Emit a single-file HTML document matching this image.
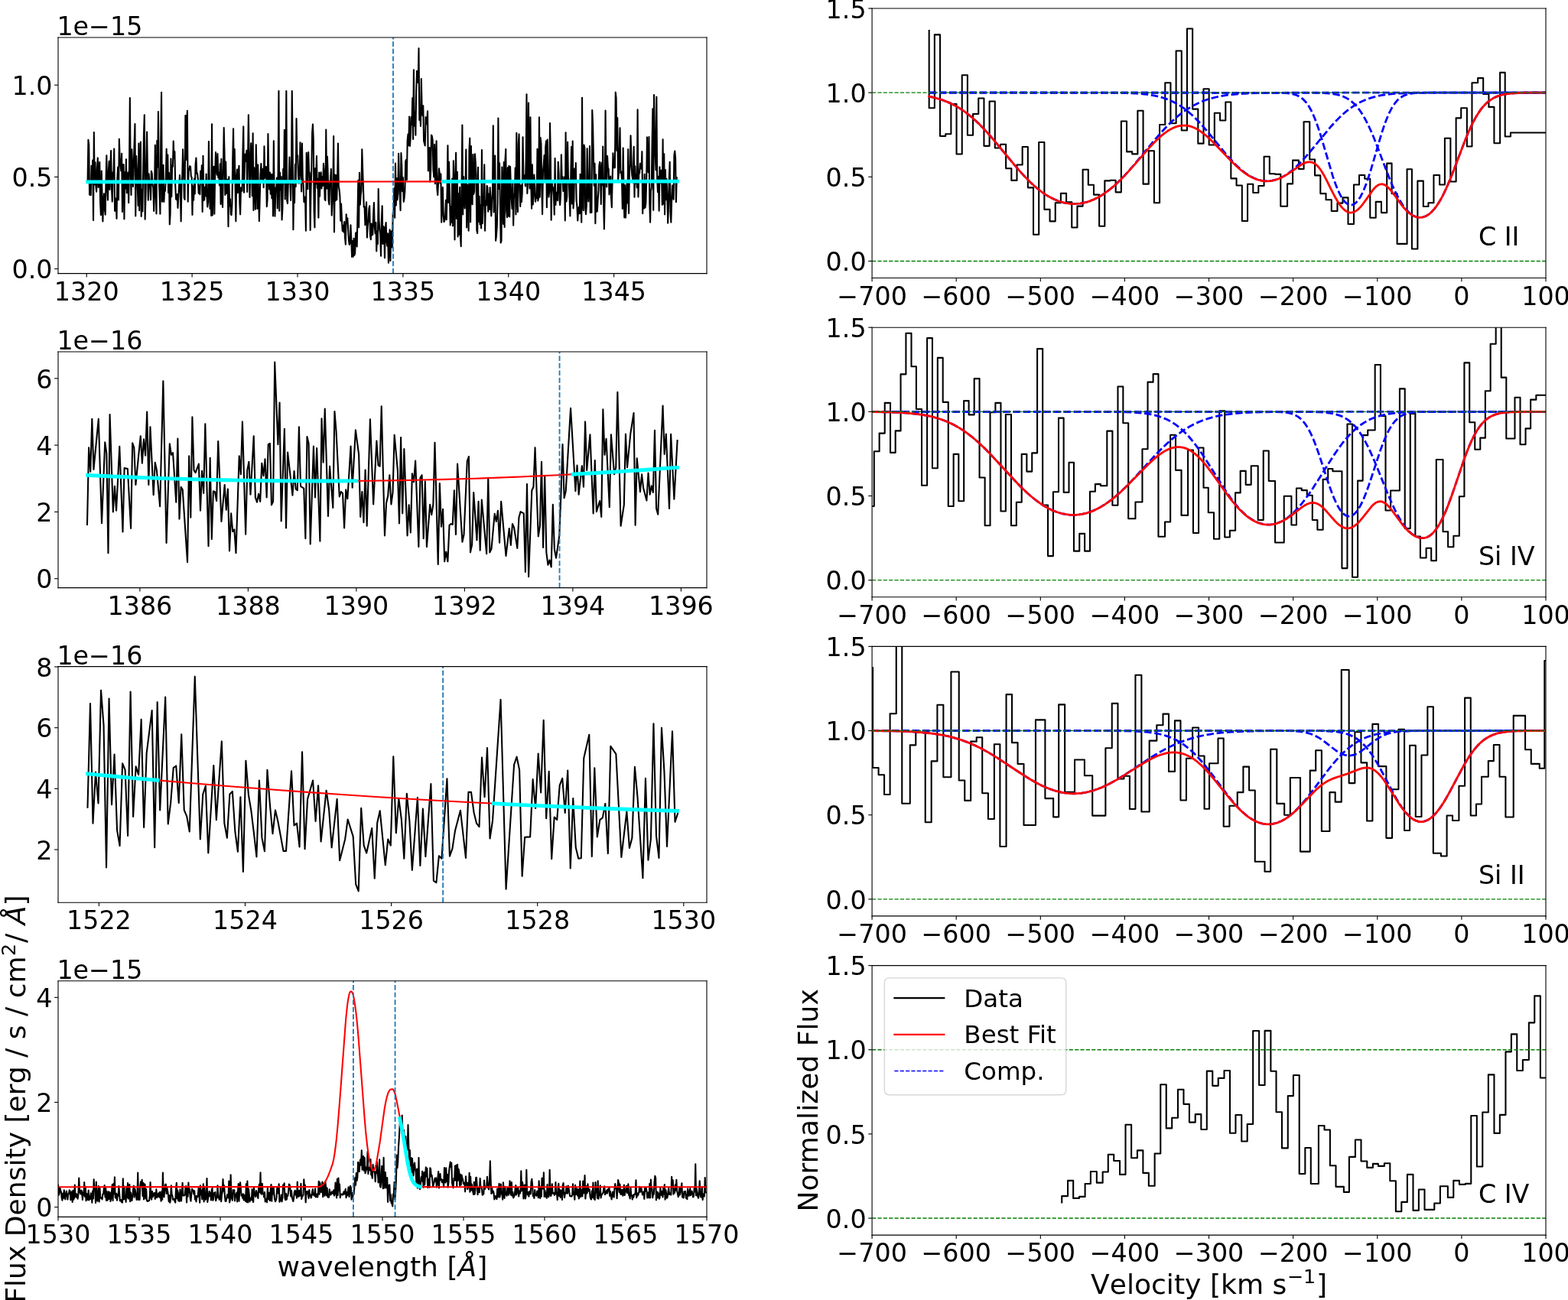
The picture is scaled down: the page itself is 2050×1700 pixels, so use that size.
<!DOCTYPE html>
<html><head><meta charset="utf-8"><title>spectra</title><style>html,body{margin:0;padding:0;background:#fff;width:2050px;height:1700px;overflow:hidden}svg{display:block}</style></head><body>
<svg xmlns:xlink="http://www.w3.org/1999/xlink" width="2050" height="1700" viewBox="0 0 1476 1224" xmlns="http://www.w3.org/2000/svg" version="1.1">
 <defs>
  <style type="text/css">*{stroke-linejoin: round; stroke-linecap: butt}</style>
 </defs>
 <g id="figure_1">
  <g id="patch_1">
   <path d="M 0 1224
L 1476 1224
L 1476 0
L 0 0
z
" style="fill: #ffffff"/>
  </g>
  <g id="axes_1">
   <g id="patch_2">
    <path d="M 54.72 257.47
L 665.28 257.47
L 665.28 35.28
L 54.72 35.28
z
" style="fill: #ffffff"/>
   </g>
   <g id="matplotlib.axis_1">
    <g id="xtick_1">
     <g id="line2d_1">
      <defs>
       <path id="m7c25c535dc" d="M 0 0
L 0 3.5
" style="stroke: #000000; stroke-width: 0.8"/>
      </defs>
      <g>
       <use xlink:href="#m7c25c535dc" x="81.52" y="257.47" style="stroke: #000000; stroke-width: 0.8"/>
      </g>
     </g>
     <g id="text_1">
      <text style="font-size: 24px; font-family: 'DejaVu Sans', 'Bitstream Vera Sans', 'Computer Modern Sans Serif', 'Lucida Grande', 'Verdana', 'Geneva', 'Lucid', 'Arial', 'Helvetica', 'Avant Garde', sans-serif; text-anchor: middle" x="81.52" y="282.70" transform="rotate(-0 81.52 282.70)">1320</text>
     </g>
    </g>
    <g id="xtick_2">
     <g id="line2d_2">
      <g>
       <use xlink:href="#m7c25c535dc" x="180.80" y="257.47" style="stroke: #000000; stroke-width: 0.8"/>
      </g>
     </g>
     <g id="text_2">
      <text style="font-size: 24px; font-family: 'DejaVu Sans', 'Bitstream Vera Sans', 'Computer Modern Sans Serif', 'Lucida Grande', 'Verdana', 'Geneva', 'Lucid', 'Arial', 'Helvetica', 'Avant Garde', sans-serif; text-anchor: middle" x="180.80" y="282.70" transform="rotate(-0 180.80 282.70)">1325</text>
     </g>
    </g>
    <g id="xtick_3">
     <g id="line2d_3">
      <g>
       <use xlink:href="#m7c25c535dc" x="280.08" y="257.47" style="stroke: #000000; stroke-width: 0.8"/>
      </g>
     </g>
     <g id="text_3">
      <text style="font-size: 24px; font-family: 'DejaVu Sans', 'Bitstream Vera Sans', 'Computer Modern Sans Serif', 'Lucida Grande', 'Verdana', 'Geneva', 'Lucid', 'Arial', 'Helvetica', 'Avant Garde', sans-serif; text-anchor: middle" x="280.08" y="282.70" transform="rotate(-0 280.08 282.70)">1330</text>
     </g>
    </g>
    <g id="xtick_4">
     <g id="line2d_4">
      <g>
       <use xlink:href="#m7c25c535dc" x="379.35" y="257.47" style="stroke: #000000; stroke-width: 0.8"/>
      </g>
     </g>
     <g id="text_4">
      <text style="font-size: 24px; font-family: 'DejaVu Sans', 'Bitstream Vera Sans', 'Computer Modern Sans Serif', 'Lucida Grande', 'Verdana', 'Geneva', 'Lucid', 'Arial', 'Helvetica', 'Avant Garde', sans-serif; text-anchor: middle" x="379.35" y="282.70" transform="rotate(-0 379.35 282.70)">1335</text>
     </g>
    </g>
    <g id="xtick_5">
     <g id="line2d_5">
      <g>
       <use xlink:href="#m7c25c535dc" x="478.63" y="257.47" style="stroke: #000000; stroke-width: 0.8"/>
      </g>
     </g>
     <g id="text_5">
      <text style="font-size: 24px; font-family: 'DejaVu Sans', 'Bitstream Vera Sans', 'Computer Modern Sans Serif', 'Lucida Grande', 'Verdana', 'Geneva', 'Lucid', 'Arial', 'Helvetica', 'Avant Garde', sans-serif; text-anchor: middle" x="478.63" y="282.70" transform="rotate(-0 478.63 282.70)">1340</text>
     </g>
    </g>
    <g id="xtick_6">
     <g id="line2d_6">
      <g>
       <use xlink:href="#m7c25c535dc" x="577.91" y="257.47" style="stroke: #000000; stroke-width: 0.8"/>
      </g>
     </g>
     <g id="text_6">
      <text style="font-size: 24px; font-family: 'DejaVu Sans', 'Bitstream Vera Sans', 'Computer Modern Sans Serif', 'Lucida Grande', 'Verdana', 'Geneva', 'Lucid', 'Arial', 'Helvetica', 'Avant Garde', sans-serif; text-anchor: middle" x="577.91" y="282.70" transform="rotate(-0 577.91 282.70)">1345</text>
     </g>
    </g>
   </g>
   <g id="matplotlib.axis_2">
    <g id="ytick_1">
     <g id="line2d_7">
      <defs>
       <path id="mb258c49b38" d="M 0 0
L -3.5 0
" style="stroke: #000000; stroke-width: 0.8"/>
      </defs>
      <g>
       <use xlink:href="#mb258c49b38" x="54.72" y="253.14" style="stroke: #000000; stroke-width: 0.8"/>
      </g>
     </g>
     <g id="text_7">
      <text style="font-size: 24px; font-family: 'DejaVu Sans', 'Bitstream Vera Sans', 'Computer Modern Sans Serif', 'Lucida Grande', 'Verdana', 'Geneva', 'Lucid', 'Arial', 'Helvetica', 'Avant Garde', sans-serif; text-anchor: end" x="49.32" y="262.26" transform="rotate(-0 49.32 262.26)">0.0</text>
     </g>
    </g>
    <g id="ytick_2">
     <g id="line2d_8">
      <g>
       <use xlink:href="#mb258c49b38" x="54.72" y="166.62" style="stroke: #000000; stroke-width: 0.8"/>
      </g>
     </g>
     <g id="text_8">
      <text style="font-size: 24px; font-family: 'DejaVu Sans', 'Bitstream Vera Sans', 'Computer Modern Sans Serif', 'Lucida Grande', 'Verdana', 'Geneva', 'Lucid', 'Arial', 'Helvetica', 'Avant Garde', sans-serif; text-anchor: end" x="49.32" y="175.74" transform="rotate(-0 49.32 175.74)">0.5</text>
     </g>
    </g>
    <g id="ytick_3">
     <g id="line2d_9">
      <g>
       <use xlink:href="#mb258c49b38" x="54.72" y="80.09" style="stroke: #000000; stroke-width: 0.8"/>
      </g>
     </g>
     <g id="text_9">
      <text style="font-size: 24px; font-family: 'DejaVu Sans', 'Bitstream Vera Sans', 'Computer Modern Sans Serif', 'Lucida Grande', 'Verdana', 'Geneva', 'Lucid', 'Arial', 'Helvetica', 'Avant Garde', sans-serif; text-anchor: end" x="49.32" y="89.21" transform="rotate(-0 49.32 89.21)">1.0</text>
     </g>
    </g>
    <g id="text_10">
     <text style="font-size: 24px; font-family: 'DejaVu Sans', 'Bitstream Vera Sans', 'Computer Modern Sans Serif', 'Lucida Grande', 'Verdana', 'Geneva', 'Lucid', 'Arial', 'Helvetica', 'Avant Garde', sans-serif; text-anchor: start" x="53.56" y="33.36" transform="rotate(-0 53.56 33.36)">1e−15</text>
    </g>
   </g>
   <g id="line2d_10">
    <path d="M 82.51 170.50
L 83.11 131.67
L 83.70 136.11
L 84.29 183.38
L 84.89 178.57
L 85.48 183.75
L 86.07 156.09
L 86.67 172.76
L 87.26 150.94
L 87.86 207.44
L 88.45 124.66
L 89.04 173.75
L 89.64 152.89
L 90.23 174.73
L 90.82 180.44
L 91.42 159.09
L 92.01 148.62
L 92.61 176.32
L 93.20 175.12
L 93.79 152.74
L 94.39 190.92
L 94.98 202.45
L 95.57 160.98
L 96.76 208.44
L 97.35 189.79
L 97.95 182.43
L 98.54 197.01
L 99.14 202.10
L 99.73 170.44
L 100.32 146.42
L 100.92 177.04
L 101.51 188.35
L 102.10 161.25
L 102.70 151.81
L 103.29 178.62
L 103.89 156.80
L 104.48 141.92
L 105.07 176.42
L 105.67 189.78
L 106.26 162.27
L 106.85 164.96
L 107.45 140.15
L 108.04 198.62
L 108.63 186.64
L 109.23 190.27
L 109.82 205.81
L 110.42 168.14
L 111.01 157.28
L 111.60 188.25
L 112.20 130.81
L 112.79 148.70
L 113.98 160.79
L 114.57 144.63
L 115.17 199.44
L 115.76 154.82
L 116.35 155.14
L 116.95 206.31
L 117.54 162.29
L 118.13 177.45
L 118.73 149.91
L 119.32 181.80
L 120.51 162.40
L 121.10 191.03
L 121.70 155.26
L 122.29 92.21
L 122.88 158.27
L 123.48 183.63
L 124.07 140.55
L 124.66 155.07
L 125.26 175.73
L 126.45 134.97
L 127.04 116.75
L 127.63 203.39
L 128.23 146.85
L 128.82 159.04
L 129.41 173.69
L 130.01 193.57
L 130.60 135.05
L 131.19 198.22
L 131.79 156.17
L 132.38 133.59
L 132.98 203.79
L 133.57 178.67
L 134.16 199.05
L 135.35 126.46
L 135.94 108.25
L 136.54 206.46
L 137.13 184.79
L 138.32 124.22
L 138.91 160.26
L 139.51 188.40
L 140.10 163.64
L 140.69 171.78
L 141.29 176.35
L 141.88 188.16
L 142.47 161.19
L 143.07 163.35
L 143.66 173.67
L 144.26 176.77
L 144.85 198.63
L 145.44 182.85
L 146.04 136.70
L 146.63 176.03
L 147.22 201.24
L 147.82 132.51
L 148.41 157.21
L 149.01 105.08
L 149.60 169.78
L 150.19 182.29
L 150.79 201.37
L 151.38 132.86
L 151.97 87.01
L 152.57 189.93
L 153.16 186.33
L 153.75 155.33
L 154.35 190.12
L 154.94 177.93
L 155.54 179.77
L 156.13 166.43
L 156.72 140.28
L 157.32 170.80
L 157.91 145.76
L 158.50 181.36
L 159.10 162.81
L 159.69 211.24
L 160.29 201.41
L 160.88 149.48
L 161.47 185.12
L 162.07 155.80
L 162.66 156.86
L 163.25 132.92
L 163.85 149.00
L 164.44 142.73
L 165.03 174.12
L 165.63 187.41
L 166.22 188.10
L 166.82 182.89
L 167.41 195.86
L 168.60 173.66
L 169.19 164.85
L 169.78 179.52
L 170.38 208.49
L 170.97 173.16
L 171.57 165.55
L 172.16 140.61
L 172.75 155.85
L 173.35 186.26
L 173.94 187.94
L 174.53 108.74
L 175.13 150.65
L 175.72 115.31
L 176.31 104.27
L 176.91 189.87
L 177.50 161.24
L 178.10 159.23
L 178.69 156.37
L 179.28 156.88
L 179.88 166.17
L 180.47 166.90
L 181.06 202.26
L 181.66 175.43
L 182.25 188.44
L 182.85 168.15
L 183.44 182.43
L 184.03 154.69
L 184.63 148.79
L 185.22 163.33
L 185.81 163.12
L 186.41 169.00
L 187.00 181.99
L 187.59 175.41
L 188.19 183.06
L 188.78 161.17
L 189.38 171.00
L 189.97 155.76
L 190.56 199.38
L 191.16 146.71
L 191.75 188.74
L 192.34 188.16
L 192.94 176.20
L 193.53 184.54
L 194.13 163.80
L 194.72 184.77
L 195.31 194.75
L 195.91 190.43
L 196.50 133.26
L 197.09 170.24
L 197.69 196.55
L 198.28 171.15
L 198.87 203.11
L 199.47 116.81
L 200.06 202.61
L 200.66 158.66
L 201.25 156.83
L 201.84 201.41
L 202.44 163.55
L 203.03 143.34
L 203.62 158.97
L 204.22 164.60
L 204.81 144.83
L 205.41 167.24
L 206.00 162.58
L 206.59 174.49
L 207.19 154.30
L 207.78 192.31
L 208.37 149.60
L 208.97 183.27
L 209.56 195.14
L 210.15 161.79
L 210.75 120.25
L 211.34 144.44
L 211.94 183.50
L 212.53 152.38
L 213.12 182.13
L 213.72 174.42
L 214.31 169.09
L 214.90 213.33
L 215.50 166.44
L 216.09 194.00
L 216.69 187.39
L 217.28 201.81
L 217.87 202.49
L 218.47 192.35
L 219.06 148.59
L 219.65 121.20
L 220.25 171.99
L 220.84 140.37
L 222.03 208.33
L 222.62 167.53
L 223.22 159.58
L 223.81 181.56
L 224.40 163.50
L 225.00 156.01
L 225.59 190.78
L 226.18 201.85
L 226.78 176.76
L 227.37 176.52
L 227.97 179.83
L 228.56 143.65
L 229.15 119.10
L 229.75 181.29
L 230.34 152.35
L 230.93 145.08
L 231.53 151.93
L 232.12 141.77
L 232.71 180.67
L 233.31 151.15
L 233.90 108.22
L 235.09 185.76
L 235.68 155.00
L 236.28 134.89
L 237.46 184.54
L 238.06 125.47
L 238.65 198.01
L 239.25 157.96
L 239.84 171.76
L 240.43 197.02
L 241.03 136.28
L 241.62 162.27
L 242.21 196.54
L 242.81 155.17
L 243.99 208.20
L 245.18 164.54
L 245.78 154.19
L 246.37 167.12
L 246.96 170.22
L 247.56 158.90
L 248.15 176.52
L 248.74 137.66
L 249.34 167.56
L 249.93 163.72
L 250.53 156.91
L 251.12 194.52
L 251.71 187.64
L 252.31 125.97
L 252.90 162.61
L 253.49 178.21
L 254.09 162.44
L 254.68 182.75
L 255.27 164.14
L 255.87 186.73
L 256.46 164.20
L 257.06 203.45
L 257.65 132.63
L 258.24 183.44
L 258.84 203.51
L 259.43 176.82
L 260.02 180.25
L 260.62 167.47
L 261.21 196.15
L 261.81 160.91
L 262.40 85.77
L 262.99 198.52
L 263.59 162.54
L 264.18 178.86
L 264.77 166.41
L 265.37 206.94
L 265.96 196.25
L 266.55 159.19
L 267.15 172.32
L 267.74 122.28
L 268.34 187.55
L 268.93 166.89
L 269.52 85.77
L 270.12 188.80
L 270.71 191.58
L 271.30 172.24
L 271.90 172.47
L 272.49 148.03
L 273.68 188.62
L 274.27 165.92
L 274.87 85.77
L 275.46 134.58
L 276.05 216.24
L 276.65 174.86
L 277.24 191.01
L 277.83 154.58
L 278.43 175.62
L 279.02 111.62
L 279.62 145.38
L 280.21 146.65
L 280.80 166.67
L 281.40 172.55
L 281.99 162.74
L 282.58 134.15
L 283.77 180.31
L 284.36 135.06
L 284.96 167.10
L 285.55 174.04
L 286.15 190.17
L 286.74 185.51
L 287.33 187.10
L 287.93 217.32
L 288.52 143.89
L 289.11 157.42
L 289.71 177.92
L 290.30 143.23
L 290.90 161.28
L 291.49 163.19
L 292.08 216.67
L 292.68 178.78
L 293.27 158.97
L 293.86 125.06
L 294.46 116.96
L 295.05 131.52
L 295.64 198.59
L 296.24 214.18
L 296.83 158.37
L 297.43 173.05
L 298.02 146.89
L 298.61 177.02
L 299.21 168.33
L 299.80 204.94
L 300.39 162.31
L 300.99 184.80
L 301.58 165.17
L 302.18 162.24
L 302.77 177.38
L 303.36 166.31
L 303.96 174.99
L 304.55 153.94
L 305.14 161.46
L 305.74 187.72
L 306.33 188.68
L 306.92 122.14
L 307.52 177.65
L 308.11 147.37
L 308.71 164.96
L 309.30 188.58
L 309.89 192.57
L 310.49 172.49
L 311.08 168.99
L 311.67 159.16
L 312.27 202.75
L 313.46 178.31
L 314.05 128.15
L 314.64 218.56
L 315.24 164.60
L 315.83 188.95
L 316.42 164.98
L 317.02 188.06
L 317.61 166.98
L 318.20 135.10
L 318.80 175.57
L 319.39 178.75
L 319.99 185.07
L 320.58 207.86
L 321.17 191.82
L 321.77 206.69
L 322.36 217.43
L 322.95 212.30
L 323.55 218.55
L 324.14 208.90
L 324.74 224.00
L 325.33 230.21
L 325.92 201.81
L 326.52 209.88
L 327.11 205.47
L 328.30 226.33
L 328.89 230.32
L 329.48 228.89
L 330.08 211.91
L 330.67 224.37
L 331.27 241.89
L 331.86 226.81
L 332.45 241.79
L 333.05 224.57
L 333.64 240.36
L 334.23 238.06
L 334.83 219.48
L 335.42 218.94
L 336.02 232.10
L 337.20 169.82
L 337.80 214.09
L 338.39 162.61
L 338.98 192.68
L 339.58 183.62
L 340.17 179.56
L 340.76 140.66
L 342.55 194.89
L 343.14 194.33
L 343.73 211.78
L 344.33 204.83
L 344.92 190.36
L 345.51 223.63
L 346.11 213.38
L 346.70 208.15
L 347.30 196.84
L 347.89 193.88
L 348.48 221.90
L 349.08 225.46
L 349.67 210.64
L 350.26 221.40
L 350.86 220.86
L 351.45 201.25
L 352.04 190.80
L 352.64 213.71
L 353.23 219.80
L 353.83 209.54
L 354.42 236.50
L 355.01 217.88
L 355.61 229.75
L 356.20 177.93
L 356.79 207.77
L 357.39 216.16
L 357.98 220.58
L 358.58 241.00
L 359.17 208.26
L 359.76 193.88
L 360.36 229.61
L 360.95 213.19
L 361.54 214.41
L 362.14 242.77
L 362.73 214.71
L 363.32 209.59
L 363.92 227.58
L 364.51 231.65
L 365.11 219.85
L 365.70 247.55
L 366.29 230.23
L 366.89 216.25
L 367.48 245.59
L 368.07 217.66
L 368.67 231.84
L 369.26 232.98
L 369.86 200.57
L 370.45 201.31
L 371.04 177.37
L 371.64 205.04
L 372.23 153.70
L 372.82 193.39
L 373.42 167.87
L 374.01 188.29
L 374.60 182.52
L 375.20 144.55
L 375.79 169.88
L 376.98 198.08
L 377.57 144.09
L 378.17 155.53
L 378.76 180.18
L 379.35 167.14
L 379.95 189.97
L 380.54 186.62
L 381.14 180.21
L 381.73 152.07
L 382.32 150.36
L 382.92 169.42
L 383.51 132.44
L 384.10 126.37
L 384.70 136.88
L 385.29 109.75
L 385.88 137.44
L 386.48 128.87
L 387.07 110.29
L 387.67 117.47
L 388.26 92.32
L 388.85 130.99
L 389.45 65.81
L 390.04 118.61
L 390.63 105.62
L 391.23 127.16
L 391.82 86.13
L 392.42 66.88
L 393.60 77.92
L 394.20 45.48
L 394.79 113.10
L 395.38 107.14
L 395.98 118.74
L 396.57 74.17
L 397.16 101.35
L 397.76 108.90
L 398.35 99.50
L 398.95 132.83
L 400.13 137.12
L 400.73 110.28
L 401.32 117.05
L 401.91 114.59
L 402.51 104.55
L 403.10 160.96
L 404.29 138.92
L 404.88 171.18
L 405.48 160.40
L 406.07 127.06
L 406.66 128.01
L 407.26 131.84
L 407.85 159.64
L 408.44 166.68
L 409.04 136.02
L 409.63 172.93
L 410.23 158.34
L 410.82 132.75
L 411.41 177.24
L 412.01 183.64
L 412.60 172.28
L 413.19 158.62
L 413.79 163.04
L 414.38 172.65
L 414.98 163.85
L 415.57 209.25
L 416.16 197.79
L 416.76 176.34
L 417.35 200.83
L 417.94 208.93
L 418.54 207.59
L 419.13 203.25
L 419.72 188.46
L 420.32 206.75
L 420.91 179.93
L 421.51 137.08
L 422.10 190.85
L 422.69 152.49
L 423.88 212.06
L 424.47 194.59
L 425.07 209.57
L 425.66 168.22
L 426.26 212.66
L 426.85 151.39
L 427.44 173.56
L 428.04 225.72
L 428.63 167.74
L 429.22 143.85
L 429.82 205.93
L 430.41 161.82
L 431.00 222.80
L 431.60 182.26
L 432.19 220.86
L 432.79 176.18
L 433.38 222.67
L 433.97 232.01
L 435.16 117.74
L 435.75 202.00
L 436.35 166.39
L 436.94 185.84
L 437.54 196.12
L 438.13 172.51
L 438.72 140.78
L 439.32 214.14
L 439.91 173.93
L 440.50 179.83
L 441.10 217.28
L 441.69 141.70
L 442.28 130.08
L 442.88 209.09
L 443.47 137.48
L 444.07 187.20
L 444.66 192.47
L 445.25 145.39
L 445.85 182.89
L 446.44 180.40
L 447.03 144.91
L 447.63 152.37
L 448.22 164.50
L 448.82 216.94
L 449.41 219.63
L 450.00 157.45
L 450.60 208.63
L 451.19 184.89
L 451.78 211.36
L 452.38 192.95
L 452.97 214.95
L 453.56 141.09
L 454.16 210.37
L 454.75 191.51
L 455.35 193.06
L 455.94 154.93
L 456.53 217.29
L 457.13 189.39
L 457.72 193.55
L 458.31 174.84
L 458.91 176.42
L 459.50 199.26
L 460.10 182.57
L 460.69 197.31
L 461.28 176.52
L 462.47 203.32
L 463.06 189.25
L 463.66 179.32
L 464.25 118.24
L 464.84 199.86
L 465.44 180.82
L 466.03 146.60
L 466.63 226.67
L 467.22 222.24
L 467.81 213.47
L 468.41 191.33
L 469.00 111.28
L 469.59 177.80
L 470.19 153.50
L 471.38 228.66
L 471.97 226.58
L 472.56 157.29
L 473.16 180.09
L 473.75 210.98
L 474.34 152.70
L 474.94 213.83
L 475.53 151.13
L 476.12 140.45
L 476.72 198.59
L 477.31 204.58
L 477.91 157.82
L 478.50 203.32
L 479.09 156.27
L 479.69 204.07
L 480.28 156.82
L 480.87 175.66
L 481.47 187.51
L 482.06 196.52
L 482.66 170.48
L 483.25 212.15
L 483.84 182.74
L 484.44 185.32
L 485.03 157.99
L 485.62 201.91
L 486.22 125.10
L 486.81 182.91
L 487.40 199.51
L 488.00 135.70
L 488.59 126.30
L 489.19 179.54
L 489.78 194.42
L 490.37 174.39
L 490.97 190.18
L 491.56 181.89
L 492.15 129.05
L 492.75 164.21
L 493.34 170.51
L 493.93 165.18
L 494.53 175.30
L 495.12 151.03
L 495.72 88.75
L 496.31 182.16
L 496.90 170.76
L 497.50 96.86
L 498.09 162.24
L 498.68 177.48
L 499.28 110.32
L 499.87 172.76
L 500.47 196.37
L 501.06 155.06
L 501.65 192.65
L 502.25 184.41
L 502.84 164.59
L 503.43 175.97
L 504.03 189.92
L 504.62 185.51
L 505.21 186.40
L 505.81 140.18
L 506.40 189.01
L 507.00 185.91
L 507.59 110.45
L 508.18 185.49
L 508.78 129.62
L 509.37 135.30
L 509.96 176.43
L 510.56 201.69
L 511.15 160.97
L 511.75 154.82
L 512.34 146.12
L 512.93 170.89
L 513.53 138.74
L 514.12 132.73
L 514.71 195.29
L 515.31 131.40
L 515.90 168.21
L 516.49 185.56
L 517.09 180.11
L 517.68 115.92
L 518.28 145.45
L 518.87 207.12
L 519.46 170.44
L 520.06 175.88
L 520.65 176.72
L 521.24 184.33
L 521.84 202.06
L 522.43 149.02
L 523.03 192.97
L 523.62 181.12
L 524.21 186.17
L 524.81 188.75
L 525.40 152.41
L 525.99 162.46
L 526.59 187.61
L 527.18 192.98
L 527.77 183.23
L 528.37 145.68
L 528.96 169.13
L 529.56 166.35
L 530.15 180.03
L 530.74 178.40
L 531.34 166.74
L 531.93 207.63
L 532.52 124.72
L 533.12 189.78
L 533.71 185.23
L 534.31 133.80
L 534.90 166.50
L 535.49 171.08
L 536.09 185.50
L 536.68 203.42
L 537.27 167.41
L 537.87 138.31
L 538.46 191.87
L 539.05 132.87
L 539.65 196.10
L 540.24 188.54
L 540.84 158.73
L 541.43 171.97
L 542.02 153.47
L 542.62 188.65
L 543.21 194.28
L 543.80 207.73
L 544.40 197.36
L 544.99 195.06
L 545.59 201.12
L 546.18 163.95
L 547.37 209.28
L 547.96 92.07
L 548.55 190.39
L 549.15 198.17
L 549.74 136.53
L 550.33 138.88
L 550.93 196.30
L 551.52 201.76
L 552.12 193.50
L 552.71 139.95
L 553.30 179.10
L 553.90 189.75
L 554.49 172.36
L 555.08 137.51
L 555.68 200.30
L 556.27 180.68
L 556.87 200.18
L 557.46 103.74
L 558.05 116.69
L 559.24 174.79
L 559.83 153.90
L 560.43 210.47
L 561.02 164.42
L 561.61 199.30
L 562.21 199.09
L 562.80 187.45
L 563.40 179.76
L 563.99 156.20
L 564.58 152.57
L 565.18 164.67
L 565.77 192.15
L 566.36 153.23
L 566.96 174.31
L 567.55 137.90
L 568.15 191.58
L 568.74 215.70
L 569.33 182.45
L 569.93 104.09
L 570.52 158.97
L 571.11 175.96
L 571.71 146.97
L 572.30 157.97
L 572.89 159.11
L 573.49 183.16
L 574.08 169.27
L 574.68 166.04
L 575.27 185.88
L 575.86 195.20
L 577.05 144.24
L 577.64 153.75
L 578.24 158.07
L 578.83 157.77
L 579.43 86.88
L 580.02 92.21
L 580.61 141.87
L 581.21 110.90
L 581.80 169.66
L 582.39 164.19
L 583.58 120.46
L 584.17 162.85
L 584.77 161.49
L 585.36 168.62
L 585.96 196.55
L 586.55 139.32
L 587.14 176.95
L 587.74 204.81
L 588.33 174.36
L 588.92 204.90
L 589.52 192.80
L 590.11 170.26
L 590.71 191.10
L 591.30 140.52
L 591.89 200.81
L 592.49 163.81
L 593.08 155.70
L 593.67 127.69
L 594.86 164.48
L 596.05 171.88
L 596.64 138.08
L 597.24 185.51
L 597.83 156.53
L 598.42 172.66
L 599.02 164.14
L 599.61 176.66
L 600.20 103.25
L 600.80 185.41
L 601.39 163.72
L 601.99 163.09
L 602.58 153.88
L 603.17 158.30
L 603.77 159.00
L 604.36 142.68
L 604.95 201.02
L 605.55 169.86
L 606.14 196.42
L 606.73 164.09
L 607.33 195.49
L 607.92 191.33
L 608.52 171.53
L 609.11 129.18
L 609.70 154.52
L 610.30 162.28
L 610.89 128.88
L 611.48 190.95
L 612.08 209.24
L 612.67 179.99
L 613.27 176.63
L 613.86 134.33
L 614.45 102.48
L 615.05 197.89
L 615.64 89.26
L 616.23 123.21
L 616.83 146.64
L 617.42 160.13
L 618.01 91.20
L 618.61 167.70
L 619.20 180.95
L 619.80 166.16
L 620.39 198.45
L 620.98 157.16
L 621.58 172.39
L 622.17 161.02
L 622.76 160.20
L 623.36 192.85
L 623.95 131.33
L 624.55 191.99
L 625.14 144.89
L 625.73 201.97
L 626.33 159.79
L 626.92 188.11
L 627.51 168.43
L 628.11 184.59
L 628.70 210.04
L 629.29 193.75
L 629.89 167.69
L 630.48 152.55
L 631.08 199.87
L 631.67 209.27
L 632.26 189.03
L 632.86 174.54
L 633.45 184.07
L 634.04 187.73
L 634.64 145.72
L 635.23 142.17
L 635.83 148.95
L 636.42 190.24
L 637.01 167.31
L 637.01 167.31
" clip-path="url(#pc1ba8b8812)" style="fill: none; stroke: #000000; stroke-width: 1.5; stroke-linecap: square"/>
   </g>
   <g id="line2d_11">
    <path d="M 282.06 171.12
L 417.08 170.94
" clip-path="url(#pc1ba8b8812)" style="fill: none; stroke: #ff0000; stroke-width: 1.5; stroke-linecap: square"/>
   </g>
   <g id="line2d_12">
    <path d="M 82.51 171.29
L 282.06 171.12
" clip-path="url(#pc1ba8b8812)" style="fill: none; stroke: #00ffff; stroke-width: 3.5; stroke-linecap: square"/>
   </g>
   <g id="line2d_13">
    <path d="M 417.08 170.94
L 637.48 170.77
" clip-path="url(#pc1ba8b8812)" style="fill: none; stroke: #00ffff; stroke-width: 3.5; stroke-linecap: square"/>
   </g>
   <g id="line2d_14">
    <path d="M 370.07 257.47
L 370.07 35.28
" clip-path="url(#pc1ba8b8812)" style="fill: none; stroke-dasharray: 4.81,2.08; stroke-dashoffset: 0; stroke: #1f77b4; stroke-width: 1.3"/>
   </g>
   <g id="patch_3">
    <path d="M 54.72 257.47
L 54.72 35.28
" style="fill: none; stroke: #000000; stroke-width: 0.8; stroke-linejoin: miter; stroke-linecap: square"/>
   </g>
   <g id="patch_4">
    <path d="M 665.28 257.47
L 665.28 35.28
" style="fill: none; stroke: #000000; stroke-width: 0.8; stroke-linejoin: miter; stroke-linecap: square"/>
   </g>
   <g id="patch_5">
    <path d="M 54.72 257.47
L 665.28 257.47
" style="fill: none; stroke: #000000; stroke-width: 0.8; stroke-linejoin: miter; stroke-linecap: square"/>
   </g>
   <g id="patch_6">
    <path d="M 54.72 35.28
L 665.28 35.28
" style="fill: none; stroke: #000000; stroke-width: 0.8; stroke-linejoin: miter; stroke-linecap: square"/>
   </g>
  </g>
  <g id="axes_2">
   <g id="patch_7">
    <path d="M 54.72 553.39
L 665.28 553.39
L 665.28 331.2
L 54.72 331.2
z
" style="fill: #ffffff"/>
   </g>
   <g id="matplotlib.axis_3">
    <g id="xtick_7">
     <g id="line2d_15">
      <g>
       <use xlink:href="#m7c25c535dc" x="131.68" y="553.39" style="stroke: #000000; stroke-width: 0.8"/>
      </g>
     </g>
     <g id="text_11">
      <text style="font-size: 24px; font-family: 'DejaVu Sans', 'Bitstream Vera Sans', 'Computer Modern Sans Serif', 'Lucida Grande', 'Verdana', 'Geneva', 'Lucid', 'Arial', 'Helvetica', 'Avant Garde', sans-serif; text-anchor: middle" x="131.68" y="578.62" transform="rotate(-0 131.68 578.62)">1386</text>
     </g>
    </g>
    <g id="xtick_8">
     <g id="line2d_16">
      <g>
       <use xlink:href="#m7c25c535dc" x="233.56" y="553.39" style="stroke: #000000; stroke-width: 0.8"/>
      </g>
     </g>
     <g id="text_12">
      <text style="font-size: 24px; font-family: 'DejaVu Sans', 'Bitstream Vera Sans', 'Computer Modern Sans Serif', 'Lucida Grande', 'Verdana', 'Geneva', 'Lucid', 'Arial', 'Helvetica', 'Avant Garde', sans-serif; text-anchor: middle" x="233.56" y="578.62" transform="rotate(-0 233.56 578.62)">1388</text>
     </g>
    </g>
    <g id="xtick_9">
     <g id="line2d_17">
      <g>
       <use xlink:href="#m7c25c535dc" x="335.44" y="553.39" style="stroke: #000000; stroke-width: 0.8"/>
      </g>
     </g>
     <g id="text_13">
      <text style="font-size: 24px; font-family: 'DejaVu Sans', 'Bitstream Vera Sans', 'Computer Modern Sans Serif', 'Lucida Grande', 'Verdana', 'Geneva', 'Lucid', 'Arial', 'Helvetica', 'Avant Garde', sans-serif; text-anchor: middle" x="335.44" y="578.62" transform="rotate(-0 335.44 578.62)">1390</text>
     </g>
    </g>
    <g id="xtick_10">
     <g id="line2d_18">
      <g>
       <use xlink:href="#m7c25c535dc" x="437.32" y="553.39" style="stroke: #000000; stroke-width: 0.8"/>
      </g>
     </g>
     <g id="text_14">
      <text style="font-size: 24px; font-family: 'DejaVu Sans', 'Bitstream Vera Sans', 'Computer Modern Sans Serif', 'Lucida Grande', 'Verdana', 'Geneva', 'Lucid', 'Arial', 'Helvetica', 'Avant Garde', sans-serif; text-anchor: middle" x="437.32" y="578.62" transform="rotate(-0 437.32 578.62)">1392</text>
     </g>
    </g>
    <g id="xtick_11">
     <g id="line2d_19">
      <g>
       <use xlink:href="#m7c25c535dc" x="539.20" y="553.39" style="stroke: #000000; stroke-width: 0.8"/>
      </g>
     </g>
     <g id="text_15">
      <text style="font-size: 24px; font-family: 'DejaVu Sans', 'Bitstream Vera Sans', 'Computer Modern Sans Serif', 'Lucida Grande', 'Verdana', 'Geneva', 'Lucid', 'Arial', 'Helvetica', 'Avant Garde', sans-serif; text-anchor: middle" x="539.20" y="578.62" transform="rotate(-0 539.20 578.62)">1394</text>
     </g>
    </g>
    <g id="xtick_12">
     <g id="line2d_20">
      <g>
       <use xlink:href="#m7c25c535dc" x="641.08" y="553.39" style="stroke: #000000; stroke-width: 0.8"/>
      </g>
     </g>
     <g id="text_16">
      <text style="font-size: 24px; font-family: 'DejaVu Sans', 'Bitstream Vera Sans', 'Computer Modern Sans Serif', 'Lucida Grande', 'Verdana', 'Geneva', 'Lucid', 'Arial', 'Helvetica', 'Avant Garde', sans-serif; text-anchor: middle" x="641.08" y="578.62" transform="rotate(-0 641.08 578.62)">1396</text>
     </g>
    </g>
   </g>
   <g id="matplotlib.axis_4">
    <g id="ytick_4">
     <g id="line2d_21">
      <g>
       <use xlink:href="#mb258c49b38" x="54.72" y="544.81" style="stroke: #000000; stroke-width: 0.8"/>
      </g>
     </g>
     <g id="text_17">
      <text style="font-size: 24px; font-family: 'DejaVu Sans', 'Bitstream Vera Sans', 'Computer Modern Sans Serif', 'Lucida Grande', 'Verdana', 'Geneva', 'Lucid', 'Arial', 'Helvetica', 'Avant Garde', sans-serif; text-anchor: end" x="49.32" y="553.93" transform="rotate(-0 49.32 553.93)">0</text>
     </g>
    </g>
    <g id="ytick_5">
     <g id="line2d_22">
      <g>
       <use xlink:href="#mb258c49b38" x="54.72" y="481.98" style="stroke: #000000; stroke-width: 0.8"/>
      </g>
     </g>
     <g id="text_18">
      <text style="font-size: 24px; font-family: 'DejaVu Sans', 'Bitstream Vera Sans', 'Computer Modern Sans Serif', 'Lucida Grande', 'Verdana', 'Geneva', 'Lucid', 'Arial', 'Helvetica', 'Avant Garde', sans-serif; text-anchor: end" x="49.32" y="491.10" transform="rotate(-0 49.32 491.10)">2</text>
     </g>
    </g>
    <g id="ytick_6">
     <g id="line2d_23">
      <g>
       <use xlink:href="#mb258c49b38" x="54.72" y="419.15" style="stroke: #000000; stroke-width: 0.8"/>
      </g>
     </g>
     <g id="text_19">
      <text style="font-size: 24px; font-family: 'DejaVu Sans', 'Bitstream Vera Sans', 'Computer Modern Sans Serif', 'Lucida Grande', 'Verdana', 'Geneva', 'Lucid', 'Arial', 'Helvetica', 'Avant Garde', sans-serif; text-anchor: end" x="49.32" y="428.27" transform="rotate(-0 49.32 428.27)">4</text>
     </g>
    </g>
    <g id="ytick_7">
     <g id="line2d_24">
      <g>
       <use xlink:href="#mb258c49b38" x="54.72" y="356.33" style="stroke: #000000; stroke-width: 0.8"/>
      </g>
     </g>
     <g id="text_20">
      <text style="font-size: 24px; font-family: 'DejaVu Sans', 'Bitstream Vera Sans', 'Computer Modern Sans Serif', 'Lucida Grande', 'Verdana', 'Geneva', 'Lucid', 'Arial', 'Helvetica', 'Avant Garde', sans-serif; text-anchor: end" x="49.32" y="365.44" transform="rotate(-0 49.32 365.44)">6</text>
     </g>
    </g>
    <g id="text_21">
     <text style="font-size: 24px; font-family: 'DejaVu Sans', 'Bitstream Vera Sans', 'Computer Modern Sans Serif', 'Lucida Grande', 'Verdana', 'Geneva', 'Lucid', 'Arial', 'Helvetica', 'Avant Garde', sans-serif; text-anchor: start" x="53.56" y="329.28" transform="rotate(-0 53.56 329.28)">1e−16</text>
    </g>
   </g>
   <g id="line2d_25">
    <path d="M 82.07 493.87
L 83.60 421.43
L 85.12 444.00
L 86.64 394.39
L 88.16 442.03
L 92.73 394.39
L 95.77 492.55
L 98.82 416.44
L 100.34 426.94
L 101.86 520.77
L 103.38 390.19
L 106.43 482.06
L 107.95 457.78
L 109.47 480.74
L 112.52 420.38
L 115.56 500.82
L 117.08 440.72
L 120.13 441.37
L 123.17 497.54
L 124.69 417.10
L 126.21 421.43
L 127.74 456.46
L 132.30 410.53
L 133.82 436.12
L 135.35 413.55
L 136.87 428.91
L 138.39 387.83
L 139.91 456.46
L 141.43 402.00
L 144.48 466.04
L 146.00 435.47
L 147.52 442.69
L 150.57 476.81
L 153.61 358.70
L 156.65 511.19
L 159.70 417.75
L 161.22 428.25
L 162.74 426.28
L 165.79 472.87
L 167.31 412.90
L 168.83 488.62
L 170.35 458.43
L 171.88 461.06
L 176.44 529.30
L 177.96 429.30
L 179.49 487.30
L 181.01 392.55
L 182.53 442.69
L 184.05 445.05
L 187.10 436.78
L 188.62 480.74
L 190.14 443.34
L 191.66 464.34
L 193.18 399.12
L 196.23 514.21
L 197.75 431.14
L 199.27 507.65
L 200.79 462.37
L 202.32 463.03
L 203.84 471.56
L 205.36 415.39
L 208.40 490.98
L 211.45 456.46
L 212.97 480.09
L 214.49 460.40
L 216.01 518.80
L 217.54 483.37
L 219.06 500.43
L 220.58 498.46
L 222.10 520.77
L 225.15 429.30
L 226.67 446.62
L 228.19 397.02
L 231.23 503.05
L 232.76 442.69
L 234.28 434.81
L 235.80 465.65
L 238.85 410.53
L 240.37 468.28
L 241.89 472.87
L 243.41 465.00
L 244.93 472.21
L 246.46 436.12
L 247.98 447.93
L 249.50 432.19
L 251.02 468.28
L 252.54 418.41
L 254.07 417.49
L 255.59 475.49
L 257.11 472.21
L 258.63 340.98
L 261.68 418.41
L 263.20 379.04
L 264.72 490.59
L 267.76 403.71
L 269.29 497.15
L 270.81 425.89
L 275.37 466.31
L 276.90 443.60
L 278.42 460.40
L 279.94 461.71
L 281.46 402.00
L 282.98 457.78
L 286.03 459.75
L 287.55 506.99
L 289.07 411.19
L 290.59 417.75
L 292.12 512.24
L 295.16 420.11
L 296.68 468.28
L 298.20 421.95
L 301.25 509.61
L 302.77 394.13
L 304.29 435.47
L 305.82 384.94
L 308.86 485.99
L 310.38 439.01
L 313.43 478.12
L 314.95 387.31
L 316.47 405.94
L 319.51 467.62
L 321.04 463.03
L 322.56 464.34
L 324.08 497.15
L 325.60 461.06
L 327.12 469.59
L 330.17 420.11
L 331.69 459.09
L 334.73 404.89
L 337.78 427.99
L 339.30 486.65
L 340.82 463.03
L 342.34 491.90
L 343.87 442.42
L 345.39 495.18
L 348.43 394.79
L 351.48 474.84
L 354.52 415.13
L 356.04 438.09
L 357.56 439.01
L 359.09 382.58
L 362.13 504.36
L 363.65 473.53
L 365.17 466.96
L 366.70 447.28
L 368.22 474.84
L 369.74 463.68
L 371.26 409.48
L 374.31 442.69
L 375.83 492.82
L 377.35 411.85
L 378.87 483.37
L 380.40 422.74
L 383.44 504.36
L 384.96 475.49
L 386.48 501.48
L 388.01 445.97
L 389.53 453.84
L 391.05 433.89
L 394.09 514.86
L 395.62 449.90
L 397.14 447.28
L 398.66 506.99
L 400.18 453.18
L 401.70 514.86
L 404.75 475.10
L 406.27 484.68
L 407.79 474.84
L 409.31 416.70
L 412.36 531.27
L 413.88 455.15
L 415.40 495.83
L 416.92 479.43
L 418.45 528.64
L 419.97 519.46
L 421.49 528.64
L 423.01 494.52
L 424.53 493.21
L 426.06 493.87
L 427.58 461.71
L 429.10 503.32
L 430.62 436.78
L 435.19 510.27
L 436.71 503.05
L 439.75 434.16
L 441.28 429.82
L 442.80 520.11
L 444.32 512.90
L 445.84 463.68
L 448.89 508.56
L 450.41 472.21
L 451.93 518.14
L 453.45 470.51
L 458.02 521.43
L 459.54 449.90
L 461.06 520.11
L 462.59 516.83
L 465.63 483.63
L 467.15 490.98
L 468.67 480.74
L 470.20 510.93
L 471.72 472.21
L 476.28 523.39
L 479.33 497.54
L 480.85 513.29
L 482.37 493.21
L 483.89 496.75
L 486.94 516.18
L 488.46 487.30
L 489.98 481.79
L 493.03 483.37
L 494.55 538.49
L 496.07 455.81
L 497.59 543.08
L 500.64 461.71
L 502.16 458.43
L 503.68 421.43
L 506.72 505.02
L 508.25 495.18
L 509.77 434.81
L 511.29 515.52
L 512.81 447.93
L 514.33 520.11
L 515.86 531.92
L 517.38 527.33
L 518.90 533.89
L 520.42 475.10
L 521.95 517.49
L 523.47 525.36
L 526.51 504.36
L 528.03 466.31
L 529.56 418.41
L 531.08 468.93
L 532.60 462.37
L 537.17 384.29
L 541.73 462.37
L 543.25 438.09
L 544.78 465.65
L 547.82 438.75
L 549.34 458.43
L 550.86 397.02
L 552.39 442.69
L 555.43 409.22
L 558.47 483.37
L 560.00 433.50
L 561.52 481.79
L 564.56 471.56
L 566.08 486.65
L 567.61 385.34
L 569.13 428.25
L 570.65 413.16
L 573.69 477.46
L 575.22 409.22
L 578.26 446.62
L 579.78 440.06
L 581.30 369.19
L 584.35 495.18
L 587.39 475.49
L 588.92 408.56
L 590.44 440.06
L 593.48 408.56
L 596.53 388.88
L 598.05 494.52
L 599.57 431.53
L 602.61 463.03
L 604.14 446.62
L 605.66 459.75
L 608.70 471.29
L 610.22 445.31
L 611.75 465.65
L 613.27 457.38
L 614.79 463.68
L 616.31 405.28
L 617.83 478.77
L 619.36 484.42
L 623.92 382.06
L 625.44 427.59
L 626.97 408.56
L 630.01 478.77
L 631.53 408.83
L 634.58 469.98
L 637.62 414.73
L 637.62 414.73
" clip-path="url(#p6748fe3856)" style="fill: none; stroke: #000000; stroke-width: 1.5; stroke-linecap: square"/>
   </g>
   <g id="line2d_26">
    <path d="M 335.44 452.77
L 342.47 452.71
L 349.49 452.64
L 356.52 452.56
L 363.55 452.47
L 370.57 452.36
L 377.60 452.25
L 384.63 452.12
L 391.65 451.99
L 398.68 451.84
L 405.70 451.68
L 412.73 451.51
L 419.76 451.33
L 426.78 451.14
L 433.81 450.93
L 440.83 450.72
L 447.86 450.49
L 454.89 450.25
L 461.91 450.01
L 468.94 449.75
L 475.96 449.48
L 482.99 449.19
L 490.02 448.90
L 497.04 448.60
L 504.07 448.28
L 511.10 447.95
L 518.12 447.62
L 525.15 447.27
L 532.17 446.91
L 539.20 446.54
" clip-path="url(#p6748fe3856)" style="fill: none; stroke: #ff0000; stroke-width: 1.5; stroke-linecap: square"/>
   </g>
   <g id="line2d_27">
    <path d="M 82.48 447.43
L 88.96 447.75
L 95.45 448.05
L 101.94 448.35
L 108.42 448.64
L 114.91 448.92
L 121.39 449.19
L 127.88 449.45
L 134.37 449.70
L 140.85 449.95
L 147.34 450.18
L 153.83 450.40
L 160.31 450.61
L 166.80 450.82
L 173.29 451.01
L 179.77 451.20
L 186.26 451.37
L 192.74 451.54
L 199.23 451.69
L 205.72 451.84
L 212.20 451.98
L 218.69 452.10
L 225.18 452.22
L 231.66 452.33
L 238.15 452.43
L 244.63 452.52
L 251.12 452.60
L 257.61 452.67
L 264.09 452.73
L 270.58 452.78
L 277.07 452.82
L 283.55 452.85
L 290.04 452.88
L 296.52 452.89
L 303.01 452.89
L 309.50 452.89
L 315.98 452.87
L 322.47 452.85
L 328.96 452.81
L 335.44 452.77
" clip-path="url(#p6748fe3856)" style="fill: none; stroke: #00ffff; stroke-width: 3.5; stroke-linecap: square"/>
   </g>
   <g id="line2d_28">
    <path d="M 539.20 446.54
L 544.37 446.25
L 549.55 445.97
L 554.72 445.67
L 559.90 445.38
L 565.07 445.07
L 570.25 444.76
L 575.42 444.44
L 580.59 444.12
L 585.77 443.79
L 590.94 443.46
L 596.12 443.11
L 601.29 442.77
L 606.47 442.41
L 611.64 442.05
L 616.82 441.69
L 621.99 441.32
L 627.16 440.94
L 632.34 440.56
L 637.51 440.17
" clip-path="url(#p6748fe3856)" style="fill: none; stroke: #00ffff; stroke-width: 3.5; stroke-linecap: square"/>
   </g>
   <g id="line2d_29">
    <path d="M 526.72 553.39
L 526.72 331.2
" clip-path="url(#p6748fe3856)" style="fill: none; stroke-dasharray: 4.81,2.08; stroke-dashoffset: 0; stroke: #1f77b4; stroke-width: 1.3"/>
   </g>
   <g id="patch_8">
    <path d="M 54.72 553.39
L 54.72 331.2
" style="fill: none; stroke: #000000; stroke-width: 0.8; stroke-linejoin: miter; stroke-linecap: square"/>
   </g>
   <g id="patch_9">
    <path d="M 665.28 553.39
L 665.28 331.2
" style="fill: none; stroke: #000000; stroke-width: 0.8; stroke-linejoin: miter; stroke-linecap: square"/>
   </g>
   <g id="patch_10">
    <path d="M 54.72 553.39
L 665.28 553.39
" style="fill: none; stroke: #000000; stroke-width: 0.8; stroke-linejoin: miter; stroke-linecap: square"/>
   </g>
   <g id="patch_11">
    <path d="M 54.72 331.2
L 665.28 331.2
" style="fill: none; stroke: #000000; stroke-width: 0.8; stroke-linejoin: miter; stroke-linecap: square"/>
   </g>
  </g>
  <g id="axes_3">
   <g id="patch_12">
    <path d="M 54.72 849.74
L 665.28 849.74
L 665.28 627.55
L 54.72 627.55
z
" style="fill: #ffffff"/>
   </g>
   <g id="matplotlib.axis_5">
    <g id="xtick_13">
     <g id="line2d_30">
      <g>
       <use xlink:href="#m7c25c535dc" x="93.17" y="849.74" style="stroke: #000000; stroke-width: 0.8"/>
      </g>
     </g>
     <g id="text_22">
      <text style="font-size: 24px; font-family: 'DejaVu Sans', 'Bitstream Vera Sans', 'Computer Modern Sans Serif', 'Lucida Grande', 'Verdana', 'Geneva', 'Lucid', 'Arial', 'Helvetica', 'Avant Garde', sans-serif; text-anchor: middle" x="93.17" y="874.98" transform="rotate(-0 93.17 874.98)">1522</text>
     </g>
    </g>
    <g id="xtick_14">
     <g id="line2d_31">
      <g>
       <use xlink:href="#m7c25c535dc" x="230.76" y="849.74" style="stroke: #000000; stroke-width: 0.8"/>
      </g>
     </g>
     <g id="text_23">
      <text style="font-size: 24px; font-family: 'DejaVu Sans', 'Bitstream Vera Sans', 'Computer Modern Sans Serif', 'Lucida Grande', 'Verdana', 'Geneva', 'Lucid', 'Arial', 'Helvetica', 'Avant Garde', sans-serif; text-anchor: middle" x="230.76" y="874.98" transform="rotate(-0 230.76 874.98)">1524</text>
     </g>
    </g>
    <g id="xtick_15">
     <g id="line2d_32">
      <g>
       <use xlink:href="#m7c25c535dc" x="368.35" y="849.74" style="stroke: #000000; stroke-width: 0.8"/>
      </g>
     </g>
     <g id="text_24">
      <text style="font-size: 24px; font-family: 'DejaVu Sans', 'Bitstream Vera Sans', 'Computer Modern Sans Serif', 'Lucida Grande', 'Verdana', 'Geneva', 'Lucid', 'Arial', 'Helvetica', 'Avant Garde', sans-serif; text-anchor: middle" x="368.35" y="874.98" transform="rotate(-0 368.35 874.98)">1526</text>
     </g>
    </g>
    <g id="xtick_16">
     <g id="line2d_33">
      <g>
       <use xlink:href="#m7c25c535dc" x="505.94" y="849.74" style="stroke: #000000; stroke-width: 0.8"/>
      </g>
     </g>
     <g id="text_25">
      <text style="font-size: 24px; font-family: 'DejaVu Sans', 'Bitstream Vera Sans', 'Computer Modern Sans Serif', 'Lucida Grande', 'Verdana', 'Geneva', 'Lucid', 'Arial', 'Helvetica', 'Avant Garde', sans-serif; text-anchor: middle" x="505.94" y="874.98" transform="rotate(-0 505.94 874.98)">1528</text>
     </g>
    </g>
    <g id="xtick_17">
     <g id="line2d_34">
      <g>
       <use xlink:href="#m7c25c535dc" x="643.54" y="849.74" style="stroke: #000000; stroke-width: 0.8"/>
      </g>
     </g>
     <g id="text_26">
      <text style="font-size: 24px; font-family: 'DejaVu Sans', 'Bitstream Vera Sans', 'Computer Modern Sans Serif', 'Lucida Grande', 'Verdana', 'Geneva', 'Lucid', 'Arial', 'Helvetica', 'Avant Garde', sans-serif; text-anchor: middle" x="643.54" y="874.98" transform="rotate(-0 643.54 874.98)">1530</text>
     </g>
    </g>
   </g>
   <g id="matplotlib.axis_6">
    <g id="ytick_8">
     <g id="line2d_35">
      <g>
       <use xlink:href="#mb258c49b38" x="54.72" y="799.92" style="stroke: #000000; stroke-width: 0.8"/>
      </g>
     </g>
     <g id="text_27">
      <text style="font-size: 24px; font-family: 'DejaVu Sans', 'Bitstream Vera Sans', 'Computer Modern Sans Serif', 'Lucida Grande', 'Verdana', 'Geneva', 'Lucid', 'Arial', 'Helvetica', 'Avant Garde', sans-serif; text-anchor: end" x="49.32" y="809.04" transform="rotate(-0 49.32 809.04)">2</text>
     </g>
    </g>
    <g id="ytick_9">
     <g id="line2d_36">
      <g>
       <use xlink:href="#mb258c49b38" x="54.72" y="742.56" style="stroke: #000000; stroke-width: 0.8"/>
      </g>
     </g>
     <g id="text_28">
      <text style="font-size: 24px; font-family: 'DejaVu Sans', 'Bitstream Vera Sans', 'Computer Modern Sans Serif', 'Lucida Grande', 'Verdana', 'Geneva', 'Lucid', 'Arial', 'Helvetica', 'Avant Garde', sans-serif; text-anchor: end" x="49.32" y="751.68" transform="rotate(-0 49.32 751.68)">4</text>
     </g>
    </g>
    <g id="ytick_10">
     <g id="line2d_37">
      <g>
       <use xlink:href="#mb258c49b38" x="54.72" y="685.20" style="stroke: #000000; stroke-width: 0.8"/>
      </g>
     </g>
     <g id="text_29">
      <text style="font-size: 24px; font-family: 'DejaVu Sans', 'Bitstream Vera Sans', 'Computer Modern Sans Serif', 'Lucida Grande', 'Verdana', 'Geneva', 'Lucid', 'Arial', 'Helvetica', 'Avant Garde', sans-serif; text-anchor: end" x="49.32" y="694.31" transform="rotate(-0 49.32 694.31)">6</text>
     </g>
    </g>
    <g id="ytick_11">
     <g id="line2d_38">
      <g>
       <use xlink:href="#mb258c49b38" x="54.72" y="627.83" style="stroke: #000000; stroke-width: 0.8"/>
      </g>
     </g>
     <g id="text_30">
      <text style="font-size: 24px; font-family: 'DejaVu Sans', 'Bitstream Vera Sans', 'Computer Modern Sans Serif', 'Lucida Grande', 'Verdana', 'Geneva', 'Lucid', 'Arial', 'Helvetica', 'Avant Garde', sans-serif; text-anchor: end" x="49.32" y="636.95" transform="rotate(-0 49.32 636.95)">8</text>
     </g>
    </g>
    <g id="text_31">
     <text style="font-size: 24px; font-family: 'DejaVu Sans', 'Bitstream Vera Sans', 'Computer Modern Sans Serif', 'Lucida Grande', 'Verdana', 'Geneva', 'Lucid', 'Arial', 'Helvetica', 'Avant Garde', sans-serif; text-anchor: start" x="53.56" y="625.63" transform="rotate(-0 53.56 625.63)">1e−16</text>
    </g>
   </g>
   <g id="line2d_39">
    <path d="M 82.43 760.17
L 84.96 662.39
L 87.48 775.17
L 90.01 726.93
L 92.53 756.26
L 95.06 650.00
L 97.58 682.60
L 100.11 816.89
L 102.63 657.82
L 105.16 757.57
L 107.69 710.24
L 110.21 781.69
L 112.74 796.29
L 115.26 718.71
L 117.79 724.97
L 120.31 786.90
L 122.84 651.30
L 125.36 768.91
L 127.89 721.71
L 130.41 729.53
L 132.94 677.38
L 135.46 779.08
L 137.99 709.32
L 143.04 668.91
L 145.56 797.99
L 148.09 661.08
L 150.61 762.78
L 155.66 656.26
L 158.19 775.82
L 160.71 755.61
L 163.24 723.01
L 165.76 721.06
L 168.29 756.00
L 170.81 691.33
L 173.34 762.78
L 175.86 768.65
L 178.39 782.99
L 183.44 636.96
L 188.49 790.16
L 191.01 747.79
L 193.54 739.96
L 196.06 803.20
L 201.11 720.67
L 203.64 771.91
L 208.69 697.98
L 211.21 775.17
L 213.74 788.86
L 216.26 747.79
L 218.79 745.18
L 221.31 782.99
L 223.84 801.90
L 226.36 750.40
L 228.89 820.80
L 231.41 716.23
L 233.94 748.44
L 236.46 763.43
L 238.99 784.30
L 241.51 806.72
L 244.04 734.75
L 246.56 788.86
L 249.09 801.51
L 251.61 724.97
L 254.14 758.22
L 256.66 784.95
L 259.19 762.78
L 261.71 773.86
L 266.76 801.25
L 269.29 801.25
L 274.34 726.01
L 276.86 777.12
L 279.39 775.17
L 281.91 797.33
L 284.44 708.02
L 286.96 799.29
L 289.49 752.35
L 294.54 734.75
L 297.06 773.21
L 299.59 739.70
L 302.11 792.38
L 307.16 744.27
L 309.69 762.13
L 312.21 797.99
L 317.26 752.35
L 319.79 810.11
L 324.84 790.16
L 327.36 771.52
L 332.41 787.56
L 334.94 832.54
L 337.46 839.06
L 339.99 760.83
L 342.51 796.03
L 345.04 803.20
L 350.09 779.73
L 352.61 827.06
L 355.14 774.52
L 357.66 763.43
L 362.71 814.55
L 365.24 790.16
L 367.76 796.03
L 370.29 712.32
L 372.81 784.30
L 375.34 751.70
L 377.86 771.26
L 380.39 808.42
L 382.91 747.14
L 385.44 772.56
L 387.96 819.24
L 393.01 751.05
L 395.54 814.94
L 398.06 761.48
L 400.59 806.46
L 405.64 738.01
L 408.16 829.28
L 410.69 830.97
L 413.21 805.81
L 415.74 808.42
L 420.79 733.18
L 423.31 806.20
L 425.84 798.90
L 428.36 782.34
L 433.41 763.04
L 438.46 807.77
L 440.99 745.83
L 443.51 745.83
L 446.04 764.74
L 448.56 775.17
L 451.09 778.43
L 453.61 713.24
L 456.14 750.40
L 458.66 704.11
L 461.19 789.51
L 463.71 772.56
L 471.29 658.74
L 476.34 837.10
L 483.91 720.02
L 486.44 712.58
L 488.96 724.97
L 491.49 824.98
L 494.01 788.21
L 499.06 787.95
L 501.59 733.71
L 504.11 761.09
L 506.64 709.59
L 509.16 746.22
L 511.69 678.03
L 514.21 770.61
L 516.74 726.27
L 519.26 808.68
L 521.79 769.30
L 524.31 771.91
L 526.84 739.31
L 529.36 732.79
L 531.89 765.39
L 534.41 725.36
L 536.94 817.54
L 539.46 751.70
L 541.99 797.99
L 544.51 808.42
L 547.04 808.03
L 549.56 713.89
L 554.61 691.72
L 557.14 806.46
L 559.66 723.01
L 562.19 787.95
L 564.71 771.91
L 567.24 769.95
L 569.76 756.65
L 572.29 803.59
L 574.81 702.54
L 579.86 709.98
L 584.91 807.11
L 589.96 764.09
L 592.49 798.38
L 595.01 788.86
L 597.54 721.97
L 600.06 749.74
L 605.11 826.67
L 607.64 732.79
L 610.16 809.72
L 612.69 789.51
L 615.21 681.29
L 617.74 786.90
L 620.26 807.77
L 622.79 685.20
L 625.31 726.93
L 627.84 797.07
L 632.89 688.46
L 635.41 773.86
L 637.94 766.04
L 637.94 766.04
" clip-path="url(#p2519408e48)" style="fill: none; stroke: #000000; stroke-width: 1.5; stroke-linecap: square"/>
   </g>
   <g id="line2d_40">
    <path d="M 148.21 734.61
L 183.37 737.64
L 218.53 740.52
L 253.69 743.26
L 288.86 745.85
L 324.02 748.29
L 359.18 750.58
L 394.34 752.72
L 429.51 754.72
L 464.67 756.56
" clip-path="url(#p2519408e48)" style="fill: none; stroke: #ff0000; stroke-width: 1.5; stroke-linecap: square"/>
   </g>
   <g id="line2d_41">
    <path d="M 82.44 728.55
L 89.75 729.25
L 97.05 729.94
L 104.36 730.63
L 111.67 731.31
L 118.98 731.98
L 126.29 732.65
L 133.59 733.31
L 140.90 733.96
L 148.21 734.61
" clip-path="url(#p2519408e48)" style="fill: none; stroke: #00ffff; stroke-width: 3.5; stroke-linecap: square"/>
   </g>
   <g id="line2d_42">
    <path d="M 464.67 756.56
L 483.87 757.51
L 503.07 758.41
L 522.27 759.27
L 541.47 760.09
L 560.68 760.86
L 579.88 761.58
L 599.08 762.27
L 618.28 762.90
L 637.48 763.50
" clip-path="url(#p2519408e48)" style="fill: none; stroke: #00ffff; stroke-width: 3.5; stroke-linecap: square"/>
   </g>
   <g id="line2d_43">
    <path d="M 416.99 849.74
L 416.99 627.55
" clip-path="url(#p2519408e48)" style="fill: none; stroke-dasharray: 4.81,2.08; stroke-dashoffset: 0; stroke: #1f77b4; stroke-width: 1.3"/>
   </g>
   <g id="patch_13">
    <path d="M 54.72 849.74
L 54.72 627.55
" style="fill: none; stroke: #000000; stroke-width: 0.8; stroke-linejoin: miter; stroke-linecap: square"/>
   </g>
   <g id="patch_14">
    <path d="M 665.28 849.74
L 665.28 627.55
" style="fill: none; stroke: #000000; stroke-width: 0.8; stroke-linejoin: miter; stroke-linecap: square"/>
   </g>
   <g id="patch_15">
    <path d="M 54.72 849.74
L 665.28 849.74
" style="fill: none; stroke: #000000; stroke-width: 0.8; stroke-linejoin: miter; stroke-linecap: square"/>
   </g>
   <g id="patch_16">
    <path d="M 54.72 627.55
L 665.28 627.55
" style="fill: none; stroke: #000000; stroke-width: 0.8; stroke-linejoin: miter; stroke-linecap: square"/>
   </g>
  </g>
  <g id="axes_4">
   <g id="patch_17">
    <path d="M 54.72 1145.80
L 665.28 1145.80
L 665.28 923.61
L 54.72 923.61
z
" style="fill: #ffffff"/>
   </g>
   <g id="matplotlib.axis_7">
    <g id="xtick_18">
     <g id="line2d_44">
      <g>
       <use xlink:href="#m7c25c535dc" x="54.72" y="1145.80" style="stroke: #000000; stroke-width: 0.8"/>
      </g>
     </g>
     <g id="text_32">
      <text style="font-size: 24px; font-family: 'DejaVu Sans', 'Bitstream Vera Sans', 'Computer Modern Sans Serif', 'Lucida Grande', 'Verdana', 'Geneva', 'Lucid', 'Arial', 'Helvetica', 'Avant Garde', sans-serif; text-anchor: middle" x="54.72" y="1171.04" transform="rotate(-0 54.72 1171.04)">1530</text>
     </g>
    </g>
    <g id="xtick_19">
     <g id="line2d_45">
      <g>
       <use xlink:href="#m7c25c535dc" x="131.04" y="1145.80" style="stroke: #000000; stroke-width: 0.8"/>
      </g>
     </g>
     <g id="text_33">
      <text style="font-size: 24px; font-family: 'DejaVu Sans', 'Bitstream Vera Sans', 'Computer Modern Sans Serif', 'Lucida Grande', 'Verdana', 'Geneva', 'Lucid', 'Arial', 'Helvetica', 'Avant Garde', sans-serif; text-anchor: middle" x="131.04" y="1171.04" transform="rotate(-0 131.04 1171.04)">1535</text>
     </g>
    </g>
    <g id="xtick_20">
     <g id="line2d_46">
      <g>
       <use xlink:href="#m7c25c535dc" x="207.36" y="1145.80" style="stroke: #000000; stroke-width: 0.8"/>
      </g>
     </g>
     <g id="text_34">
      <text style="font-size: 24px; font-family: 'DejaVu Sans', 'Bitstream Vera Sans', 'Computer Modern Sans Serif', 'Lucida Grande', 'Verdana', 'Geneva', 'Lucid', 'Arial', 'Helvetica', 'Avant Garde', sans-serif; text-anchor: middle" x="207.36" y="1171.04" transform="rotate(-0 207.36 1171.04)">1540</text>
     </g>
    </g>
    <g id="xtick_21">
     <g id="line2d_47">
      <g>
       <use xlink:href="#m7c25c535dc" x="283.68" y="1145.80" style="stroke: #000000; stroke-width: 0.8"/>
      </g>
     </g>
     <g id="text_35">
      <text style="font-size: 24px; font-family: 'DejaVu Sans', 'Bitstream Vera Sans', 'Computer Modern Sans Serif', 'Lucida Grande', 'Verdana', 'Geneva', 'Lucid', 'Arial', 'Helvetica', 'Avant Garde', sans-serif; text-anchor: middle" x="283.68" y="1171.04" transform="rotate(-0 283.68 1171.04)">1545</text>
     </g>
    </g>
    <g id="xtick_22">
     <g id="line2d_48">
      <g>
       <use xlink:href="#m7c25c535dc" x="360" y="1145.80" style="stroke: #000000; stroke-width: 0.8"/>
      </g>
     </g>
     <g id="text_36">
      <text style="font-size: 24px; font-family: 'DejaVu Sans', 'Bitstream Vera Sans', 'Computer Modern Sans Serif', 'Lucida Grande', 'Verdana', 'Geneva', 'Lucid', 'Arial', 'Helvetica', 'Avant Garde', sans-serif; text-anchor: middle" x="360" y="1171.04" transform="rotate(-0 360 1171.04)">1550</text>
     </g>
    </g>
    <g id="xtick_23">
     <g id="line2d_49">
      <g>
       <use xlink:href="#m7c25c535dc" x="436.32" y="1145.80" style="stroke: #000000; stroke-width: 0.8"/>
      </g>
     </g>
     <g id="text_37">
      <text style="font-size: 24px; font-family: 'DejaVu Sans', 'Bitstream Vera Sans', 'Computer Modern Sans Serif', 'Lucida Grande', 'Verdana', 'Geneva', 'Lucid', 'Arial', 'Helvetica', 'Avant Garde', sans-serif; text-anchor: middle" x="436.32" y="1171.04" transform="rotate(-0 436.32 1171.04)">1555</text>
     </g>
    </g>
    <g id="xtick_24">
     <g id="line2d_50">
      <g>
       <use xlink:href="#m7c25c535dc" x="512.64" y="1145.80" style="stroke: #000000; stroke-width: 0.8"/>
      </g>
     </g>
     <g id="text_38">
      <text style="font-size: 24px; font-family: 'DejaVu Sans', 'Bitstream Vera Sans', 'Computer Modern Sans Serif', 'Lucida Grande', 'Verdana', 'Geneva', 'Lucid', 'Arial', 'Helvetica', 'Avant Garde', sans-serif; text-anchor: middle" x="512.64" y="1171.04" transform="rotate(-0 512.64 1171.04)">1560</text>
     </g>
    </g>
    <g id="xtick_25">
     <g id="line2d_51">
      <g>
       <use xlink:href="#m7c25c535dc" x="588.96" y="1145.80" style="stroke: #000000; stroke-width: 0.8"/>
      </g>
     </g>
     <g id="text_39">
      <text style="font-size: 24px; font-family: 'DejaVu Sans', 'Bitstream Vera Sans', 'Computer Modern Sans Serif', 'Lucida Grande', 'Verdana', 'Geneva', 'Lucid', 'Arial', 'Helvetica', 'Avant Garde', sans-serif; text-anchor: middle" x="588.96" y="1171.04" transform="rotate(-0 588.96 1171.04)">1565</text>
     </g>
    </g>
    <g id="xtick_26">
     <g id="line2d_52">
      <g>
       <use xlink:href="#m7c25c535dc" x="665.28" y="1145.80" style="stroke: #000000; stroke-width: 0.8"/>
      </g>
     </g>
     <g id="text_40">
      <text style="font-size: 24px; font-family: 'DejaVu Sans', 'Bitstream Vera Sans', 'Computer Modern Sans Serif', 'Lucida Grande', 'Verdana', 'Geneva', 'Lucid', 'Arial', 'Helvetica', 'Avant Garde', sans-serif; text-anchor: middle" x="665.28" y="1171.04" transform="rotate(-0 665.28 1171.04)">1570</text>
     </g>
    </g>
    <g id="text_41">
    
     <g transform="translate(261.07 1202.63)">
      <text>
       <tspan x="0" y="-0.85" style="font-size: 26px; font-family: 'DejaVu Sans'">w</tspan>
       <tspan x="21.26" y="-0.85" style="font-size: 26px; font-family: 'DejaVu Sans'">a</tspan>
       <tspan x="37.19" y="-0.85" style="font-size: 26px; font-family: 'DejaVu Sans'">v</tspan>
       <tspan x="52.58" y="-0.85" style="font-size: 26px; font-family: 'DejaVu Sans'">e</tspan>
       <tspan x="68.58" y="-0.85" style="font-size: 26px; font-family: 'DejaVu Sans'">l</tspan>
       <tspan x="75.80" y="-0.85" style="font-size: 26px; font-family: 'DejaVu Sans'">e</tspan>
       <tspan x="91.79" y="-0.85" style="font-size: 26px; font-family: 'DejaVu Sans'">n</tspan>
       <tspan x="108.27" y="-0.85" style="font-size: 26px; font-family: 'DejaVu Sans'">g</tspan>
       <tspan x="124.78" y="-0.85" style="font-size: 26px; font-family: 'DejaVu Sans'">t</tspan>
       <tspan x="134.97" y="-0.85" style="font-size: 26px; font-family: 'DejaVu Sans'">h</tspan>
       <tspan x="151.45" y="-0.85" style="font-size: 26px; font-family: 'DejaVu Sans'"> </tspan>
       <tspan x="159.71" y="-0.85" style="font-size: 26px; font-family: 'DejaVu Sans'">[</tspan>
       <tspan x="187.64" y="-0.85" style="font-size: 26px; font-family: 'DejaVu Sans'">]</tspan>
       <tspan x="169.86" y="-0.85" style="font-style: oblique; font-size: 26px; font-family: 'DejaVu Sans'">Å</tspan>
      </text>
     </g>
    </g>
   </g>
   <g id="matplotlib.axis_8">
    <g id="ytick_12">
     <g id="line2d_53">
      <g>
       <use xlink:href="#mb258c49b38" x="54.72" y="1136.53" style="stroke: #000000; stroke-width: 0.8"/>
      </g>
     </g>
     <g id="text_42">
      <text style="font-size: 24px; font-family: 'DejaVu Sans', 'Bitstream Vera Sans', 'Computer Modern Sans Serif', 'Lucida Grande', 'Verdana', 'Geneva', 'Lucid', 'Arial', 'Helvetica', 'Avant Garde', sans-serif; text-anchor: end" x="49.32" y="1145.64" transform="rotate(-0 49.32 1145.64)">0</text>
     </g>
    </g>
    <g id="ytick_13">
     <g id="line2d_54">
      <g>
       <use xlink:href="#mb258c49b38" x="54.72" y="1037.84" style="stroke: #000000; stroke-width: 0.8"/>
      </g>
     </g>
     <g id="text_43">
      <text style="font-size: 24px; font-family: 'DejaVu Sans', 'Bitstream Vera Sans', 'Computer Modern Sans Serif', 'Lucida Grande', 'Verdana', 'Geneva', 'Lucid', 'Arial', 'Helvetica', 'Avant Garde', sans-serif; text-anchor: end" x="49.32" y="1046.96" transform="rotate(-0 49.32 1046.96)">2</text>
     </g>
    </g>
    <g id="ytick_14">
     <g id="line2d_55">
      <g>
       <use xlink:href="#mb258c49b38" x="54.72" y="939.15" style="stroke: #000000; stroke-width: 0.8"/>
      </g>
     </g>
     <g id="text_44">
      <text style="font-size: 24px; font-family: 'DejaVu Sans', 'Bitstream Vera Sans', 'Computer Modern Sans Serif', 'Lucida Grande', 'Verdana', 'Geneva', 'Lucid', 'Arial', 'Helvetica', 'Avant Garde', sans-serif; text-anchor: end" x="49.32" y="948.27" transform="rotate(-0 49.32 948.27)">4</text>
     </g>
    </g>
    <g id="text_45">
    
     <g transform="translate(24.95 1226.72) rotate(-90)">
      <text>
       <tspan x="0" y="-0.85" style="font-size: 26px; font-family: 'DejaVu Sans'">F</tspan>
       <tspan x="14.95" y="-0.85" style="font-size: 26px; font-family: 'DejaVu Sans'">l</tspan>
       <tspan x="22.17" y="-0.85" style="font-size: 26px; font-family: 'DejaVu Sans'">u</tspan>
       <tspan x="38.65" y="-0.85" style="font-size: 26px; font-family: 'DejaVu Sans'">x</tspan>
       <tspan x="54.04" y="-0.85" style="font-size: 26px; font-family: 'DejaVu Sans'"> </tspan>
       <tspan x="62.30" y="-0.85" style="font-size: 26px; font-family: 'DejaVu Sans'">D</tspan>
       <tspan x="82.32" y="-0.85" style="font-size: 26px; font-family: 'DejaVu Sans'">e</tspan>
       <tspan x="98.32" y="-0.85" style="font-size: 26px; font-family: 'DejaVu Sans'">n</tspan>
       <tspan x="114.80" y="-0.85" style="font-size: 26px; font-family: 'DejaVu Sans'">s</tspan>
       <tspan x="128.34" y="-0.85" style="font-size: 26px; font-family: 'DejaVu Sans'">i</tspan>
       <tspan x="135.57" y="-0.85" style="font-size: 26px; font-family: 'DejaVu Sans'">t</tspan>
       <tspan x="145.76" y="-0.85" style="font-size: 26px; font-family: 'DejaVu Sans'">y</tspan>
       <tspan x="161.15" y="-0.85" style="font-size: 26px; font-family: 'DejaVu Sans'"> </tspan>
       <tspan x="169.41" y="-0.85" style="font-size: 26px; font-family: 'DejaVu Sans'">[</tspan>
       <tspan x="179.56" y="-0.85" style="font-size: 26px; font-family: 'DejaVu Sans'">e</tspan>
       <tspan x="195.55" y="-0.85" style="font-size: 26px; font-family: 'DejaVu Sans'">r</tspan>
       <tspan x="206.24" y="-0.85" style="font-size: 26px; font-family: 'DejaVu Sans'">g</tspan>
       <tspan x="222.75" y="-0.85" style="font-size: 26px; font-family: 'DejaVu Sans'"> </tspan>
       <tspan x="231.01" y="-0.85" style="font-size: 26px; font-family: 'DejaVu Sans'">/</tspan>
       <tspan x="239.77" y="-0.85" style="font-size: 26px; font-family: 'DejaVu Sans'"> </tspan>
       <tspan x="248.04" y="-0.85" style="font-size: 26px; font-family: 'DejaVu Sans'">s</tspan>
       <tspan x="261.58" y="-0.85" style="font-size: 26px; font-family: 'DejaVu Sans'"> </tspan>
       <tspan x="269.85" y="-0.85" style="font-size: 26px; font-family: 'DejaVu Sans'">/</tspan>
       <tspan x="278.61" y="-0.85" style="font-size: 26px; font-family: 'DejaVu Sans'"> </tspan>
       <tspan x="286.87" y="-0.85" style="font-size: 26px; font-family: 'DejaVu Sans'">c</tspan>
       <tspan x="301.17" y="-0.85" style="font-size: 26px; font-family: 'DejaVu Sans'">m</tspan>
       <tspan x="339.03" y="-0.85" style="font-size: 26px; font-family: 'DejaVu Sans'">/</tspan>
       <tspan x="347.79" y="-0.85" style="font-size: 26px; font-family: 'DejaVu Sans'"> </tspan>
       <tspan x="373.84" y="-0.85" style="font-size: 26px; font-family: 'DejaVu Sans'">]</tspan>
       <tspan x="326.74" y="-10.81" style="font-size: 18.2px; font-family: 'DejaVu Sans'">2</tspan>
       <tspan x="356.06" y="-0.85" style="font-style: oblique; font-size: 26px; font-family: 'DejaVu Sans'">Å</tspan>
      </text>
     </g>
    </g>
    <g id="text_46">
     <text style="font-size: 24px; font-family: 'DejaVu Sans', 'Bitstream Vera Sans', 'Computer Modern Sans Serif', 'Lucida Grande', 'Verdana', 'Geneva', 'Lucid', 'Arial', 'Helvetica', 'Avant Garde', sans-serif; text-anchor: start" x="53.56" y="921.69" transform="rotate(-0 53.56 921.69)">1e−15</text>
    </g>
   </g>
   <g id="line2d_56">
    <path d="M 54.72 1115.65
L 55.28 1125.20
L 55.84 1123.88
L 56.40 1118.20
L 56.96 1120.55
L 57.52 1122.26
L 58.08 1127.66
L 58.64 1130.17
L 59.20 1123.57
L 59.76 1128.25
L 60.32 1120.53
L 61.44 1129.20
L 62.00 1124.22
L 62.56 1121.36
L 63.12 1124.75
L 63.68 1129.33
L 64.24 1124.25
L 64.80 1123.67
L 65.36 1120.54
L 65.92 1121.26
L 66.48 1129.78
L 67.04 1128.18
L 67.60 1122.06
L 68.16 1131.83
L 68.72 1120.87
L 69.28 1129.53
L 69.84 1127.84
L 70.40 1115.64
L 70.96 1126.08
L 71.52 1127.28
L 72.08 1124.12
L 73.20 1128.70
L 73.76 1124.31
L 74.32 1109.18
L 74.88 1119.82
L 75.44 1123.14
L 76.00 1124.26
L 76.56 1120.70
L 77.12 1121.91
L 77.68 1129.58
L 78.24 1122.69
L 78.80 1125.43
L 79.36 1113.21
L 79.92 1126.82
L 80.48 1117.22
L 81.04 1130.54
L 81.60 1123.91
L 82.16 1129.03
L 82.72 1129.64
L 83.28 1120.78
L 83.84 1130.00
L 84.41 1126.44
L 84.97 1128.98
L 85.53 1123.39
L 86.09 1124.12
L 86.65 1132.37
L 87.21 1121.36
L 87.77 1128.61
L 88.33 1110.43
L 88.89 1120.05
L 89.45 1119.51
L 90.01 1132.46
L 90.57 1112.84
L 91.13 1125.33
L 91.69 1130.92
L 92.81 1116.81
L 93.37 1131.48
L 93.93 1118.65
L 94.49 1127.19
L 95.05 1128.26
L 95.61 1127.64
L 96.17 1129.28
L 96.73 1124.44
L 97.29 1124.16
L 97.85 1118.86
L 98.41 1116.03
L 98.97 1127.18
L 99.53 1118.60
L 100.09 1130.38
L 100.65 1121.74
L 101.21 1130.18
L 101.77 1128.25
L 102.33 1121.96
L 102.89 1128.95
L 103.45 1122.71
L 104.01 1131.15
L 104.57 1128.84
L 105.69 1115.29
L 106.25 1130.36
L 106.81 1114.68
L 107.37 1124.13
L 107.93 1108.35
L 108.49 1127.11
L 109.05 1128.02
L 109.61 1123.78
L 110.17 1130.13
L 110.73 1124.92
L 111.29 1125.94
L 111.85 1116.80
L 112.97 1130.63
L 113.53 1130.78
L 114.10 1129.73
L 114.66 1132.16
L 115.22 1132.24
L 115.78 1109.81
L 116.34 1129.30
L 116.90 1117.07
L 117.46 1128.97
L 118.02 1127.58
L 118.58 1131.66
L 119.14 1117.22
L 119.70 1127.52
L 120.26 1113.83
L 120.82 1128.81
L 121.38 1117.01
L 121.94 1115.35
L 122.50 1131.25
L 123.06 1122.94
L 123.62 1129.98
L 124.18 1130.36
L 125.30 1120.57
L 125.86 1116.48
L 126.42 1127.30
L 126.98 1119.27
L 128.10 1125.66
L 128.66 1129.72
L 129.22 1125.39
L 129.78 1104.17
L 130.34 1129.69
L 130.90 1126.50
L 131.46 1129.56
L 132.02 1116.27
L 132.58 1112.53
L 133.14 1116.56
L 133.70 1110.88
L 134.26 1126.03
L 134.82 1113.69
L 135.38 1129.33
L 135.94 1114.76
L 136.50 1115.32
L 137.06 1128.57
L 137.62 1119.64
L 138.18 1130.18
L 138.74 1131.06
L 139.30 1131.04
L 139.86 1130.27
L 140.42 1130.38
L 140.98 1126.25
L 141.54 1113.10
L 142.10 1126.97
L 142.66 1129.45
L 143.22 1121.54
L 143.79 1126.94
L 144.91 1123.40
L 145.47 1123.15
L 146.03 1128.86
L 146.59 1126.95
L 147.15 1119.76
L 147.71 1127.55
L 148.27 1126.92
L 148.83 1123.95
L 149.39 1123.24
L 149.95 1127.28
L 150.51 1122.33
L 151.07 1125.72
L 151.63 1130.86
L 152.19 1121.75
L 152.75 1129.53
L 153.31 1104.12
L 153.87 1124.02
L 154.43 1127.09
L 154.99 1120.30
L 155.55 1115.45
L 156.11 1115.00
L 156.67 1123.90
L 157.23 1118.62
L 157.79 1121.29
L 158.35 1125.13
L 158.91 1131.31
L 159.47 1125.49
L 160.03 1132.34
L 160.59 1129.55
L 161.15 1116.24
L 161.71 1124.60
L 162.27 1125.84
L 162.83 1129.49
L 163.39 1129.43
L 163.95 1128.80
L 164.51 1131.02
L 165.07 1132.28
L 165.63 1118.88
L 166.19 1113.71
L 166.75 1128.61
L 167.31 1120.83
L 167.87 1130.62
L 168.43 1123.59
L 168.99 1131.01
L 169.55 1119.80
L 170.67 1130.73
L 171.79 1113.74
L 172.35 1125.58
L 172.91 1125.83
L 173.48 1125.55
L 174.04 1124.92
L 174.60 1117.17
L 175.16 1116.83
L 175.72 1132.16
L 176.28 1117.50
L 176.84 1126.66
L 177.40 1113.59
L 177.96 1122.89
L 178.52 1119.40
L 179.08 1128.09
L 179.64 1130.88
L 180.20 1124.24
L 180.76 1119.39
L 181.32 1121.04
L 181.88 1120.71
L 182.44 1124.32
L 183.00 1121.16
L 183.56 1129.31
L 184.12 1126.35
L 184.68 1131.36
L 185.24 1125.89
L 185.80 1127.17
L 186.36 1125.31
L 186.92 1118.79
L 188.04 1132.27
L 188.60 1116.15
L 189.16 1124.74
L 189.72 1120.74
L 190.28 1129.18
L 190.84 1120.38
L 191.40 1114.75
L 191.96 1131.47
L 192.52 1117.31
L 193.08 1129.68
L 193.64 1129.10
L 194.20 1125.58
L 194.76 1109.58
L 195.32 1131.78
L 197.00 1121.60
L 197.56 1126.18
L 198.12 1123.06
L 198.68 1130.00
L 199.24 1120.75
L 199.80 1118.66
L 200.36 1130.20
L 200.92 1129.15
L 201.48 1123.25
L 202.04 1123.64
L 202.60 1122.39
L 203.17 1130.54
L 203.73 1127.52
L 204.29 1127.95
L 204.85 1116.17
L 205.41 1126.05
L 206.53 1129.56
L 207.09 1125.54
L 207.65 1117.50
L 208.21 1131.32
L 208.77 1124.90
L 209.33 1122.48
L 209.89 1110.35
L 210.45 1121.32
L 211.01 1116.15
L 211.57 1125.28
L 212.13 1130.96
L 212.69 1131.03
L 213.25 1128.87
L 213.81 1124.77
L 214.37 1127.00
L 214.93 1127.83
L 215.49 1112.07
L 216.05 1132.22
L 216.61 1130.02
L 217.17 1106.19
L 217.73 1123.74
L 218.29 1128.68
L 218.85 1130.24
L 219.41 1120.43
L 219.97 1121.18
L 220.53 1120.38
L 221.09 1130.72
L 221.65 1124.77
L 222.21 1126.66
L 222.77 1122.89
L 223.33 1131.42
L 223.89 1121.89
L 224.45 1114.56
L 225.01 1130.89
L 225.57 1119.90
L 226.13 1113.28
L 227.25 1125.75
L 227.81 1124.75
L 228.37 1128.06
L 228.93 1124.21
L 229.49 1129.95
L 230.05 1125.16
L 230.61 1129.27
L 231.17 1131.06
L 231.73 1114.74
L 232.29 1131.78
L 232.86 1112.11
L 233.42 1132.10
L 233.98 1119.33
L 234.54 1124.36
L 235.10 1131.39
L 235.66 1127.92
L 236.22 1129.86
L 236.78 1129.64
L 237.34 1119.72
L 237.90 1130.34
L 238.46 1131.86
L 239.02 1117.91
L 239.58 1123.11
L 240.14 1125.40
L 240.70 1126.88
L 241.26 1121.05
L 241.82 1123.21
L 242.94 1128.26
L 243.50 1118.18
L 244.06 1115.04
L 244.62 1122.56
L 245.18 1103.93
L 245.74 1124.08
L 246.30 1124.32
L 246.86 1114.43
L 247.42 1123.66
L 247.98 1123.86
L 248.54 1127.20
L 249.10 1122.47
L 249.66 1131.48
L 250.22 1128.80
L 250.78 1130.02
L 251.34 1132.07
L 251.90 1118.02
L 252.46 1127.07
L 253.02 1129.35
L 253.58 1123.11
L 254.14 1130.49
L 254.70 1119.51
L 255.26 1115.38
L 255.82 1130.96
L 256.38 1117.23
L 256.94 1124.18
L 257.50 1117.66
L 258.06 1124.21
L 258.62 1129.21
L 259.18 1131.30
L 259.74 1130.10
L 260.30 1127.83
L 260.86 1118.28
L 261.42 1121.38
L 261.98 1123.57
L 262.55 1114.83
L 263.11 1131.70
L 263.67 1130.27
L 264.23 1130.18
L 264.79 1124.95
L 265.35 1131.41
L 265.91 1128.17
L 266.47 1115.69
L 267.03 1118.69
L 267.59 1114.09
L 268.15 1128.08
L 268.71 1129.81
L 269.27 1123.73
L 269.83 1129.44
L 270.39 1125.78
L 270.95 1126.02
L 271.51 1122.01
L 272.07 1115.02
L 272.63 1115.46
L 273.19 1119.11
L 273.75 1126.35
L 274.31 1121.11
L 274.87 1127.19
L 275.43 1129.37
L 275.99 1131.09
L 276.55 1128.05
L 277.11 1122.18
L 277.67 1120.91
L 278.23 1124.99
L 278.79 1121.61
L 279.35 1127.99
L 279.91 1112.86
L 280.47 1124.33
L 281.03 1126.85
L 281.59 1121.00
L 282.15 1126.01
L 282.71 1123.18
L 283.27 1114.45
L 283.83 1128.92
L 284.39 1126.60
L 284.95 1126.09
L 285.51 1124.84
L 286.07 1110.50
L 286.63 1119.08
L 287.19 1115.83
L 287.75 1132.08
L 288.31 1121.92
L 288.87 1123.33
L 289.43 1121.60
L 290.55 1128.19
L 291.11 1120.36
L 291.67 1126.00
L 292.24 1124.97
L 292.80 1127.91
L 293.36 1126.04
L 293.92 1121.66
L 294.48 1119.61
L 295.04 1125.14
L 295.60 1124.46
L 296.16 1126.04
L 296.72 1119.07
L 297.28 1127.18
L 297.84 1126.50
L 298.40 1124.34
L 298.96 1127.15
L 299.52 1123.00
L 300.08 1112.31
L 300.64 1124.36
L 301.20 1113.43
L 302.32 1122.58
L 302.88 1118.97
L 303.44 1112.74
L 304.00 1126.95
L 304.56 1118.21
L 305.12 1113.82
L 305.68 1125.88
L 306.24 1112.51
L 306.80 1117.66
L 307.36 1125.51
L 307.92 1118.62
L 308.48 1127.17
L 309.04 1126.63
L 309.60 1127.37
L 310.16 1119.88
L 310.72 1123.38
L 311.28 1125.05
L 311.84 1124.10
L 312.40 1121.94
L 312.96 1123.21
L 313.52 1123.97
L 314.08 1120.55
L 314.64 1125.75
L 315.20 1124.14
L 315.76 1113.53
L 316.32 1119.37
L 316.88 1127.85
L 317.44 1110.17
L 318.00 1125.33
L 318.56 1109.21
L 319.12 1120.81
L 319.68 1114.96
L 320.24 1127.72
L 320.80 1124.99
L 321.36 1124.48
L 321.93 1124.14
L 322.49 1125.03
L 323.05 1124.42
L 323.61 1122.04
L 324.17 1124.33
L 324.73 1122.17
L 325.29 1119.45
L 325.85 1127.62
L 326.41 1122.60
L 326.97 1125.63
L 328.09 1117.63
L 328.65 1126.81
L 329.21 1123.27
L 329.77 1116.57
L 330.33 1117.78
L 330.89 1129.39
L 331.45 1123.28
L 332.01 1126.87
L 332.57 1124.65
L 333.13 1124.29
L 334.25 1108.92
L 334.81 1115.73
L 335.37 1104.50
L 335.93 1111.70
L 336.49 1108.63
L 337.05 1094.29
L 337.61 1099.86
L 338.17 1103.10
L 338.73 1095.11
L 339.29 1091.66
L 339.85 1097.03
L 340.41 1083.13
L 340.97 1101.32
L 341.53 1100.91
L 342.09 1088.45
L 342.65 1102.20
L 343.21 1090.04
L 343.77 1104.70
L 344.33 1103.08
L 344.89 1099.02
L 345.45 1101.11
L 346.01 1084.27
L 346.57 1105.21
L 347.13 1100.32
L 347.69 1099.46
L 348.25 1101.99
L 348.81 1091.55
L 349.37 1106.08
L 349.93 1106.36
L 350.49 1109.35
L 351.05 1096.50
L 351.62 1102.64
L 352.18 1103.09
L 352.74 1104.10
L 353.30 1112.59
L 353.86 1102.67
L 354.42 1104.68
L 354.98 1094.14
L 356.10 1113.48
L 356.66 1111.20
L 357.22 1091.68
L 357.78 1116.77
L 358.34 1117.84
L 358.90 1109.17
L 359.46 1097.86
L 360.02 1111.43
L 360.58 1119.06
L 361.14 1089.89
L 361.70 1118.58
L 362.26 1108.61
L 362.82 1103.80
L 363.38 1118.54
L 363.94 1116.09
L 364.50 1108.84
L 365.06 1131.73
L 365.62 1119.20
L 366.18 1115.77
L 366.74 1115.55
L 367.30 1130.50
L 367.86 1124.66
L 368.42 1132.64
L 368.98 1133.38
L 369.54 1135.71
L 370.10 1124.28
L 370.66 1124.79
L 371.22 1112.91
L 371.78 1129.27
L 372.34 1122.18
L 372.90 1111.04
L 373.46 1087.60
L 374.02 1099.57
L 374.58 1093.89
L 375.14 1079.51
L 375.70 1071.36
L 376.26 1060.16
L 376.82 1053.29
L 377.38 1053.83
L 377.94 1061.00
L 378.50 1050.18
L 379.06 1069.08
L 379.62 1066.81
L 380.18 1064.06
L 380.74 1074.57
L 381.31 1074.92
L 381.87 1069.96
L 382.43 1082.91
L 382.99 1080.73
L 383.55 1082.54
L 384.11 1059.09
L 384.67 1078.33
L 385.23 1091.90
L 385.79 1082.99
L 386.35 1097.77
L 386.91 1090.04
L 387.47 1103.96
L 388.03 1090.61
L 389.15 1106.99
L 389.71 1097.48
L 390.27 1094.84
L 390.83 1100.43
L 391.39 1103.56
L 391.95 1113.68
L 392.51 1100.63
L 393.07 1118.58
L 393.63 1114.06
L 394.19 1090.02
L 394.75 1118.28
L 395.31 1119.63
L 395.87 1116.71
L 396.43 1108.21
L 396.99 1112.01
L 397.55 1102.87
L 398.11 1111.43
L 398.67 1117.92
L 399.23 1103.83
L 399.79 1115.39
L 400.35 1106.27
L 400.91 1099.02
L 401.47 1107.65
L 402.03 1099.99
L 402.59 1118.22
L 403.71 1110.11
L 404.27 1117.90
L 404.83 1099.62
L 405.39 1100.60
L 405.95 1107.67
L 406.51 1106.55
L 407.63 1117.09
L 408.75 1112.77
L 409.31 1109.39
L 409.87 1111.92
L 410.43 1108.96
L 411.00 1117.75
L 411.56 1115.33
L 412.68 1103.14
L 413.24 1118.45
L 413.80 1108.39
L 414.36 1105.16
L 414.92 1111.14
L 415.48 1110.13
L 416.04 1113.12
L 416.60 1110.88
L 417.16 1112.88
L 417.72 1117.67
L 418.28 1099.39
L 418.84 1108.28
L 419.40 1113.53
L 419.96 1099.70
L 420.52 1112.08
L 421.08 1105.74
L 421.64 1117.70
L 422.20 1113.70
L 422.76 1101.99
L 423.88 1094.12
L 424.44 1098.71
L 425.00 1094.95
L 425.56 1113.85
L 426.12 1116.54
L 426.68 1118.28
L 427.24 1109.33
L 427.80 1111.39
L 428.36 1097.70
L 428.92 1111.37
L 429.48 1097.15
L 430.04 1117.36
L 430.60 1096.36
L 431.16 1111.50
L 431.72 1100.79
L 432.28 1104.45
L 432.84 1116.25
L 433.40 1105.70
L 433.96 1115.60
L 434.52 1106.33
L 435.08 1108.94
L 435.64 1110.39
L 436.20 1114.33
L 436.76 1115.05
L 437.32 1113.56
L 437.88 1122.00
L 438.44 1107.62
L 439.00 1115.19
L 439.56 1113.68
L 440.12 1119.75
L 440.69 1113.69
L 441.25 1118.28
L 441.81 1104.25
L 442.37 1122.31
L 442.93 1107.85
L 443.49 1120.79
L 444.05 1114.97
L 445.17 1121.92
L 445.73 1124.68
L 446.29 1112.90
L 446.85 1124.38
L 447.41 1120.35
L 447.97 1108.82
L 448.53 1108.69
L 449.65 1124.80
L 450.21 1119.31
L 450.77 1118.31
L 451.33 1122.69
L 451.89 1109.47
L 452.45 1117.71
L 453.01 1117.34
L 453.57 1119.93
L 454.13 1125.16
L 454.69 1123.92
L 455.25 1124.21
L 455.81 1111.40
L 456.37 1119.75
L 456.93 1117.32
L 457.49 1117.69
L 458.05 1117.88
L 458.61 1108.00
L 459.17 1115.00
L 459.73 1118.89
L 460.29 1119.93
L 460.85 1110.39
L 461.41 1093.10
L 461.97 1111.65
L 462.53 1123.93
L 463.09 1118.37
L 463.65 1122.97
L 464.21 1121.45
L 464.77 1123.09
L 465.33 1129.26
L 465.89 1127.07
L 466.45 1126.13
L 467.01 1127.91
L 467.57 1129.07
L 468.13 1119.31
L 468.69 1127.06
L 469.25 1121.95
L 469.81 1114.40
L 470.38 1127.28
L 470.94 1123.54
L 471.50 1114.93
L 472.06 1124.21
L 472.62 1124.54
L 473.18 1129.43
L 473.74 1113.32
L 474.30 1123.99
L 474.86 1128.12
L 475.42 1117.37
L 475.98 1124.88
L 476.54 1123.18
L 477.10 1125.91
L 477.66 1118.24
L 478.22 1118.70
L 478.78 1125.12
L 479.34 1122.72
L 479.90 1111.83
L 480.46 1121.97
L 481.02 1125.09
L 481.58 1113.08
L 482.14 1125.91
L 482.70 1122.44
L 483.26 1127.82
L 484.38 1125.53
L 484.94 1119.53
L 485.50 1116.06
L 486.06 1125.05
L 486.62 1118.18
L 487.18 1123.35
L 487.74 1118.51
L 488.30 1126.46
L 488.86 1121.29
L 489.42 1123.65
L 489.98 1122.10
L 490.54 1102.51
L 491.10 1121.14
L 491.66 1113.00
L 492.22 1115.67
L 492.78 1128.59
L 493.34 1120.36
L 493.90 1115.65
L 494.46 1128.64
L 495.02 1126.45
L 495.58 1101.43
L 496.14 1122.21
L 496.70 1124.91
L 497.26 1122.50
L 497.82 1126.59
L 498.38 1122.08
L 498.94 1121.39
L 499.50 1124.17
L 500.07 1112.70
L 500.63 1110.10
L 501.19 1115.77
L 501.75 1126.29
L 502.31 1125.26
L 502.87 1128.13
L 503.43 1120.35
L 503.99 1125.06
L 504.55 1125.44
L 505.11 1125.96
L 505.67 1121.36
L 506.23 1121.86
L 506.79 1127.63
L 507.35 1111.87
L 507.91 1121.76
L 508.47 1128.22
L 509.03 1117.29
L 509.59 1126.66
L 510.15 1109.15
L 510.71 1113.40
L 511.27 1119.42
L 511.83 1103.92
L 512.39 1126.78
L 512.95 1120.95
L 514.07 1126.80
L 514.63 1128.02
L 515.19 1115.23
L 515.75 1124.01
L 516.31 1127.02
L 516.87 1125.35
L 517.43 1101.48
L 517.99 1122.60
L 518.55 1126.09
L 519.11 1123.95
L 519.67 1114.71
L 520.23 1123.38
L 520.79 1123.79
L 521.35 1123.17
L 521.91 1125.39
L 522.47 1124.16
L 523.03 1113.17
L 523.59 1123.98
L 524.15 1123.29
L 524.71 1129.73
L 525.27 1118.50
L 525.83 1114.41
L 526.39 1126.10
L 526.95 1120.03
L 527.51 1127.53
L 528.07 1121.03
L 528.63 1120.79
L 529.19 1129.67
L 529.76 1115.67
L 530.32 1113.84
L 530.88 1123.68
L 531.44 1127.58
L 532.00 1122.96
L 532.56 1123.71
L 533.12 1116.89
L 533.68 1123.22
L 534.24 1123.60
L 534.80 1116.33
L 535.36 1118.81
L 536.48 1126.11
L 537.04 1126.38
L 537.60 1126.06
L 538.16 1126.55
L 538.72 1124.73
L 539.28 1114.81
L 539.84 1124.56
L 540.40 1124.12
L 540.96 1129.53
L 541.52 1115.88
L 542.08 1124.70
L 542.64 1118.82
L 543.20 1119.74
L 543.76 1125.92
L 544.32 1119.79
L 544.88 1128.59
L 545.44 1126.09
L 546.00 1112.01
L 546.56 1127.00
L 547.12 1120.18
L 547.68 1122.66
L 548.24 1126.48
L 548.80 1112.15
L 549.36 1123.47
L 549.92 1117.93
L 550.48 1106.64
L 551.04 1128.64
L 551.60 1123.29
L 552.16 1116.84
L 552.72 1123.37
L 553.28 1114.85
L 553.84 1118.91
L 554.40 1121.55
L 554.96 1119.98
L 555.52 1126.59
L 556.08 1128.82
L 556.64 1129.31
L 557.20 1121.33
L 557.76 1127.36
L 558.32 1113.51
L 558.88 1128.01
L 559.45 1129.22
L 560.01 1129.58
L 560.57 1113.12
L 561.13 1122.72
L 561.69 1119.60
L 562.25 1128.11
L 562.81 1111.92
L 563.37 1128.77
L 563.93 1123.27
L 564.49 1125.29
L 565.05 1116.18
L 565.61 1127.87
L 566.17 1125.16
L 566.73 1124.69
L 567.29 1123.46
L 567.85 1123.02
L 568.41 1118.50
L 568.97 1116.89
L 569.53 1124.71
L 570.09 1123.80
L 570.65 1122.06
L 571.21 1120.69
L 571.77 1123.56
L 572.33 1119.71
L 572.89 1121.25
L 573.45 1117.80
L 574.01 1125.98
L 574.57 1121.74
L 575.69 1129.29
L 576.25 1126.30
L 576.81 1122.07
L 577.37 1125.49
L 577.93 1127.35
L 578.49 1118.77
L 579.05 1114.60
L 579.61 1118.76
L 580.17 1118.65
L 580.73 1128.33
L 581.85 1110.94
L 582.41 1113.83
L 582.97 1122.43
L 583.53 1114.96
L 584.09 1124.21
L 584.65 1124.66
L 585.21 1120.11
L 585.77 1120.33
L 586.33 1125.91
L 586.89 1123.93
L 587.45 1115.74
L 588.01 1125.36
L 588.57 1122.02
L 589.14 1121.01
L 589.70 1116.48
L 590.26 1123.32
L 590.82 1121.21
L 591.38 1114.73
L 591.94 1125.28
L 592.50 1126.01
L 593.06 1128.51
L 593.62 1118.26
L 594.18 1125.28
L 594.74 1125.63
L 595.30 1129.32
L 595.86 1125.18
L 596.42 1127.25
L 596.98 1124.59
L 597.54 1124.75
L 598.10 1122.84
L 598.66 1111.25
L 599.22 1127.69
L 599.78 1123.44
L 600.34 1125.73
L 600.90 1124.51
L 601.46 1122.03
L 602.02 1117.26
L 602.58 1122.31
L 603.14 1121.66
L 603.70 1118.75
L 604.82 1124.98
L 605.38 1122.84
L 605.94 1122.02
L 606.50 1128.84
L 607.06 1117.82
L 607.62 1121.68
L 608.18 1118.18
L 608.74 1121.33
L 609.30 1127.87
L 609.86 1125.82
L 610.42 1122.67
L 610.98 1127.82
L 611.54 1114.50
L 612.10 1127.74
L 612.66 1110.64
L 613.22 1120.90
L 613.78 1119.09
L 614.34 1127.69
L 614.90 1124.08
L 615.46 1124.45
L 616.02 1112.79
L 616.58 1107.23
L 617.14 1108.88
L 617.70 1129.90
L 618.26 1122.04
L 618.83 1127.77
L 619.39 1122.72
L 619.95 1124.56
L 620.51 1128.77
L 621.07 1127.52
L 621.63 1118.24
L 622.19 1123.05
L 622.75 1125.42
L 623.31 1121.67
L 623.87 1127.14
L 624.43 1118.47
L 624.99 1124.23
L 625.55 1115.25
L 626.11 1129.42
L 626.67 1120.32
L 627.79 1128.10
L 628.35 1126.85
L 628.91 1122.02
L 629.47 1118.64
L 630.03 1124.61
L 630.59 1123.39
L 631.15 1124.83
L 631.71 1125.00
L 632.27 1108.01
L 632.83 1117.86
L 633.39 1111.17
L 633.95 1124.44
L 634.51 1119.97
L 635.07 1123.06
L 635.63 1115.44
L 636.19 1120.85
L 636.75 1110.74
L 637.31 1121.33
L 638.43 1126.90
L 638.99 1125.38
L 639.55 1117.62
L 640.11 1124.99
L 640.67 1122.04
L 641.79 1113.97
L 642.35 1127.33
L 642.91 1124.02
L 643.47 1127.89
L 644.03 1121.77
L 644.59 1123.04
L 645.15 1121.68
L 645.71 1128.03
L 646.27 1125.03
L 646.83 1129.09
L 647.39 1119.14
L 647.95 1125.38
L 648.52 1126.03
L 649.08 1121.33
L 649.64 1118.88
L 650.20 1125.57
L 650.76 1122.85
L 651.32 1121.47
L 652.44 1127.19
L 653.00 1126.33
L 653.56 1118.66
L 654.12 1122.09
L 654.68 1096.07
L 655.24 1125.57
L 655.80 1119.28
L 656.92 1126.80
L 657.48 1128.04
L 658.04 1122.40
L 658.60 1111.91
L 659.16 1124.22
L 659.72 1127.06
L 660.28 1127.17
L 660.84 1117.33
L 661.40 1129.72
L 661.96 1125.82
L 662.52 1123.97
L 663.08 1126.37
L 663.64 1108.88
L 664.20 1122.47
L 664.76 1122.83
L 664.76 1122.83
" clip-path="url(#p0da49f7c9d)" style="fill: none; stroke: #000000; stroke-width: 1.5; stroke-linecap: square"/>
   </g>
   <g id="line2d_57">
    <path d="M 54.72 1117.58
L 292.71 1117.47
L 300.85 1117.24
L 301.67 1116.96
L 302.69 1116.38
L 304.31 1115.15
L 305.13 1114.27
L 306.15 1112.69
L 307.57 1109.95
L 309.20 1106.44
L 310.83 1102.16
L 313.07 1095.86
L 313.88 1092.65
L 314.70 1088.14
L 315.71 1081.09
L 316.53 1074.12
L 317.95 1059.48
L 319.38 1042.16
L 321.62 1012.45
L 325.49 960.48
L 326.71 948.44
L 327.52 942.27
L 328.54 936.81
L 329.15 934.70
L 329.56 934.11
L 330.17 933.57
L 330.58 933.41
L 330.78 933.42
L 331.19 933.78
L 331.80 935.03
L 332.61 937.39
L 333.22 940.29
L 334.24 946.65
L 335.06 952.75
L 336.28 964.17
L 337.29 975.71
L 339.53 1004.76
L 343.20 1053.17
L 344.42 1066.99
L 345.64 1078.09
L 346.86 1087.06
L 347.88 1093.23
L 348.70 1096.71
L 349.51 1099.52
L 350.12 1100.91
L 350.73 1101.61
L 351.34 1102.04
L 351.75 1102.08
L 352.16 1101.68
L 352.56 1100.91
L 353.38 1098.63
L 353.99 1096.51
L 354.60 1093.37
L 357.86 1073.68
L 359.69 1060.11
L 361.93 1044.04
L 363.15 1037.32
L 364.17 1032.99
L 365.19 1029.51
L 365.80 1028.14
L 366.82 1026.44
L 367.43 1025.85
L 368.04 1025.67
L 369.46 1025.49
L 369.87 1025.56
L 370.28 1025.99
L 370.89 1027.18
L 371.90 1029.85
L 372.52 1032.26
L 373.94 1039.23
L 375.98 1049.79
L 376.99 1053.84
L 377.61 1057.45
L 380.25 1074.92
L 383.51 1093.80
L 384.53 1098.73
L 385.95 1104.48
L 386.97 1107.78
L 388.40 1111.54
L 389.21 1113.19
L 389.82 1114.04
L 391.04 1115.27
L 392.26 1116.15
L 393.49 1116.72
L 394.91 1117.21
L 395.93 1117.33
L 402.24 1117.54
L 410.59 1117.58
L 665.28 1117.58
L 665.28 1117.58
" clip-path="url(#p0da49f7c9d)" style="fill: none; stroke: #ff0000; stroke-width: 1.5; stroke-linecap: square"/>
   </g>
   <g id="line2d_58">
    <path d="M 376.32 1053.12
L 376.81 1055.40
L 377.31 1057.78
L 377.81 1060.25
L 378.30 1062.81
L 378.80 1065.44
L 379.29 1068.19
L 379.79 1071.10
L 380.29 1074.12
L 380.78 1077.19
L 381.28 1080.23
L 381.77 1083.19
L 382.27 1086.19
L 382.77 1089.22
L 383.26 1092.19
L 383.76 1094.98
L 384.25 1097.51
L 384.75 1099.79
L 385.25 1101.97
L 385.74 1104.02
L 386.24 1105.87
L 386.73 1107.50
L 387.23 1108.89
L 387.73 1110.16
L 388.22 1111.34
L 388.72 1112.37
L 389.21 1113.24
L 389.71 1113.91
L 390.21 1114.46
L 390.70 1114.95
L 391.20 1115.39
L 391.69 1115.77
L 392.19 1116.10
L 392.69 1116.37
L 393.18 1116.60
L 393.68 1116.80
L 394.17 1116.98
L 394.67 1117.14
L 395.17 1117.25
L 395.66 1117.32
" clip-path="url(#p0da49f7c9d)" style="fill: none; stroke: #00ffff; stroke-width: 3.5; stroke-linecap: square"/>
   </g>
   <g id="line2d_59">
    <path d="M 332.58 1145.80
L 332.58 923.61
" clip-path="url(#p0da49f7c9d)" style="fill: none; stroke-dasharray: 4.81,2.08; stroke-dashoffset: 0; stroke: #1f77b4; stroke-width: 1.3"/>
   </g>
   <g id="line2d_60">
    <path d="M 371.92 1145.80
L 371.92 923.61
" clip-path="url(#p0da49f7c9d)" style="fill: none; stroke-dasharray: 4.81,2.08; stroke-dashoffset: 0; stroke: #1f77b4; stroke-width: 1.3"/>
   </g>
   <g id="patch_18">
    <path d="M 54.72 1145.80
L 54.72 923.61
" style="fill: none; stroke: #000000; stroke-width: 0.8; stroke-linejoin: miter; stroke-linecap: square"/>
   </g>
   <g id="patch_19">
    <path d="M 665.28 1145.80
L 665.28 923.61
" style="fill: none; stroke: #000000; stroke-width: 0.8; stroke-linejoin: miter; stroke-linecap: square"/>
   </g>
   <g id="patch_20">
    <path d="M 54.72 1145.80
L 665.28 1145.80
" style="fill: none; stroke: #000000; stroke-width: 0.8; stroke-linejoin: miter; stroke-linecap: square"/>
   </g>
   <g id="patch_21">
    <path d="M 54.72 923.61
L 665.28 923.61
" style="fill: none; stroke: #000000; stroke-width: 0.8; stroke-linejoin: miter; stroke-linecap: square"/>
   </g>
  </g>
  <g id="axes_5">
   <g id="patch_22">
    <path d="M 820.87 261.72
L 1455.12 261.72
L 1455.12 7.92
L 820.87 7.92
z
" style="fill: #ffffff"/>
   </g>
   <g id="matplotlib.axis_9">
    <g id="xtick_27">
     <g id="line2d_61">
      <g>
       <use xlink:href="#m7c25c535dc" x="820.87" y="261.72" style="stroke: #000000; stroke-width: 0.8"/>
      </g>
     </g>
     <g id="text_47">
      <text style="font-size: 24px; font-family: 'DejaVu Sans', 'Bitstream Vera Sans', 'Computer Modern Sans Serif', 'Lucida Grande', 'Verdana', 'Geneva', 'Lucid', 'Arial', 'Helvetica', 'Avant Garde', sans-serif; text-anchor: middle" x="820.87" y="286.95" transform="rotate(-0 820.87 286.95)">−700</text>
     </g>
    </g>
    <g id="xtick_28">
     <g id="line2d_62">
      <g>
       <use xlink:href="#m7c25c535dc" x="900.15" y="261.72" style="stroke: #000000; stroke-width: 0.8"/>
      </g>
     </g>
     <g id="text_48">
      <text style="font-size: 24px; font-family: 'DejaVu Sans', 'Bitstream Vera Sans', 'Computer Modern Sans Serif', 'Lucida Grande', 'Verdana', 'Geneva', 'Lucid', 'Arial', 'Helvetica', 'Avant Garde', sans-serif; text-anchor: middle" x="900.15" y="286.95" transform="rotate(-0 900.15 286.95)">−600</text>
     </g>
    </g>
    <g id="xtick_29">
     <g id="line2d_63">
      <g>
       <use xlink:href="#m7c25c535dc" x="979.43" y="261.72" style="stroke: #000000; stroke-width: 0.8"/>
      </g>
     </g>
     <g id="text_49">
      <text style="font-size: 24px; font-family: 'DejaVu Sans', 'Bitstream Vera Sans', 'Computer Modern Sans Serif', 'Lucida Grande', 'Verdana', 'Geneva', 'Lucid', 'Arial', 'Helvetica', 'Avant Garde', sans-serif; text-anchor: middle" x="979.43" y="286.95" transform="rotate(-0 979.43 286.95)">−500</text>
     </g>
    </g>
    <g id="xtick_30">
     <g id="line2d_64">
      <g>
       <use xlink:href="#m7c25c535dc" x="1058.71" y="261.72" style="stroke: #000000; stroke-width: 0.8"/>
      </g>
     </g>
     <g id="text_50">
      <text style="font-size: 24px; font-family: 'DejaVu Sans', 'Bitstream Vera Sans', 'Computer Modern Sans Serif', 'Lucida Grande', 'Verdana', 'Geneva', 'Lucid', 'Arial', 'Helvetica', 'Avant Garde', sans-serif; text-anchor: middle" x="1058.71" y="286.95" transform="rotate(-0 1058.71 286.95)">−400</text>
     </g>
    </g>
    <g id="xtick_31">
     <g id="line2d_65">
      <g>
       <use xlink:href="#m7c25c535dc" x="1137.99" y="261.72" style="stroke: #000000; stroke-width: 0.8"/>
      </g>
     </g>
     <g id="text_51">
      <text style="font-size: 24px; font-family: 'DejaVu Sans', 'Bitstream Vera Sans', 'Computer Modern Sans Serif', 'Lucida Grande', 'Verdana', 'Geneva', 'Lucid', 'Arial', 'Helvetica', 'Avant Garde', sans-serif; text-anchor: middle" x="1137.99" y="286.95" transform="rotate(-0 1137.99 286.95)">−300</text>
     </g>
    </g>
    <g id="xtick_32">
     <g id="line2d_66">
      <g>
       <use xlink:href="#m7c25c535dc" x="1217.27" y="261.72" style="stroke: #000000; stroke-width: 0.8"/>
      </g>
     </g>
     <g id="text_52">
      <text style="font-size: 24px; font-family: 'DejaVu Sans', 'Bitstream Vera Sans', 'Computer Modern Sans Serif', 'Lucida Grande', 'Verdana', 'Geneva', 'Lucid', 'Arial', 'Helvetica', 'Avant Garde', sans-serif; text-anchor: middle" x="1217.27" y="286.95" transform="rotate(-0 1217.27 286.95)">−200</text>
     </g>
    </g>
    <g id="xtick_33">
     <g id="line2d_67">
      <g>
       <use xlink:href="#m7c25c535dc" x="1296.55" y="261.72" style="stroke: #000000; stroke-width: 0.8"/>
      </g>
     </g>
     <g id="text_53">
      <text style="font-size: 24px; font-family: 'DejaVu Sans', 'Bitstream Vera Sans', 'Computer Modern Sans Serif', 'Lucida Grande', 'Verdana', 'Geneva', 'Lucid', 'Arial', 'Helvetica', 'Avant Garde', sans-serif; text-anchor: middle" x="1296.55" y="286.95" transform="rotate(-0 1296.55 286.95)">−100</text>
     </g>
    </g>
    <g id="xtick_34">
     <g id="line2d_68">
      <g>
       <use xlink:href="#m7c25c535dc" x="1375.83" y="261.72" style="stroke: #000000; stroke-width: 0.8"/>
      </g>
     </g>
     <g id="text_54">
      <text style="font-size: 24px; font-family: 'DejaVu Sans', 'Bitstream Vera Sans', 'Computer Modern Sans Serif', 'Lucida Grande', 'Verdana', 'Geneva', 'Lucid', 'Arial', 'Helvetica', 'Avant Garde', sans-serif; text-anchor: middle" x="1375.83" y="286.95" transform="rotate(-0 1375.83 286.95)">0</text>
     </g>
    </g>
    <g id="xtick_35">
     <g id="line2d_69">
      <g>
       <use xlink:href="#m7c25c535dc" x="1455.12" y="261.72" style="stroke: #000000; stroke-width: 0.8"/>
      </g>
     </g>
     <g id="text_55">
      <text style="font-size: 24px; font-family: 'DejaVu Sans', 'Bitstream Vera Sans', 'Computer Modern Sans Serif', 'Lucida Grande', 'Verdana', 'Geneva', 'Lucid', 'Arial', 'Helvetica', 'Avant Garde', sans-serif; text-anchor: middle" x="1455.12" y="286.95" transform="rotate(-0 1455.12 286.95)">100</text>
     </g>
    </g>
   </g>
   <g id="matplotlib.axis_10">
    <g id="ytick_15">
     <g id="line2d_70">
      <g>
       <use xlink:href="#mb258c49b38" x="820.87" y="245.85" style="stroke: #000000; stroke-width: 0.8"/>
      </g>
     </g>
     <g id="text_56">
      <text style="font-size: 24px; font-family: 'DejaVu Sans', 'Bitstream Vera Sans', 'Computer Modern Sans Serif', 'Lucida Grande', 'Verdana', 'Geneva', 'Lucid', 'Arial', 'Helvetica', 'Avant Garde', sans-serif; text-anchor: end" x="815.47" y="254.97" transform="rotate(-0 815.47 254.97)">0.0</text>
     </g>
    </g>
    <g id="ytick_16">
     <g id="line2d_71">
      <g>
       <use xlink:href="#mb258c49b38" x="820.87" y="166.54" style="stroke: #000000; stroke-width: 0.8"/>
      </g>
     </g>
     <g id="text_57">
      <text style="font-size: 24px; font-family: 'DejaVu Sans', 'Bitstream Vera Sans', 'Computer Modern Sans Serif', 'Lucida Grande', 'Verdana', 'Geneva', 'Lucid', 'Arial', 'Helvetica', 'Avant Garde', sans-serif; text-anchor: end" x="815.47" y="175.66" transform="rotate(-0 815.47 175.66)">0.5</text>
     </g>
    </g>
    <g id="ytick_17">
     <g id="line2d_72">
      <g>
       <use xlink:href="#mb258c49b38" x="820.87" y="87.23" style="stroke: #000000; stroke-width: 0.8"/>
      </g>
     </g>
     <g id="text_58">
      <text style="font-size: 24px; font-family: 'DejaVu Sans', 'Bitstream Vera Sans', 'Computer Modern Sans Serif', 'Lucida Grande', 'Verdana', 'Geneva', 'Lucid', 'Arial', 'Helvetica', 'Avant Garde', sans-serif; text-anchor: end" x="815.47" y="96.35" transform="rotate(-0 815.47 96.35)">1.0</text>
     </g>
    </g>
    <g id="ytick_18">
     <g id="line2d_73">
      <g>
       <use xlink:href="#mb258c49b38" x="820.87" y="7.92" style="stroke: #000000; stroke-width: 0.8"/>
      </g>
     </g>
     <g id="text_59">
      <text style="font-size: 24px; font-family: 'DejaVu Sans', 'Bitstream Vera Sans', 'Computer Modern Sans Serif', 'Lucida Grande', 'Verdana', 'Geneva', 'Lucid', 'Arial', 'Helvetica', 'Avant Garde', sans-serif; text-anchor: end" x="815.47" y="17.03" transform="rotate(-0 815.47 17.03)">1.5</text>
     </g>
    </g>
   </g>
   <g id="line2d_74">
    <path d="M 874.57 28.82
L 874.57 101.74
L 879.73 101.74
L 879.73 32.68
L 884.90 32.68
L 884.90 128.15
L 890.07 128.15
L 890.07 126.14
L 895.23 126.14
L 895.23 97.87
L 900.40 97.87
L 900.40 145.14
L 905.57 145.14
L 905.57 70.69
L 910.74 70.69
L 910.74 127.22
L 915.90 127.22
L 915.90 107.30
L 921.07 107.30
L 921.07 92.47
L 926.24 92.47
L 926.24 137.42
L 931.40 137.42
L 931.40 95.40
L 936.57 95.40
L 936.57 139.27
L 941.74 139.27
L 941.74 135.88
L 946.90 135.88
L 946.90 158.58
L 952.07 158.58
L 952.07 169.86
L 957.24 169.86
L 957.24 155.19
L 962.40 155.19
L 962.40 138.19
L 967.57 138.19
L 967.57 176.66
L 972.74 176.66
L 972.74 220.84
L 977.91 220.84
L 977.91 133.87
L 983.07 133.87
L 983.07 197.20
L 988.24 197.20
L 988.24 208.33
L 993.41 208.33
L 993.41 191.02
L 998.57 191.02
L 998.57 182.06
L 1003.74 182.06
L 1003.74 190.25
L 1008.91 190.25
L 1008.91 214.20
L 1014.07 214.20
L 1014.07 194.11
L 1019.24 194.11
L 1019.24 159.67
L 1024.41 159.67
L 1024.41 174.03
L 1029.58 174.03
L 1029.58 183.30
L 1034.74 183.30
L 1034.74 212.96
L 1039.91 212.96
L 1039.91 170.17
L 1045.08 170.17
L 1045.08 169.71
L 1050.24 169.71
L 1050.24 180.98
L 1055.41 180.98
L 1055.41 114.09
L 1060.58 114.09
L 1060.58 142.83
L 1065.74 142.83
L 1065.74 144.99
L 1070.91 144.99
L 1070.91 104.21
L 1076.08 104.21
L 1076.08 173.26
L 1081.25 173.26
L 1081.25 142.05
L 1086.41 142.05
L 1086.41 191.02
L 1091.58 191.02
L 1091.58 117.34
L 1096.75 117.34
L 1096.75 77.95
L 1101.91 77.95
L 1101.91 116.10
L 1107.08 116.10
L 1107.08 47.82
L 1112.25 47.82
L 1112.25 122.75
L 1117.41 122.75
L 1117.41 26.97
L 1122.58 26.97
L 1122.58 102.66
L 1127.75 102.66
L 1127.75 135.10
L 1132.92 135.10
L 1132.92 83.66
L 1138.08 83.66
L 1138.08 136.42
L 1143.23 136.42
L 1143.23 106.40
L 1148.45 106.40
L 1148.45 113.35
L 1153.66 113.35
L 1153.66 96.13
L 1158.72 96.13
L 1158.72 168.01
L 1163.93 168.01
L 1163.93 174.64
L 1169.15 174.64
L 1169.15 208.13
L 1174.36 208.13
L 1174.36 173.38
L 1179.57 173.38
L 1179.57 181.44
L 1184.63 181.44
L 1184.63 174.96
L 1189.85 174.96
L 1189.85 147.47
L 1195.06 147.47
L 1195.06 163.59
L 1200.27 163.59
L 1200.27 164.06
L 1205.49 164.06
L 1205.49 194.23
L 1211.81 194.23
L 1211.81 173.06
L 1216.86 173.06
L 1216.86 150.95
L 1222.55 150.95
L 1222.55 159.16
L 1227.29 159.16
L 1227.29 114.62
L 1232.82 114.62
L 1232.82 150.16
L 1237.72 150.16
L 1237.72 165.17
L 1242.94 165.17
L 1242.94 182.23
L 1248.15 182.23
L 1248.15 188.07
L 1253.36 188.07
L 1253.36 198.66
L 1258.90 198.66
L 1258.90 191.23
L 1263.95 191.23
L 1263.95 186.02
L 1269.01 186.02
L 1269.01 210.98
L 1274.38 210.98
L 1274.38 173.85
L 1279.44 173.85
L 1279.44 164.85
L 1284.65 164.85
L 1284.65 168.33
L 1289.71 168.33
L 1289.71 204.97
L 1295.08 204.97
L 1295.08 189.97
L 1300.29 189.97
L 1300.29 200.24
L 1305.51 200.24
L 1305.51 153.79
L 1310.09 153.79
L 1310.09 182.23
L 1315.15 182.23
L 1315.15 229.62
L 1324.47 229.62
L 1324.47 159.32
L 1329.05 159.32
L 1329.05 234.36
L 1334.42 234.36
L 1334.42 170.38
L 1339.80 170.38
L 1339.80 194.39
L 1344.54 194.39
L 1344.54 190.92
L 1349.59 190.92
L 1349.59 164.85
L 1355.12 164.85
L 1355.12 173.85
L 1360.02 173.85
L 1360.02 130.10
L 1365.39 130.10
L 1365.39 171.01
L 1370.61 171.01
L 1370.61 111.14
L 1375.35 111.14
L 1375.35 101.66
L 1380.88 101.66
L 1380.88 137.84
L 1385.62 137.84
L 1385.62 77.97
L 1391.15 77.97
L 1391.15 73.54
L 1396.20 73.54
L 1396.20 88.55
L 1401.42 88.55
L 1401.42 100.71
L 1406.47 100.71
L 1406.47 134.84
L 1412.01 134.84
L 1412.01 68.33
L 1416.75 68.33
L 1416.75 128.52
L 1421.96 128.52
L 1421.96 124.88
L 1477 124.88
L 1477 124.88
" clip-path="url(#pd357760e2f)" style="fill: none; stroke: #000000; stroke-width: 1.5; stroke-linecap: square"/>
   </g>
   <g id="line2d_75">
    <path d="M 874.62 90.80
L 879.46 91.89
L 883.89 93.11
L 887.92 94.45
L 891.95 96.02
L 895.58 97.66
L 899.21 99.53
L 902.84 101.64
L 906.47 104.00
L 910.09 106.62
L 913.72 109.51
L 917.75 113.03
L 921.78 116.85
L 926.22 121.40
L 931.06 126.70
L 936.70 133.26
L 944.76 143.03
L 955.65 156.19
L 961.29 162.64
L 966.13 167.82
L 970.16 171.83
L 974.19 175.53
L 977.82 178.56
L 981.45 181.30
L 984.67 183.48
L 987.90 185.41
L 991.12 187.09
L 994.35 188.53
L 997.57 189.71
L 1000.80 190.64
L 1004.02 191.32
L 1007.25 191.75
L 1010.47 191.92
L 1013.70 191.85
L 1016.92 191.53
L 1020.15 190.95
L 1023.37 190.13
L 1026.60 189.05
L 1029.82 187.72
L 1033.05 186.14
L 1036.27 184.31
L 1039.50 182.23
L 1042.72 179.91
L 1046.35 177.02
L 1049.98 173.84
L 1054.01 169.99
L 1058.04 165.85
L 1062.88 160.53
L 1068.52 153.96
L 1076.58 144.18
L 1087.06 131.51
L 1092.71 125.04
L 1097.55 119.84
L 1101.98 115.41
L 1106.01 111.70
L 1110.04 108.30
L 1113.67 105.52
L 1117.30 103.00
L 1120.93 100.75
L 1124.56 98.74
L 1128.18 96.97
L 1132.21 95.26
L 1136.25 93.80
L 1140.28 92.56
L 1144.71 91.44
L 1149.55 90.44
L 1154.79 89.60
L 1160.43 88.92
L 1166.88 88.35
L 1174.54 87.91
L 1184.22 87.57
L 1197.52 87.36
L 1219.69 87.25
L 1293.06 87.23
L 1455.12 87.23
L 1455.12 87.23
" clip-path="url(#pd357760e2f)" style="fill: none; stroke-dasharray: 6.76,2.74; stroke-dashoffset: 0; stroke: #0000ff; stroke-width: 2"/>
   </g>
   <g id="line2d_76">
    <path d="M 874.62 87.23
L 1047.56 87.34
L 1060.46 87.59
L 1068.92 87.96
L 1075.37 88.46
L 1081.02 89.11
L 1085.86 89.89
L 1090.29 90.84
L 1094.32 91.94
L 1097.95 93.14
L 1101.58 94.59
L 1104.80 96.10
L 1108.03 97.83
L 1111.25 99.81
L 1114.48 102.04
L 1117.70 104.52
L 1120.93 107.26
L 1124.56 110.65
L 1128.18 114.33
L 1132.21 118.74
L 1137.05 124.37
L 1143.90 132.73
L 1153.18 144.05
L 1158.01 149.59
L 1162.05 153.88
L 1165.67 157.41
L 1168.90 160.24
L 1172.12 162.77
L 1174.95 164.70
L 1177.77 166.37
L 1180.59 167.77
L 1183.01 168.74
L 1185.43 169.49
L 1187.85 170.04
L 1190.26 170.36
L 1192.68 170.47
L 1195.10 170.36
L 1197.52 170.04
L 1199.94 169.50
L 1202.36 168.74
L 1204.78 167.78
L 1207.60 166.39
L 1210.42 164.72
L 1213.24 162.78
L 1216.06 160.59
L 1219.29 157.80
L 1222.51 154.71
L 1226.14 150.94
L 1230.17 146.43
L 1235.41 140.21
L 1253.15 118.76
L 1257.59 113.94
L 1261.62 109.89
L 1265.24 106.58
L 1268.87 103.58
L 1272.10 101.19
L 1275.32 99.05
L 1278.55 97.17
L 1281.77 95.52
L 1285.40 93.93
L 1289.03 92.59
L 1292.66 91.48
L 1296.69 90.47
L 1301.12 89.61
L 1305.96 88.90
L 1311.60 88.31
L 1318.05 87.87
L 1326.12 87.55
L 1337.40 87.34
L 1356.75 87.24
L 1431.73 87.23
L 1455.12 87.23
L 1455.12 87.23
" clip-path="url(#pd357760e2f)" style="fill: none; stroke-dasharray: 6.76,2.74; stroke-dashoffset: 0; stroke: #0000ff; stroke-width: 2"/>
   </g>
   <g id="line2d_77">
    <path d="M 874.62 87.23
L 1204.37 87.33
L 1210.02 87.57
L 1213.65 87.93
L 1216.47 88.41
L 1218.89 89.04
L 1220.90 89.77
L 1222.92 90.75
L 1224.53 91.75
L 1226.14 92.98
L 1227.75 94.48
L 1229.37 96.29
L 1230.98 98.43
L 1232.59 100.95
L 1234.20 103.86
L 1235.82 107.18
L 1237.83 111.92
L 1239.85 117.30
L 1242.27 124.51
L 1245.09 133.75
L 1254.76 166.38
L 1257.18 173.31
L 1259.20 178.39
L 1260.81 181.94
L 1262.42 185.02
L 1264.04 187.60
L 1265.65 189.68
L 1266.86 190.92
L 1268.07 191.87
L 1269.28 192.54
L 1270.49 192.94
L 1271.69 193.05
L 1272.90 192.88
L 1274.11 192.44
L 1275.32 191.71
L 1276.53 190.71
L 1277.74 189.42
L 1278.95 187.85
L 1280.56 185.32
L 1282.18 182.30
L 1283.79 178.79
L 1285.80 173.78
L 1287.82 168.11
L 1290.24 160.58
L 1293.46 149.71
L 1299.91 127.63
L 1302.33 120.13
L 1304.35 114.46
L 1306.36 109.40
L 1308.38 104.99
L 1309.99 101.94
L 1311.60 99.29
L 1313.22 97.01
L 1314.83 95.09
L 1316.44 93.49
L 1318.05 92.16
L 1319.67 91.08
L 1321.68 90.02
L 1323.70 89.22
L 1326.12 88.54
L 1328.94 88.01
L 1332.16 87.65
L 1336.60 87.40
L 1343.45 87.26
L 1361.19 87.23
L 1455.12 87.23
L 1455.12 87.23
" clip-path="url(#pd357760e2f)" style="fill: none; stroke-dasharray: 6.76,2.74; stroke-dashoffset: 0; stroke: #0000ff; stroke-width: 2"/>
   </g>
   <g id="line2d_78">
    <path d="M 874.62 87.23
L 1237.83 87.34
L 1245.89 87.58
L 1251.14 87.95
L 1255.17 88.45
L 1258.39 89.05
L 1261.21 89.78
L 1264.04 90.74
L 1266.45 91.81
L 1268.87 93.14
L 1270.89 94.48
L 1272.90 96.07
L 1274.92 97.92
L 1276.94 100.07
L 1278.95 102.54
L 1280.97 105.33
L 1282.98 108.48
L 1285.40 112.72
L 1287.82 117.46
L 1290.24 122.68
L 1293.06 129.29
L 1296.69 138.45
L 1303.14 155.57
L 1307.57 167.03
L 1310.80 174.76
L 1313.62 180.94
L 1316.04 185.71
L 1318.46 189.97
L 1320.47 193.11
L 1322.49 195.86
L 1324.50 198.24
L 1326.52 200.23
L 1328.13 201.56
L 1329.74 202.65
L 1331.36 203.51
L 1332.97 204.14
L 1334.58 204.54
L 1336.19 204.72
L 1337.81 204.67
L 1339.42 204.40
L 1341.03 203.91
L 1342.64 203.18
L 1344.26 202.23
L 1345.87 201.04
L 1347.48 199.62
L 1349.50 197.50
L 1351.51 195.00
L 1353.53 192.12
L 1355.54 188.86
L 1357.96 184.46
L 1360.38 179.55
L 1363.20 173.23
L 1366.43 165.37
L 1370.46 154.89
L 1378.93 132.63
L 1382.15 124.84
L 1384.97 118.60
L 1387.39 113.75
L 1389.81 109.39
L 1392.23 105.55
L 1394.24 102.72
L 1396.26 100.24
L 1398.27 98.07
L 1400.29 96.19
L 1402.31 94.59
L 1404.32 93.23
L 1406.74 91.88
L 1409.16 90.80
L 1411.58 89.94
L 1414.40 89.18
L 1417.62 88.54
L 1421.25 88.05
L 1425.69 87.68
L 1431.73 87.42
L 1441.01 87.27
L 1455.12 87.23
L 1455.12 87.23
" clip-path="url(#pd357760e2f)" style="fill: none; stroke-dasharray: 6.76,2.74; stroke-dashoffset: 0; stroke: #0000ff; stroke-width: 2"/>
   </g>
   <g id="line2d_79">
    <path d="M 874.62 90.80
L 879.46 91.89
L 883.89 93.11
L 887.92 94.45
L 891.95 96.02
L 895.58 97.66
L 899.21 99.53
L 902.84 101.64
L 906.47 104.00
L 910.09 106.62
L 913.72 109.51
L 917.75 113.03
L 921.78 116.85
L 926.22 121.40
L 931.06 126.70
L 936.70 133.26
L 944.76 143.03
L 955.65 156.19
L 961.29 162.64
L 966.13 167.82
L 970.16 171.83
L 974.19 175.53
L 977.82 178.56
L 981.45 181.30
L 984.67 183.48
L 987.90 185.41
L 991.12 187.09
L 994.35 188.53
L 997.57 189.71
L 1000.80 190.64
L 1004.02 191.32
L 1007.25 191.75
L 1010.47 191.93
L 1013.70 191.85
L 1016.92 191.53
L 1020.15 190.96
L 1023.37 190.13
L 1026.60 189.05
L 1029.82 187.73
L 1033.05 186.15
L 1036.27 184.32
L 1039.50 182.25
L 1043.12 179.63
L 1046.75 176.72
L 1050.38 173.54
L 1054.41 169.69
L 1058.85 165.14
L 1064.09 159.42
L 1071.34 151.11
L 1081.42 139.58
L 1086.26 134.42
L 1089.89 130.84
L 1093.11 127.92
L 1096.34 125.32
L 1099.16 123.32
L 1101.98 121.61
L 1104.40 120.40
L 1106.82 119.43
L 1109.24 118.72
L 1111.66 118.27
L 1113.67 118.11
L 1115.69 118.13
L 1117.70 118.34
L 1119.72 118.75
L 1122.14 119.47
L 1124.56 120.46
L 1126.97 121.70
L 1129.39 123.17
L 1132.21 125.17
L 1135.04 127.43
L 1138.26 130.30
L 1142.29 134.22
L 1147.53 139.68
L 1159.22 152.00
L 1163.25 155.90
L 1166.88 159.12
L 1170.11 161.71
L 1173.33 164.01
L 1176.15 165.76
L 1178.98 167.25
L 1181.80 168.48
L 1184.22 169.31
L 1186.64 169.93
L 1189.05 170.34
L 1191.47 170.54
L 1193.89 170.53
L 1196.31 170.30
L 1198.73 169.87
L 1201.15 169.22
L 1203.57 168.37
L 1206.39 167.13
L 1209.21 165.64
L 1212.44 163.67
L 1216.47 160.92
L 1224.13 155.57
L 1226.54 154.19
L 1228.56 153.28
L 1230.17 152.78
L 1231.79 152.51
L 1233.40 152.51
L 1234.61 152.72
L 1235.82 153.11
L 1237.03 153.71
L 1238.24 154.51
L 1239.44 155.52
L 1241.06 157.20
L 1242.67 159.25
L 1244.28 161.63
L 1246.30 165.03
L 1248.72 169.58
L 1253.55 179.35
L 1256.78 185.58
L 1259.20 189.76
L 1261.21 192.80
L 1262.83 194.88
L 1264.44 196.63
L 1266.05 198.04
L 1267.66 199.10
L 1268.87 199.65
L 1270.08 200.01
L 1271.29 200.17
L 1272.50 200.12
L 1273.71 199.88
L 1274.92 199.44
L 1276.13 198.82
L 1277.74 197.70
L 1279.35 196.27
L 1280.97 194.57
L 1282.98 192.10
L 1285.40 188.76
L 1292.25 179.02
L 1293.87 177.14
L 1295.48 175.57
L 1296.69 174.65
L 1297.90 173.96
L 1299.11 173.52
L 1300.32 173.34
L 1301.53 173.42
L 1302.74 173.75
L 1303.94 174.33
L 1305.15 175.13
L 1306.77 176.53
L 1308.38 178.23
L 1310.39 180.69
L 1313.22 184.52
L 1319.26 192.88
L 1321.68 195.86
L 1324.10 198.47
L 1326.12 200.33
L 1328.13 201.89
L 1330.15 203.11
L 1331.76 203.86
L 1333.37 204.39
L 1334.98 204.71
L 1336.60 204.81
L 1338.21 204.69
L 1339.82 204.35
L 1341.43 203.78
L 1343.05 203.00
L 1344.66 201.98
L 1346.27 200.73
L 1347.88 199.24
L 1349.90 197.04
L 1351.92 194.47
L 1353.93 191.51
L 1355.95 188.17
L 1358.37 183.68
L 1360.78 178.68
L 1363.61 172.29
L 1366.83 164.35
L 1371.27 152.74
L 1378.52 133.65
L 1381.75 125.78
L 1384.57 119.46
L 1386.99 114.53
L 1389.41 110.09
L 1391.82 106.15
L 1393.84 103.26
L 1395.86 100.71
L 1397.87 98.48
L 1399.89 96.54
L 1401.90 94.89
L 1403.92 93.48
L 1406.34 92.09
L 1408.76 90.96
L 1411.17 90.07
L 1414.00 89.27
L 1417.22 88.61
L 1420.85 88.10
L 1425.28 87.71
L 1430.93 87.44
L 1439.39 87.29
L 1455.12 87.23
L 1455.12 87.23
" clip-path="url(#pd357760e2f)" style="fill: none; stroke: #ff0000; stroke-width: 2; stroke-linecap: square"/>
   </g>
   <g id="line2d_80">
    <path d="M 820.87 87.23
L 1455.12 87.23
" clip-path="url(#pd357760e2f)" style="fill: none; stroke-dasharray: 3.7,1.6; stroke-dashoffset: 0; stroke: #008000"/>
   </g>
   <g id="line2d_81">
    <path d="M 820.87 245.85
L 1455.12 245.85
" clip-path="url(#pd357760e2f)" style="fill: none; stroke-dasharray: 3.7,1.6; stroke-dashoffset: 0; stroke: #008000"/>
   </g>
   <g id="patch_23">
    <path d="M 820.87 261.72
L 820.87 7.92
" style="fill: none; stroke: #000000; stroke-width: 0.8; stroke-linejoin: miter; stroke-linecap: square"/>
   </g>
   <g id="patch_24">
    <path d="M 1455.12 261.72
L 1455.12 7.92
" style="fill: none; stroke: #000000; stroke-width: 0.8; stroke-linejoin: miter; stroke-linecap: square"/>
   </g>
   <g id="patch_25">
    <path d="M 820.87 261.72
L 1455.12 261.72
" style="fill: none; stroke: #000000; stroke-width: 0.8; stroke-linejoin: miter; stroke-linecap: square"/>
   </g>
   <g id="patch_26">
    <path d="M 820.87 7.92
L 1455.12 7.92
" style="fill: none; stroke: #000000; stroke-width: 0.8; stroke-linejoin: miter; stroke-linecap: square"/>
   </g>
   <g id="text_60">
    <text style="font-size: 24px; font-family: 'DejaVu Sans', 'Bitstream Vera Sans', 'Computer Modern Sans Serif', 'Lucida Grande', 'Verdana', 'Geneva', 'Lucid', 'Arial', 'Helvetica', 'Avant Garde', sans-serif; text-anchor: start" x="1391.69" y="231.42" transform="rotate(-0 1391.69 231.42)">C II</text>
   </g>
  </g>
  <g id="axes_6">
   <g id="patch_27">
    <path d="M 820.87 562.10
L 1455.12 562.10
L 1455.12 308.30
L 820.87 308.30
z
" style="fill: #ffffff"/>
   </g>
   <g id="matplotlib.axis_11">
    <g id="xtick_36">
     <g id="line2d_82">
      <g>
       <use xlink:href="#m7c25c535dc" x="820.87" y="562.10" style="stroke: #000000; stroke-width: 0.8"/>
      </g>
     </g>
     <g id="text_61">
      <text style="font-size: 24px; font-family: 'DejaVu Sans', 'Bitstream Vera Sans', 'Computer Modern Sans Serif', 'Lucida Grande', 'Verdana', 'Geneva', 'Lucid', 'Arial', 'Helvetica', 'Avant Garde', sans-serif; text-anchor: middle" x="820.87" y="587.34" transform="rotate(-0 820.87 587.34)">−700</text>
     </g>
    </g>
    <g id="xtick_37">
     <g id="line2d_83">
      <g>
       <use xlink:href="#m7c25c535dc" x="900.15" y="562.10" style="stroke: #000000; stroke-width: 0.8"/>
      </g>
     </g>
     <g id="text_62">
      <text style="font-size: 24px; font-family: 'DejaVu Sans', 'Bitstream Vera Sans', 'Computer Modern Sans Serif', 'Lucida Grande', 'Verdana', 'Geneva', 'Lucid', 'Arial', 'Helvetica', 'Avant Garde', sans-serif; text-anchor: middle" x="900.15" y="587.34" transform="rotate(-0 900.15 587.34)">−600</text>
     </g>
    </g>
    <g id="xtick_38">
     <g id="line2d_84">
      <g>
       <use xlink:href="#m7c25c535dc" x="979.43" y="562.10" style="stroke: #000000; stroke-width: 0.8"/>
      </g>
     </g>
     <g id="text_63">
      <text style="font-size: 24px; font-family: 'DejaVu Sans', 'Bitstream Vera Sans', 'Computer Modern Sans Serif', 'Lucida Grande', 'Verdana', 'Geneva', 'Lucid', 'Arial', 'Helvetica', 'Avant Garde', sans-serif; text-anchor: middle" x="979.43" y="587.34" transform="rotate(-0 979.43 587.34)">−500</text>
     </g>
    </g>
    <g id="xtick_39">
     <g id="line2d_85">
      <g>
       <use xlink:href="#m7c25c535dc" x="1058.71" y="562.10" style="stroke: #000000; stroke-width: 0.8"/>
      </g>
     </g>
     <g id="text_64">
      <text style="font-size: 24px; font-family: 'DejaVu Sans', 'Bitstream Vera Sans', 'Computer Modern Sans Serif', 'Lucida Grande', 'Verdana', 'Geneva', 'Lucid', 'Arial', 'Helvetica', 'Avant Garde', sans-serif; text-anchor: middle" x="1058.71" y="587.34" transform="rotate(-0 1058.71 587.34)">−400</text>
     </g>
    </g>
    <g id="xtick_40">
     <g id="line2d_86">
      <g>
       <use xlink:href="#m7c25c535dc" x="1137.99" y="562.10" style="stroke: #000000; stroke-width: 0.8"/>
      </g>
     </g>
     <g id="text_65">
      <text style="font-size: 24px; font-family: 'DejaVu Sans', 'Bitstream Vera Sans', 'Computer Modern Sans Serif', 'Lucida Grande', 'Verdana', 'Geneva', 'Lucid', 'Arial', 'Helvetica', 'Avant Garde', sans-serif; text-anchor: middle" x="1137.99" y="587.34" transform="rotate(-0 1137.99 587.34)">−300</text>
     </g>
    </g>
    <g id="xtick_41">
     <g id="line2d_87">
      <g>
       <use xlink:href="#m7c25c535dc" x="1217.27" y="562.10" style="stroke: #000000; stroke-width: 0.8"/>
      </g>
     </g>
     <g id="text_66">
      <text style="font-size: 24px; font-family: 'DejaVu Sans', 'Bitstream Vera Sans', 'Computer Modern Sans Serif', 'Lucida Grande', 'Verdana', 'Geneva', 'Lucid', 'Arial', 'Helvetica', 'Avant Garde', sans-serif; text-anchor: middle" x="1217.27" y="587.34" transform="rotate(-0 1217.27 587.34)">−200</text>
     </g>
    </g>
    <g id="xtick_42">
     <g id="line2d_88">
      <g>
       <use xlink:href="#m7c25c535dc" x="1296.55" y="562.10" style="stroke: #000000; stroke-width: 0.8"/>
      </g>
     </g>
     <g id="text_67">
      <text style="font-size: 24px; font-family: 'DejaVu Sans', 'Bitstream Vera Sans', 'Computer Modern Sans Serif', 'Lucida Grande', 'Verdana', 'Geneva', 'Lucid', 'Arial', 'Helvetica', 'Avant Garde', sans-serif; text-anchor: middle" x="1296.55" y="587.34" transform="rotate(-0 1296.55 587.34)">−100</text>
     </g>
    </g>
    <g id="xtick_43">
     <g id="line2d_89">
      <g>
       <use xlink:href="#m7c25c535dc" x="1375.83" y="562.10" style="stroke: #000000; stroke-width: 0.8"/>
      </g>
     </g>
     <g id="text_68">
      <text style="font-size: 24px; font-family: 'DejaVu Sans', 'Bitstream Vera Sans', 'Computer Modern Sans Serif', 'Lucida Grande', 'Verdana', 'Geneva', 'Lucid', 'Arial', 'Helvetica', 'Avant Garde', sans-serif; text-anchor: middle" x="1375.83" y="587.34" transform="rotate(-0 1375.83 587.34)">0</text>
     </g>
    </g>
    <g id="xtick_44">
     <g id="line2d_90">
      <g>
       <use xlink:href="#m7c25c535dc" x="1455.12" y="562.10" style="stroke: #000000; stroke-width: 0.8"/>
      </g>
     </g>
     <g id="text_69">
      <text style="font-size: 24px; font-family: 'DejaVu Sans', 'Bitstream Vera Sans', 'Computer Modern Sans Serif', 'Lucida Grande', 'Verdana', 'Geneva', 'Lucid', 'Arial', 'Helvetica', 'Avant Garde', sans-serif; text-anchor: middle" x="1455.12" y="587.34" transform="rotate(-0 1455.12 587.34)">100</text>
     </g>
    </g>
   </g>
   <g id="matplotlib.axis_12">
    <g id="ytick_19">
     <g id="line2d_91">
      <g>
       <use xlink:href="#mb258c49b38" x="820.87" y="546.24" style="stroke: #000000; stroke-width: 0.8"/>
      </g>
     </g>
     <g id="text_70">
      <text style="font-size: 24px; font-family: 'DejaVu Sans', 'Bitstream Vera Sans', 'Computer Modern Sans Serif', 'Lucida Grande', 'Verdana', 'Geneva', 'Lucid', 'Arial', 'Helvetica', 'Avant Garde', sans-serif; text-anchor: end" x="815.47" y="555.35" transform="rotate(-0 815.47 555.35)">0.0</text>
     </g>
    </g>
    <g id="ytick_20">
     <g id="line2d_92">
      <g>
       <use xlink:href="#mb258c49b38" x="820.87" y="466.92" style="stroke: #000000; stroke-width: 0.8"/>
      </g>
     </g>
     <g id="text_71">
      <text style="font-size: 24px; font-family: 'DejaVu Sans', 'Bitstream Vera Sans', 'Computer Modern Sans Serif', 'Lucida Grande', 'Verdana', 'Geneva', 'Lucid', 'Arial', 'Helvetica', 'Avant Garde', sans-serif; text-anchor: end" x="815.47" y="476.04" transform="rotate(-0 815.47 476.04)">0.5</text>
     </g>
    </g>
    <g id="ytick_21">
     <g id="line2d_93">
      <g>
       <use xlink:href="#mb258c49b38" x="820.87" y="387.61" style="stroke: #000000; stroke-width: 0.8"/>
      </g>
     </g>
     <g id="text_72">
      <text style="font-size: 24px; font-family: 'DejaVu Sans', 'Bitstream Vera Sans', 'Computer Modern Sans Serif', 'Lucida Grande', 'Verdana', 'Geneva', 'Lucid', 'Arial', 'Helvetica', 'Avant Garde', sans-serif; text-anchor: end" x="815.47" y="396.73" transform="rotate(-0 815.47 396.73)">1.0</text>
     </g>
    </g>
    <g id="ytick_22">
     <g id="line2d_94">
      <g>
       <use xlink:href="#mb258c49b38" x="820.87" y="308.30" style="stroke: #000000; stroke-width: 0.8"/>
      </g>
     </g>
     <g id="text_73">
      <text style="font-size: 24px; font-family: 'DejaVu Sans', 'Bitstream Vera Sans', 'Computer Modern Sans Serif', 'Lucida Grande', 'Verdana', 'Geneva', 'Lucid', 'Arial', 'Helvetica', 'Avant Garde', sans-serif; text-anchor: end" x="815.47" y="317.42" transform="rotate(-0 815.47 317.42)">1.5</text>
     </g>
    </g>
   </g>
   <g id="line2d_95">
    <path d="M 811.52 476.69
L 822.80 476.69
L 822.80 424.94
L 827.75 424.94
L 827.75 407.95
L 832.85 407.95
L 832.85 379.37
L 838.10 379.37
L 838.10 426.18
L 842.89 426.18
L 842.89 405.63
L 847.84 405.63
L 847.84 352.34
L 852.78 352.34
L 852.78 313.72
L 857.88 313.72
L 857.88 345.08
L 862.51 345.08
L 862.51 385.24
L 867.61 385.24
L 867.61 457.08
L 872.71 457.08
L 872.71 318.35
L 877.66 318.35
L 877.66 440.86
L 882.60 440.86
L 882.60 336.89
L 887.55 336.89
L 887.55 378.60
L 892.64 378.60
L 892.64 476.69
L 897.59 476.69
L 897.59 427.57
L 902.38 427.57
L 902.38 471.75
L 907.32 471.75
L 907.32 377.36
L 911.96 377.36
L 911.96 390.50
L 917.06 390.50
L 917.06 356.51
L 922.00 356.51
L 922.00 449.66
L 927.10 449.66
L 927.10 494.77
L 932.05 494.77
L 932.05 388.18
L 936.99 388.18
L 936.99 379.37
L 942.09 379.37
L 942.09 481.33
L 946.72 481.33
L 946.72 390.19
L 951.82 390.19
L 951.82 494.77
L 956.77 494.77
L 956.77 472.83
L 961.71 472.83
L 961.71 427.57
L 966.50 427.57
L 966.50 443.94
L 971.45 443.94
L 971.45 426.49
L 976.39 426.49
L 976.39 328.40
L 981.49 328.40
L 981.49 475.61
L 986.44 475.61
L 986.44 523.50
L 991.38 523.50
L 991.38 463.10
L 996.48 463.10
L 996.48 393.59
L 1001.27 393.59
L 1001.27 463.56
L 1006.21 463.56
L 1006.21 435.45
L 1010.85 435.45
L 1010.85 518.87
L 1016.10 518.87
L 1016.10 502.49
L 1021.05 502.49
L 1021.05 518.87
L 1025.99 518.87
L 1025.99 462.79
L 1030.94 462.79
L 1030.94 455.84
L 1036.03 455.84
L 1036.03 457.38
L 1042.06 457.38
L 1042.06 405.79
L 1047.16 405.79
L 1047.16 475.77
L 1052.26 475.77
L 1052.26 363.93
L 1057.20 363.93
L 1057.20 398.37
L 1062.15 398.37
L 1062.15 488.28
L 1068.79 488.28
L 1068.79 472.68
L 1075.28 472.68
L 1075.28 422.78
L 1080.38 422.78
L 1080.38 359.75
L 1085.48 359.75
L 1085.48 352.18
L 1090.42 352.18
L 1090.42 505.27
L 1096.60 505.27
L 1096.60 491.37
L 1101.70 491.37
L 1101.70 409.50
L 1106.65 409.50
L 1106.65 442.71
L 1112.06 442.71
L 1112.06 485.19
L 1118.24 485.19
L 1118.24 423.71
L 1123.18 423.71
L 1123.18 501.87
L 1128.28 501.87
L 1128.28 421.55
L 1132.92 421.55
L 1132.92 459.23
L 1137.42 459.23
L 1137.42 482.61
L 1142.64 482.61
L 1142.64 507.41
L 1147.85 507.41
L 1147.85 386.88
L 1152.91 386.88
L 1152.91 505.83
L 1157.65 505.83
L 1157.65 499.51
L 1162.86 499.51
L 1162.86 463.97
L 1167.60 463.97
L 1167.60 443.43
L 1172.66 443.43
L 1172.66 456.38
L 1177.71 456.38
L 1177.71 438.69
L 1184.19 438.69
L 1184.19 489.56
L 1189.25 489.56
L 1189.25 424.47
L 1194.30 424.47
L 1194.30 452.91
L 1200.31 452.91
L 1200.31 510.88
L 1208.68 510.88
L 1208.68 467.13
L 1215.64 467.13
L 1215.64 494.30
L 1220.38 494.30
L 1220.38 459.70
L 1225.27 459.70
L 1225.27 461.60
L 1230.33 461.60
L 1230.33 466.34
L 1235.39 466.34
L 1235.39 489.56
L 1240.13 489.56
L 1240.13 498.72
L 1245.34 498.72
L 1245.34 451.33
L 1250.08 451.33
L 1250.08 441.38
L 1254.51 441.38
L 1254.51 443.75
L 1263.20 443.75
L 1263.20 535.05
L 1268.25 535.05
L 1268.25 399.20
L 1272.99 399.20
L 1272.99 543.43
L 1278.05 543.43
L 1278.05 452.59
L 1282.79 452.59
L 1282.79 409.78
L 1287.53 409.78
L 1287.53 405.04
L 1294.32 405.04
L 1294.32 343.43
L 1299.54 343.43
L 1299.54 391.62
L 1304.28 391.62
L 1304.28 480.55
L 1309.02 480.55
L 1309.02 461.91
L 1317.55 461.91
L 1317.55 366.02
L 1322.45 366.02
L 1322.45 497.61
L 1327.51 497.61
L 1327.51 389.40
L 1332.25 389.40
L 1332.25 505.04
L 1336.99 505.04
L 1336.99 525.26
L 1342.52 525.26
L 1342.52 516.10
L 1347.26 516.10
L 1347.26 527.94
L 1352.00 527.94
L 1352.00 432.69
L 1358.32 432.69
L 1358.32 500.62
L 1363.06 500.62
L 1363.06 514.99
L 1368.27 514.99
L 1368.27 504.56
L 1373.64 504.56
L 1373.64 467.44
L 1378.38 467.44
L 1378.38 341.54
L 1383.28 341.54
L 1383.28 397.62
L 1388.34 397.62
L 1388.34 423.21
L 1393.39 423.21
L 1393.39 412.31
L 1398.14 412.31
L 1398.14 368.08
L 1403.03 368.08
L 1403.03 323.85
L 1408.09 323.85
L 1408.09 290.20
L 1413.15 290.20
L 1413.15 355.44
L 1417.89 355.44
L 1417.89 412.94
L 1425.94 412.94
L 1425.94 374.24
L 1431.00 374.24
L 1431.00 418.47
L 1436.06 418.47
L 1436.06 403.46
L 1440.80 403.46
L 1440.80 376.29
L 1446.01 376.29
L 1446.01 372.03
L 1477 372.03
L 1477 372.03
" clip-path="url(#pa43e6b7ffd)" style="fill: none; stroke: #000000; stroke-width: 1.5; stroke-linecap: square"/>
   </g>
   <g id="line2d_96">
    <path d="M 820.73 387.75
L 835.69 388.01
L 845.91 388.40
L 853.94 388.91
L 860.87 389.56
L 866.71 390.33
L 872.18 391.26
L 877.29 392.37
L 882.03 393.64
L 886.41 395.05
L 890.42 396.57
L 894.44 398.31
L 898.45 400.30
L 902.46 402.56
L 906.48 405.09
L 910.49 407.90
L 914.51 410.98
L 918.52 414.34
L 922.90 418.29
L 927.64 422.87
L 933.11 428.48
L 940.05 435.94
L 956.83 454.18
L 962.30 459.71
L 967.05 464.20
L 971.43 468.02
L 975.44 471.23
L 979.09 473.88
L 982.74 476.26
L 986.39 478.36
L 989.67 480.00
L 992.95 481.41
L 996.24 482.58
L 999.52 483.50
L 1002.80 484.18
L 1006.09 484.62
L 1009.37 484.82
L 1012.66 484.77
L 1015.94 484.47
L 1019.22 483.94
L 1022.51 483.16
L 1025.79 482.13
L 1029.08 480.87
L 1032.36 479.37
L 1035.64 477.63
L 1039.29 475.42
L 1042.94 472.94
L 1046.59 470.20
L 1050.60 466.89
L 1054.98 462.97
L 1059.73 458.40
L 1065.20 452.78
L 1072.13 445.31
L 1088.55 427.47
L 1094.02 421.91
L 1098.77 417.39
L 1103.15 413.51
L 1107.52 409.93
L 1111.54 406.94
L 1115.55 404.22
L 1119.56 401.78
L 1123.58 399.61
L 1127.59 397.70
L 1131.61 396.04
L 1135.98 394.48
L 1140.36 393.16
L 1145.11 391.98
L 1150.21 390.95
L 1155.69 390.08
L 1161.89 389.34
L 1168.82 388.75
L 1176.85 388.30
L 1187.07 387.96
L 1200.93 387.74
L 1223.92 387.63
L 1299.45 387.61
L 1455.25 387.61
L 1455.25 387.61
" clip-path="url(#pa43e6b7ffd)" style="fill: none; stroke-dasharray: 6.76,2.74; stroke-dashoffset: 0; stroke: #0000ff; stroke-width: 2"/>
   </g>
   <g id="line2d_97">
    <path d="M 820.73 387.61
L 1047.68 387.72
L 1059.73 387.96
L 1067.75 388.33
L 1073.96 388.83
L 1079.06 389.45
L 1083.44 390.19
L 1087.46 391.08
L 1091.10 392.11
L 1094.39 393.25
L 1097.67 394.62
L 1100.96 396.25
L 1103.88 397.94
L 1106.79 399.88
L 1109.71 402.09
L 1112.63 404.57
L 1115.55 407.35
L 1118.47 410.41
L 1121.75 414.20
L 1125.04 418.33
L 1128.69 423.31
L 1132.70 429.17
L 1137.81 437.07
L 1154.23 462.89
L 1158.24 468.60
L 1161.89 473.39
L 1165.17 477.33
L 1168.09 480.51
L 1171.01 483.36
L 1173.93 485.89
L 1176.49 487.82
L 1179.04 489.48
L 1181.59 490.89
L 1184.15 492.03
L 1186.70 492.90
L 1189.26 493.52
L 1191.81 493.87
L 1194.00 493.96
L 1196.19 493.86
L 1198.38 493.57
L 1200.93 492.99
L 1203.49 492.14
L 1206.04 491.03
L 1208.59 489.66
L 1211.15 488.02
L 1213.70 486.12
L 1216.26 483.96
L 1219.18 481.18
L 1222.09 478.07
L 1225.01 474.66
L 1228.30 470.47
L 1231.95 465.43
L 1235.96 459.51
L 1241.07 451.55
L 1255.66 428.51
L 1259.68 422.69
L 1263.33 417.76
L 1266.61 413.67
L 1269.89 409.93
L 1272.81 406.91
L 1275.73 404.19
L 1278.65 401.74
L 1281.57 399.58
L 1284.49 397.68
L 1287.41 396.02
L 1290.69 394.42
L 1293.98 393.09
L 1297.26 391.97
L 1300.91 390.97
L 1304.92 390.10
L 1309.30 389.38
L 1314.41 388.78
L 1320.25 388.33
L 1327.54 387.98
L 1337.40 387.76
L 1353.45 387.64
L 1400.52 387.61
L 1455.25 387.61
L 1455.25 387.61
" clip-path="url(#pa43e6b7ffd)" style="fill: none; stroke-dasharray: 6.76,2.74; stroke-dashoffset: 0; stroke: #0000ff; stroke-width: 2"/>
   </g>
   <g id="line2d_98">
    <path d="M 820.73 387.61
L 1200.20 387.72
L 1206.04 387.95
L 1210.05 388.32
L 1212.97 388.80
L 1215.53 389.42
L 1217.72 390.18
L 1219.91 391.19
L 1221.73 392.28
L 1223.55 393.64
L 1225.38 395.30
L 1227.20 397.31
L 1229.03 399.70
L 1230.85 402.52
L 1232.68 405.78
L 1234.50 409.49
L 1236.69 414.52
L 1238.88 420.15
L 1241.43 427.35
L 1245.08 438.41
L 1250.92 456.20
L 1253.47 463.31
L 1255.66 468.80
L 1257.49 472.88
L 1259.31 476.46
L 1261.14 479.49
L 1262.60 481.52
L 1264.06 483.18
L 1265.51 484.47
L 1266.61 485.19
L 1267.70 485.71
L 1268.80 486.01
L 1269.89 486.10
L 1270.99 485.99
L 1272.08 485.66
L 1273.18 485.13
L 1274.27 484.38
L 1275.73 483.06
L 1277.19 481.37
L 1278.65 479.32
L 1280.11 476.90
L 1281.93 473.40
L 1283.76 469.39
L 1285.95 463.96
L 1288.50 456.92
L 1291.79 447.10
L 1299.08 424.90
L 1301.64 417.91
L 1303.83 412.50
L 1306.02 407.71
L 1307.84 404.21
L 1309.66 401.16
L 1311.49 398.54
L 1313.31 396.33
L 1315.14 394.49
L 1316.96 392.97
L 1318.79 391.75
L 1320.61 390.77
L 1322.80 389.86
L 1324.99 389.19
L 1327.54 388.64
L 1330.83 388.18
L 1334.84 387.88
L 1340.68 387.69
L 1351.63 387.62
L 1427.15 387.61
L 1455.25 387.61
L 1455.25 387.61
" clip-path="url(#pa43e6b7ffd)" style="fill: none; stroke-dasharray: 6.76,2.74; stroke-dashoffset: 0; stroke: #0000ff; stroke-width: 2"/>
   </g>
   <g id="line2d_99">
    <path d="M 820.73 387.61
L 1232.68 387.72
L 1241.07 387.96
L 1246.91 388.34
L 1251.28 388.84
L 1254.93 389.48
L 1258.22 390.29
L 1261.14 391.25
L 1263.69 392.33
L 1266.24 393.66
L 1268.43 395.05
L 1270.62 396.69
L 1272.81 398.60
L 1275.00 400.82
L 1277.19 403.37
L 1279.38 406.27
L 1281.57 409.53
L 1283.76 413.14
L 1286.31 417.82
L 1288.87 422.96
L 1291.79 429.34
L 1295.43 437.93
L 1300.91 451.54
L 1306.75 465.93
L 1310.39 474.32
L 1313.31 480.48
L 1315.87 485.40
L 1318.42 489.82
L 1320.61 493.21
L 1322.80 496.20
L 1324.99 498.80
L 1327.18 501.02
L 1329.00 502.57
L 1330.83 503.87
L 1332.65 504.90
L 1334.48 505.69
L 1336.30 506.22
L 1338.12 506.51
L 1339.95 506.55
L 1341.41 506.35
L 1342.87 505.93
L 1344.33 505.28
L 1345.79 504.41
L 1347.25 503.30
L 1348.71 501.96
L 1350.53 499.96
L 1352.36 497.57
L 1354.18 494.80
L 1356.00 491.65
L 1358.19 487.36
L 1360.38 482.55
L 1362.94 476.33
L 1365.86 468.53
L 1369.50 458.04
L 1378.63 431.34
L 1381.55 423.63
L 1384.10 417.50
L 1386.29 412.77
L 1388.48 408.55
L 1390.67 404.84
L 1392.86 401.63
L 1394.68 399.32
L 1396.50 397.32
L 1398.33 395.60
L 1400.15 394.14
L 1402.34 392.69
L 1404.53 391.52
L 1406.72 390.59
L 1409.28 389.76
L 1412.19 389.06
L 1415.48 388.53
L 1419.49 388.12
L 1424.60 387.84
L 1432.26 387.67
L 1447.95 387.61
L 1455.25 387.61
L 1455.25 387.61
" clip-path="url(#pa43e6b7ffd)" style="fill: none; stroke-dasharray: 6.76,2.74; stroke-dashoffset: 0; stroke: #0000ff; stroke-width: 2"/>
   </g>
   <g id="line2d_100">
    <path d="M 820.73 387.75
L 835.69 388.01
L 845.91 388.40
L 853.94 388.91
L 860.87 389.56
L 866.71 390.33
L 872.18 391.26
L 877.29 392.37
L 882.03 393.64
L 886.41 395.05
L 890.42 396.57
L 894.44 398.31
L 898.45 400.30
L 902.46 402.56
L 906.48 405.09
L 910.49 407.90
L 914.51 410.98
L 918.52 414.34
L 922.90 418.29
L 927.64 422.87
L 933.11 428.48
L 940.05 435.94
L 956.83 454.18
L 962.30 459.71
L 967.05 464.20
L 971.43 468.02
L 975.44 471.23
L 979.09 473.88
L 982.74 476.26
L 986.39 478.36
L 989.67 480.00
L 992.95 481.41
L 996.24 482.58
L 999.52 483.50
L 1002.80 484.18
L 1006.09 484.62
L 1009.37 484.82
L 1012.66 484.77
L 1015.94 484.48
L 1019.22 483.94
L 1022.51 483.16
L 1025.79 482.14
L 1029.08 480.87
L 1032.36 479.37
L 1035.64 477.64
L 1039.29 475.44
L 1042.94 472.98
L 1046.59 470.25
L 1050.60 466.97
L 1054.98 463.09
L 1059.73 458.59
L 1065.93 452.38
L 1081.62 436.46
L 1086.00 432.44
L 1089.65 429.40
L 1092.93 426.96
L 1095.85 425.08
L 1098.40 423.68
L 1100.96 422.54
L 1103.15 421.78
L 1105.33 421.24
L 1107.52 420.93
L 1109.71 420.86
L 1111.90 421.03
L 1114.09 421.46
L 1116.28 422.15
L 1118.47 423.09
L 1120.66 424.29
L 1122.85 425.74
L 1125.04 427.43
L 1127.59 429.69
L 1130.15 432.25
L 1133.07 435.50
L 1136.35 439.52
L 1140.36 444.81
L 1145.84 452.47
L 1155.32 465.79
L 1159.70 471.50
L 1163.35 475.90
L 1166.63 479.51
L 1169.55 482.42
L 1172.47 485.02
L 1175.39 487.30
L 1177.94 489.03
L 1180.50 490.51
L 1183.05 491.73
L 1185.61 492.69
L 1188.16 493.40
L 1190.72 493.84
L 1193.27 494.03
L 1195.82 493.97
L 1198.38 493.65
L 1200.93 493.07
L 1203.49 492.25
L 1206.04 491.18
L 1208.59 489.88
L 1211.51 488.13
L 1214.80 485.87
L 1218.81 482.80
L 1225.74 477.46
L 1228.30 475.79
L 1230.49 474.64
L 1232.31 473.92
L 1234.14 473.48
L 1235.60 473.35
L 1237.05 473.43
L 1238.51 473.73
L 1239.97 474.25
L 1241.43 475.00
L 1243.26 476.23
L 1245.08 477.76
L 1247.27 479.91
L 1250.19 483.17
L 1256.76 490.67
L 1258.95 492.81
L 1260.77 494.34
L 1262.60 495.59
L 1264.42 496.54
L 1265.88 497.06
L 1267.34 497.36
L 1268.80 497.43
L 1270.26 497.27
L 1271.72 496.89
L 1273.18 496.27
L 1274.64 495.43
L 1276.46 494.08
L 1278.29 492.43
L 1280.47 490.08
L 1283.03 486.97
L 1291.06 476.86
L 1292.88 475.06
L 1294.34 473.89
L 1295.80 472.99
L 1297.26 472.41
L 1298.35 472.18
L 1299.45 472.14
L 1300.54 472.28
L 1301.64 472.61
L 1303.10 473.33
L 1304.56 474.34
L 1306.02 475.61
L 1307.84 477.52
L 1310.03 480.17
L 1312.95 484.09
L 1319.88 493.57
L 1322.44 496.67
L 1324.99 499.41
L 1327.18 501.44
L 1329.37 503.14
L 1331.19 504.31
L 1333.02 505.24
L 1334.84 505.93
L 1336.67 506.39
L 1338.49 506.61
L 1340.31 506.57
L 1341.77 506.31
L 1343.23 505.82
L 1344.69 505.11
L 1346.15 504.18
L 1347.61 503.01
L 1349.44 501.22
L 1351.26 499.06
L 1353.08 496.52
L 1354.91 493.59
L 1356.73 490.28
L 1358.92 485.82
L 1361.11 480.85
L 1363.67 474.45
L 1366.59 466.49
L 1370.60 454.79
L 1377.90 433.37
L 1380.82 425.49
L 1383.37 419.19
L 1385.56 414.29
L 1387.75 409.90
L 1389.94 406.02
L 1392.13 402.65
L 1393.95 400.21
L 1395.78 398.09
L 1397.60 396.26
L 1399.42 394.70
L 1401.61 393.14
L 1403.80 391.88
L 1405.99 390.88
L 1408.55 389.97
L 1411.10 389.29
L 1414.02 388.74
L 1417.67 388.28
L 1422.05 387.95
L 1428.25 387.74
L 1438.83 387.63
L 1455.25 387.61
L 1455.25 387.61
" clip-path="url(#pa43e6b7ffd)" style="fill: none; stroke: #ff0000; stroke-width: 2; stroke-linecap: square"/>
   </g>
   <g id="line2d_101">
    <path d="M 820.87 387.61
L 1455.12 387.61
" clip-path="url(#pa43e6b7ffd)" style="fill: none; stroke-dasharray: 3.7,1.6; stroke-dashoffset: 0; stroke: #008000"/>
   </g>
   <g id="line2d_102">
    <path d="M 820.87 546.24
L 1455.12 546.24
" clip-path="url(#pa43e6b7ffd)" style="fill: none; stroke-dasharray: 3.7,1.6; stroke-dashoffset: 0; stroke: #008000"/>
   </g>
   <g id="patch_28">
    <path d="M 820.87 562.10
L 820.87 308.30
" style="fill: none; stroke: #000000; stroke-width: 0.8; stroke-linejoin: miter; stroke-linecap: square"/>
   </g>
   <g id="patch_29">
    <path d="M 1455.12 562.10
L 1455.12 308.30
" style="fill: none; stroke: #000000; stroke-width: 0.8; stroke-linejoin: miter; stroke-linecap: square"/>
   </g>
   <g id="patch_30">
    <path d="M 820.87 562.10
L 1455.12 562.10
" style="fill: none; stroke: #000000; stroke-width: 0.8; stroke-linejoin: miter; stroke-linecap: square"/>
   </g>
   <g id="patch_31">
    <path d="M 820.87 308.30
L 1455.12 308.30
" style="fill: none; stroke: #000000; stroke-width: 0.8; stroke-linejoin: miter; stroke-linecap: square"/>
   </g>
   <g id="text_74">
    <text style="font-size: 24px; font-family: 'DejaVu Sans', 'Bitstream Vera Sans', 'Computer Modern Sans Serif', 'Lucida Grande', 'Verdana', 'Geneva', 'Lucid', 'Arial', 'Helvetica', 'Avant Garde', sans-serif; text-anchor: start" x="1391.69" y="531.80" transform="rotate(-0 1391.69 531.80)">Si IV</text>
   </g>
  </g>
  <g id="axes_7">
   <g id="patch_32">
    <path d="M 820.87 862.48
L 1455.12 862.48
L 1455.12 608.68
L 820.87 608.68
z
" style="fill: #ffffff"/>
   </g>
   <g id="matplotlib.axis_13">
    <g id="xtick_45">
     <g id="line2d_103">
      <g>
       <use xlink:href="#m7c25c535dc" x="820.87" y="862.48" style="stroke: #000000; stroke-width: 0.8"/>
      </g>
     </g>
     <g id="text_75">
      <text style="font-size: 24px; font-family: 'DejaVu Sans', 'Bitstream Vera Sans', 'Computer Modern Sans Serif', 'Lucida Grande', 'Verdana', 'Geneva', 'Lucid', 'Arial', 'Helvetica', 'Avant Garde', sans-serif; text-anchor: middle" x="820.87" y="887.72" transform="rotate(-0 820.87 887.72)">−700</text>
     </g>
    </g>
    <g id="xtick_46">
     <g id="line2d_104">
      <g>
       <use xlink:href="#m7c25c535dc" x="900.15" y="862.48" style="stroke: #000000; stroke-width: 0.8"/>
      </g>
     </g>
     <g id="text_76">
      <text style="font-size: 24px; font-family: 'DejaVu Sans', 'Bitstream Vera Sans', 'Computer Modern Sans Serif', 'Lucida Grande', 'Verdana', 'Geneva', 'Lucid', 'Arial', 'Helvetica', 'Avant Garde', sans-serif; text-anchor: middle" x="900.15" y="887.72" transform="rotate(-0 900.15 887.72)">−600</text>
     </g>
    </g>
    <g id="xtick_47">
     <g id="line2d_105">
      <g>
       <use xlink:href="#m7c25c535dc" x="979.43" y="862.48" style="stroke: #000000; stroke-width: 0.8"/>
      </g>
     </g>
     <g id="text_77">
      <text style="font-size: 24px; font-family: 'DejaVu Sans', 'Bitstream Vera Sans', 'Computer Modern Sans Serif', 'Lucida Grande', 'Verdana', 'Geneva', 'Lucid', 'Arial', 'Helvetica', 'Avant Garde', sans-serif; text-anchor: middle" x="979.43" y="887.72" transform="rotate(-0 979.43 887.72)">−500</text>
     </g>
    </g>
    <g id="xtick_48">
     <g id="line2d_106">
      <g>
       <use xlink:href="#m7c25c535dc" x="1058.71" y="862.48" style="stroke: #000000; stroke-width: 0.8"/>
      </g>
     </g>
     <g id="text_78">
      <text style="font-size: 24px; font-family: 'DejaVu Sans', 'Bitstream Vera Sans', 'Computer Modern Sans Serif', 'Lucida Grande', 'Verdana', 'Geneva', 'Lucid', 'Arial', 'Helvetica', 'Avant Garde', sans-serif; text-anchor: middle" x="1058.71" y="887.72" transform="rotate(-0 1058.71 887.72)">−400</text>
     </g>
    </g>
    <g id="xtick_49">
     <g id="line2d_107">
      <g>
       <use xlink:href="#m7c25c535dc" x="1137.99" y="862.48" style="stroke: #000000; stroke-width: 0.8"/>
      </g>
     </g>
     <g id="text_79">
      <text style="font-size: 24px; font-family: 'DejaVu Sans', 'Bitstream Vera Sans', 'Computer Modern Sans Serif', 'Lucida Grande', 'Verdana', 'Geneva', 'Lucid', 'Arial', 'Helvetica', 'Avant Garde', sans-serif; text-anchor: middle" x="1137.99" y="887.72" transform="rotate(-0 1137.99 887.72)">−300</text>
     </g>
    </g>
    <g id="xtick_50">
     <g id="line2d_108">
      <g>
       <use xlink:href="#m7c25c535dc" x="1217.27" y="862.48" style="stroke: #000000; stroke-width: 0.8"/>
      </g>
     </g>
     <g id="text_80">
      <text style="font-size: 24px; font-family: 'DejaVu Sans', 'Bitstream Vera Sans', 'Computer Modern Sans Serif', 'Lucida Grande', 'Verdana', 'Geneva', 'Lucid', 'Arial', 'Helvetica', 'Avant Garde', sans-serif; text-anchor: middle" x="1217.27" y="887.72" transform="rotate(-0 1217.27 887.72)">−200</text>
     </g>
    </g>
    <g id="xtick_51">
     <g id="line2d_109">
      <g>
       <use xlink:href="#m7c25c535dc" x="1296.55" y="862.48" style="stroke: #000000; stroke-width: 0.8"/>
      </g>
     </g>
     <g id="text_81">
      <text style="font-size: 24px; font-family: 'DejaVu Sans', 'Bitstream Vera Sans', 'Computer Modern Sans Serif', 'Lucida Grande', 'Verdana', 'Geneva', 'Lucid', 'Arial', 'Helvetica', 'Avant Garde', sans-serif; text-anchor: middle" x="1296.55" y="887.72" transform="rotate(-0 1296.55 887.72)">−100</text>
     </g>
    </g>
    <g id="xtick_52">
     <g id="line2d_110">
      <g>
       <use xlink:href="#m7c25c535dc" x="1375.83" y="862.48" style="stroke: #000000; stroke-width: 0.8"/>
      </g>
     </g>
     <g id="text_82">
      <text style="font-size: 24px; font-family: 'DejaVu Sans', 'Bitstream Vera Sans', 'Computer Modern Sans Serif', 'Lucida Grande', 'Verdana', 'Geneva', 'Lucid', 'Arial', 'Helvetica', 'Avant Garde', sans-serif; text-anchor: middle" x="1375.83" y="887.72" transform="rotate(-0 1375.83 887.72)">0</text>
     </g>
    </g>
    <g id="xtick_53">
     <g id="line2d_111">
      <g>
       <use xlink:href="#m7c25c535dc" x="1455.12" y="862.48" style="stroke: #000000; stroke-width: 0.8"/>
      </g>
     </g>
     <g id="text_83">
      <text style="font-size: 24px; font-family: 'DejaVu Sans', 'Bitstream Vera Sans', 'Computer Modern Sans Serif', 'Lucida Grande', 'Verdana', 'Geneva', 'Lucid', 'Arial', 'Helvetica', 'Avant Garde', sans-serif; text-anchor: middle" x="1455.12" y="887.72" transform="rotate(-0 1455.12 887.72)">100</text>
     </g>
    </g>
   </g>
   <g id="matplotlib.axis_14">
    <g id="ytick_23">
     <g id="line2d_112">
      <g>
       <use xlink:href="#mb258c49b38" x="820.87" y="846.62" style="stroke: #000000; stroke-width: 0.8"/>
      </g>
     </g>
     <g id="text_84">
      <text style="font-size: 24px; font-family: 'DejaVu Sans', 'Bitstream Vera Sans', 'Computer Modern Sans Serif', 'Lucida Grande', 'Verdana', 'Geneva', 'Lucid', 'Arial', 'Helvetica', 'Avant Garde', sans-serif; text-anchor: end" x="815.47" y="855.74" transform="rotate(-0 815.47 855.74)">0.0</text>
     </g>
    </g>
    <g id="ytick_24">
     <g id="line2d_113">
      <g>
       <use xlink:href="#mb258c49b38" x="820.87" y="767.31" style="stroke: #000000; stroke-width: 0.8"/>
      </g>
     </g>
     <g id="text_85">
      <text style="font-size: 24px; font-family: 'DejaVu Sans', 'Bitstream Vera Sans', 'Computer Modern Sans Serif', 'Lucida Grande', 'Verdana', 'Geneva', 'Lucid', 'Arial', 'Helvetica', 'Avant Garde', sans-serif; text-anchor: end" x="815.47" y="776.43" transform="rotate(-0 815.47 776.43)">0.5</text>
     </g>
    </g>
    <g id="ytick_25">
     <g id="line2d_114">
      <g>
       <use xlink:href="#mb258c49b38" x="820.87" y="688.00" style="stroke: #000000; stroke-width: 0.8"/>
      </g>
     </g>
     <g id="text_86">
      <text style="font-size: 24px; font-family: 'DejaVu Sans', 'Bitstream Vera Sans', 'Computer Modern Sans Serif', 'Lucida Grande', 'Verdana', 'Geneva', 'Lucid', 'Arial', 'Helvetica', 'Avant Garde', sans-serif; text-anchor: end" x="815.47" y="697.11" transform="rotate(-0 815.47 697.11)">1.0</text>
     </g>
    </g>
    <g id="ytick_26">
     <g id="line2d_115">
      <g>
       <use xlink:href="#mb258c49b38" x="820.87" y="608.68" style="stroke: #000000; stroke-width: 0.8"/>
      </g>
     </g>
     <g id="text_87">
      <text style="font-size: 24px; font-family: 'DejaVu Sans', 'Bitstream Vera Sans', 'Computer Modern Sans Serif', 'Lucida Grande', 'Verdana', 'Geneva', 'Lucid', 'Arial', 'Helvetica', 'Avant Garde', sans-serif; text-anchor: end" x="815.47" y="617.80" transform="rotate(-0 815.47 617.80)">1.5</text>
     </g>
    </g>
   </g>
   <g id="line2d_116">
    <path d="M 811.52 628.64
L 821.57 628.64
L 821.57 722.87
L 826.98 722.87
L 826.98 729.51
L 832.38 729.51
L 832.38 748.05
L 837.79 748.05
L 837.79 671.89
L 843.66 671.89
L 843.66 590.79
L 849.07 590.79
L 849.07 756.54
L 856.64 756.54
L 856.64 701.55
L 862.05 701.55
L 862.05 689.65
L 871.01 689.65
L 871.01 774.15
L 876.73 774.15
L 876.73 716.69
L 882.29 716.69
L 882.29 663.70
L 888.01 663.70
L 888.01 731.67
L 895.27 731.67
L 895.27 632.50
L 902.69 632.50
L 902.69 734.76
L 908.10 734.76
L 908.10 753.76
L 913.81 753.76
L 913.81 698.15
L 919.22 698.15
L 919.22 694.29
L 924.63 694.29
L 924.63 746.81
L 930.19 746.81
L 930.19 771.06
L 935.91 771.06
L 935.91 700.78
L 941.32 700.78
L 941.32 797.02
L 947.19 797.02
L 947.19 653.82
L 952.60 653.82
L 952.60 699.23
L 958.00 699.23
L 958.00 719.31
L 963.72 719.31
L 963.72 776.93
L 974.85 776.93
L 974.85 677.76
L 983.81 677.76
L 983.81 751.75
L 991.53 751.75
L 991.53 769.21
L 996.63 769.21
L 996.63 663.39
L 1002.35 663.39
L 1002.35 745.73
L 1011.62 745.73
L 1011.62 715.30
L 1020.89 715.30
L 1020.89 730.28
L 1028.31 730.28
L 1028.31 767.97
L 1040.67 767.97
L 1040.67 704.33
L 1046.70 704.33
L 1046.70 662.31
L 1052.26 662.31
L 1052.26 733.37
L 1057.98 733.37
L 1057.98 730.59
L 1063.38 730.59
L 1063.38 761.80
L 1068.79 761.80
L 1068.79 635.59
L 1074.51 635.59
L 1074.51 764.27
L 1081.93 764.27
L 1081.93 697.38
L 1088.88 697.38
L 1088.88 682.70
L 1094.75 682.70
L 1094.75 672.20
L 1100.16 672.20
L 1100.16 726.42
L 1105.88 726.42
L 1105.88 678.53
L 1111.28 678.53
L 1111.28 753.45
L 1116.69 753.45
L 1116.69 714.06
L 1122.56 714.06
L 1122.56 685.02
L 1128.28 685.02
L 1128.28 711.74
L 1133.69 711.74
L 1133.69 761.52
L 1138.37 761.52
L 1138.37 718.71
L 1146.59 718.71
L 1146.59 695.17
L 1151.80 695.17
L 1151.80 778.11
L 1157.33 778.11
L 1157.33 758.68
L 1164.76 758.68
L 1164.76 746.04
L 1170.29 746.04
L 1170.29 721.87
L 1175.82 721.87
L 1175.82 744.14
L 1181.35 744.14
L 1181.35 811.28
L 1190.51 811.28
L 1190.51 820.60
L 1196.04 820.60
L 1196.04 705.44
L 1201.89 705.44
L 1201.89 756.62
L 1209.00 756.62
L 1209.00 767.37
L 1214.53 767.37
L 1214.53 732.30
L 1224.01 732.30
L 1224.01 801.80
L 1233.17 801.80
L 1233.17 725.50
L 1238.55 725.50
L 1238.55 706.55
L 1244.08 706.55
L 1244.08 782.69
L 1251.66 782.69
L 1251.66 746.04
L 1256.88 746.04
L 1256.88 755.04
L 1262.72 755.04
L 1262.72 630.72
L 1269.83 630.72
L 1269.83 737.35
L 1275.36 737.35
L 1275.36 689.17
L 1281.21 689.17
L 1281.21 718.08
L 1286.74 718.08
L 1286.74 772.89
L 1291.95 772.89
L 1291.95 681.75
L 1297.48 681.75
L 1297.48 721.55
L 1304.91 721.55
L 1304.91 789.01
L 1310.44 789.01
L 1310.44 743.20
L 1316.44 743.20
L 1316.44 686.80
L 1321.98 686.80
L 1321.98 781.90
L 1327.03 781.90
L 1327.03 701.81
L 1332.56 701.81
L 1332.56 768.95
L 1338.09 768.95
L 1338.09 710.97
L 1343.78 710.97
L 1343.78 665.47
L 1349.15 665.47
L 1349.15 803.38
L 1356.42 803.38
L 1356.42 806.07
L 1361.95 806.07
L 1361.95 767.84
L 1367.32 767.84
L 1367.32 772.58
L 1373.33 772.58
L 1373.33 740.04
L 1378.86 740.04
L 1378.86 657.10
L 1384.39 657.10
L 1384.39 767.84
L 1389.60 767.84
L 1389.60 757.10
L 1394.66 757.10
L 1394.66 731.35
L 1400.98 731.35
L 1400.98 716.50
L 1406.04 716.50
L 1406.04 701.33
L 1411.57 701.33
L 1411.57 731.35
L 1417.25 731.35
L 1417.25 769.26
L 1424.68 769.26
L 1424.68 673.85
L 1435.74 673.85
L 1435.74 705.76
L 1441.27 705.76
L 1441.27 719.18
L 1449.17 719.18
L 1449.17 723.45
L 1453.91 723.45
L 1453.91 622.03
L 1477 622.03
L 1477 622.03
" clip-path="url(#pb285bc5636)" style="fill: none; stroke: #000000; stroke-width: 1.5; stroke-linecap: square"/>
   </g>
   <g id="line2d_117">
    <path d="M 820.73 688.08
L 840.07 688.30
L 852.48 688.65
L 861.96 689.13
L 869.99 689.76
L 876.92 690.51
L 883.13 691.40
L 888.96 692.45
L 894.44 693.67
L 899.55 695.03
L 904.65 696.62
L 909.76 698.46
L 914.51 700.40
L 919.61 702.73
L 924.72 705.32
L 930.19 708.35
L 936.03 711.84
L 942.97 716.26
L 954.28 723.79
L 964.13 730.25
L 970.33 734.05
L 975.44 736.93
L 980.18 739.37
L 984.56 741.36
L 988.57 742.96
L 992.59 744.32
L 996.24 745.34
L 999.89 746.14
L 1003.53 746.72
L 1007.18 747.07
L 1010.83 747.18
L 1014.48 747.06
L 1018.13 746.72
L 1021.78 746.14
L 1025.43 745.34
L 1029.08 744.32
L 1033.09 742.96
L 1037.10 741.36
L 1041.48 739.36
L 1046.22 736.93
L 1051.33 734.04
L 1057.17 730.47
L 1064.47 725.73
L 1084.90 712.28
L 1091.10 708.55
L 1096.58 705.50
L 1101.69 702.90
L 1106.79 700.55
L 1111.90 698.46
L 1117.01 696.62
L 1122.12 695.03
L 1127.23 693.67
L 1132.70 692.45
L 1138.54 691.39
L 1144.74 690.51
L 1151.67 689.75
L 1159.34 689.16
L 1168.46 688.68
L 1179.40 688.35
L 1194.36 688.13
L 1218.81 688.02
L 1298.35 688.00
L 1455.25 688.00
L 1455.25 688.00
" clip-path="url(#pb285bc5636)" style="fill: none; stroke-dasharray: 6.76,2.74; stroke-dashoffset: 0; stroke: #0000ff; stroke-width: 2"/>
   </g>
   <g id="line2d_118">
    <path d="M 820.73 688.00
L 1052.43 688.11
L 1064.83 688.35
L 1072.86 688.72
L 1079.06 689.21
L 1084.54 689.87
L 1089.28 690.67
L 1093.29 691.56
L 1096.94 692.58
L 1100.59 693.83
L 1103.88 695.18
L 1107.16 696.76
L 1110.44 698.61
L 1113.73 700.73
L 1117.01 703.15
L 1120.29 705.87
L 1123.58 708.89
L 1126.86 712.20
L 1130.51 716.21
L 1134.52 720.98
L 1139.27 726.99
L 1145.84 735.72
L 1154.96 747.85
L 1159.70 753.76
L 1163.71 758.40
L 1167.00 761.87
L 1170.28 765.02
L 1173.20 767.52
L 1176.12 769.72
L 1178.67 771.39
L 1181.23 772.81
L 1183.78 773.97
L 1186.34 774.89
L 1188.89 775.54
L 1191.45 775.93
L 1193.63 776.05
L 1195.82 775.99
L 1198.01 775.72
L 1200.57 775.18
L 1203.12 774.37
L 1205.68 773.30
L 1208.23 771.98
L 1210.78 770.41
L 1213.34 768.60
L 1216.26 766.24
L 1219.18 763.59
L 1222.46 760.29
L 1225.74 756.67
L 1229.76 751.90
L 1234.50 745.86
L 1241.43 736.61
L 1249.83 725.48
L 1254.57 719.56
L 1258.58 714.90
L 1262.23 710.99
L 1265.51 707.78
L 1268.80 704.87
L 1272.08 702.26
L 1275.37 699.94
L 1278.65 697.92
L 1281.93 696.17
L 1285.22 694.67
L 1288.50 693.40
L 1292.15 692.23
L 1296.16 691.20
L 1300.54 690.32
L 1305.29 689.61
L 1310.76 689.04
L 1317.33 688.59
L 1325.35 688.29
L 1336.67 688.09
L 1357.10 688.01
L 1455.25 688.00
L 1455.25 688.00
" clip-path="url(#pb285bc5636)" style="fill: none; stroke-dasharray: 6.76,2.74; stroke-dashoffset: 0; stroke: #0000ff; stroke-width: 2"/>
   </g>
   <g id="line2d_119">
    <path d="M 820.73 688.00
L 1212.24 688.10
L 1218.81 688.35
L 1223.55 688.74
L 1227.20 689.27
L 1230.49 689.98
L 1233.41 690.84
L 1235.96 691.80
L 1238.51 692.98
L 1241.07 694.38
L 1243.99 696.24
L 1247.27 698.62
L 1252.38 702.65
L 1257.12 706.31
L 1260.04 708.26
L 1262.23 709.47
L 1264.42 710.43
L 1266.24 710.99
L 1268.07 711.34
L 1269.89 711.45
L 1271.72 711.32
L 1273.54 710.97
L 1275.37 710.38
L 1277.56 709.42
L 1279.74 708.19
L 1282.30 706.49
L 1285.58 704.01
L 1295.07 696.66
L 1297.99 694.75
L 1300.91 693.10
L 1303.46 691.90
L 1306.38 690.80
L 1309.30 689.95
L 1312.58 689.25
L 1316.23 688.73
L 1320.61 688.36
L 1326.08 688.14
L 1334.84 688.02
L 1361.48 688.00
L 1455.25 688.00
L 1455.25 688.00
" clip-path="url(#pb285bc5636)" style="fill: none; stroke-dasharray: 6.76,2.74; stroke-dashoffset: 0; stroke: #0000ff; stroke-width: 2"/>
   </g>
   <g id="line2d_120">
    <path d="M 820.73 688.00
L 1241.07 688.10
L 1249.46 688.34
L 1254.93 688.70
L 1259.31 689.18
L 1262.96 689.80
L 1266.24 690.59
L 1269.16 691.51
L 1271.72 692.54
L 1274.27 693.80
L 1276.83 695.33
L 1279.02 696.88
L 1281.20 698.68
L 1283.39 700.74
L 1285.58 703.07
L 1288.14 706.14
L 1290.69 709.58
L 1293.25 713.39
L 1296.16 718.15
L 1299.45 723.94
L 1303.83 732.14
L 1312.58 748.63
L 1315.87 754.30
L 1318.79 758.88
L 1321.34 762.47
L 1323.53 765.19
L 1325.72 767.56
L 1327.54 769.26
L 1329.37 770.69
L 1331.19 771.84
L 1333.02 772.72
L 1334.84 773.32
L 1336.67 773.63
L 1338.12 773.68
L 1339.58 773.55
L 1341.04 773.23
L 1342.87 772.58
L 1344.69 771.66
L 1346.52 770.45
L 1348.34 768.97
L 1350.17 767.23
L 1352.36 764.81
L 1354.54 762.03
L 1357.10 758.39
L 1359.65 754.36
L 1362.57 749.35
L 1366.59 741.97
L 1378.26 720.10
L 1381.55 714.60
L 1384.46 710.16
L 1387.02 706.66
L 1389.57 703.53
L 1392.13 700.78
L 1394.68 698.40
L 1397.23 696.37
L 1399.79 694.66
L 1402.34 693.24
L 1404.90 692.09
L 1407.82 691.03
L 1410.74 690.22
L 1414.02 689.54
L 1417.67 689.00
L 1422.05 688.58
L 1427.88 688.27
L 1435.91 688.08
L 1450.87 688.00
L 1455.25 688.00
L 1455.25 688.00
" clip-path="url(#pb285bc5636)" style="fill: none; stroke-dasharray: 6.76,2.74; stroke-dashoffset: 0; stroke: #0000ff; stroke-width: 2"/>
   </g>
   <g id="line2d_121">
    <path d="M 820.73 688.08
L 840.07 688.30
L 852.48 688.65
L 861.96 689.13
L 869.99 689.76
L 876.92 690.51
L 883.13 691.40
L 888.96 692.45
L 894.44 693.67
L 899.55 695.03
L 904.65 696.62
L 909.76 698.46
L 914.51 700.40
L 919.61 702.73
L 924.72 705.32
L 930.19 708.35
L 936.03 711.84
L 942.97 716.26
L 954.28 723.79
L 964.13 730.25
L 970.33 734.05
L 975.44 736.93
L 980.18 739.37
L 984.56 741.36
L 988.57 742.96
L 992.59 744.32
L 996.24 745.34
L 999.89 746.14
L 1003.53 746.72
L 1007.18 747.07
L 1010.83 747.18
L 1014.48 747.07
L 1018.13 746.72
L 1021.78 746.14
L 1025.43 745.34
L 1029.08 744.32
L 1033.09 742.97
L 1037.10 741.37
L 1041.48 739.38
L 1046.22 736.97
L 1051.33 734.11
L 1057.54 730.37
L 1068.12 723.67
L 1076.14 718.71
L 1081.25 715.80
L 1085.63 713.56
L 1089.28 711.93
L 1092.56 710.68
L 1095.85 709.67
L 1098.77 709.00
L 1101.69 708.57
L 1104.24 708.40
L 1106.79 708.45
L 1109.35 708.72
L 1111.90 709.22
L 1114.46 709.96
L 1117.01 710.95
L 1119.56 712.19
L 1122.12 713.67
L 1124.67 715.41
L 1127.59 717.68
L 1130.51 720.25
L 1133.79 723.47
L 1137.44 727.39
L 1141.46 732.04
L 1146.93 738.75
L 1158.24 752.72
L 1162.62 757.72
L 1166.27 761.55
L 1169.55 764.68
L 1172.47 767.19
L 1175.39 769.42
L 1178.31 771.34
L 1180.86 772.77
L 1183.42 773.95
L 1185.97 774.87
L 1188.53 775.55
L 1191.08 775.96
L 1193.63 776.11
L 1195.82 776.04
L 1198.01 775.77
L 1200.57 775.22
L 1203.12 774.41
L 1205.68 773.34
L 1208.23 772.03
L 1210.78 770.47
L 1213.70 768.41
L 1216.62 766.06
L 1219.91 763.12
L 1223.55 759.54
L 1228.66 754.17
L 1236.69 745.70
L 1239.97 742.56
L 1242.89 740.05
L 1245.45 738.10
L 1248.00 736.42
L 1250.55 734.98
L 1253.47 733.62
L 1256.76 732.36
L 1261.50 730.82
L 1267.70 728.77
L 1272.45 726.94
L 1279.74 724.09
L 1282.30 723.35
L 1284.49 722.96
L 1286.31 722.86
L 1288.14 722.99
L 1289.96 723.39
L 1291.42 723.93
L 1292.88 724.66
L 1294.70 725.85
L 1296.53 727.35
L 1298.35 729.16
L 1300.54 731.69
L 1302.73 734.57
L 1305.29 738.29
L 1308.93 744.04
L 1316.60 756.25
L 1319.52 760.46
L 1322.07 763.77
L 1324.26 766.29
L 1326.45 768.47
L 1328.27 770.01
L 1330.10 771.30
L 1331.92 772.32
L 1333.75 773.07
L 1335.57 773.54
L 1337.40 773.73
L 1338.85 773.68
L 1340.31 773.45
L 1342.14 772.91
L 1343.96 772.08
L 1345.79 770.98
L 1347.61 769.61
L 1349.44 767.97
L 1351.63 765.67
L 1353.81 763.00
L 1356.00 760.01
L 1358.56 756.14
L 1361.48 751.28
L 1365.13 744.71
L 1370.96 733.61
L 1376.44 723.35
L 1380.09 716.99
L 1383.00 712.33
L 1385.56 708.61
L 1388.11 705.27
L 1390.67 702.30
L 1393.22 699.71
L 1395.41 697.78
L 1397.96 695.85
L 1400.52 694.23
L 1403.07 692.89
L 1405.63 691.80
L 1408.55 690.81
L 1411.46 690.05
L 1414.75 689.41
L 1418.76 688.88
L 1423.51 688.48
L 1429.71 688.21
L 1438.83 688.05
L 1455.25 688.00
L 1455.25 688.00
" clip-path="url(#pb285bc5636)" style="fill: none; stroke: #ff0000; stroke-width: 2; stroke-linecap: square"/>
   </g>
   <g id="line2d_122">
    <path d="M 820.87 688.00
L 1455.12 688.00
" clip-path="url(#pb285bc5636)" style="fill: none; stroke-dasharray: 3.7,1.6; stroke-dashoffset: 0; stroke: #008000"/>
   </g>
   <g id="line2d_123">
    <path d="M 820.87 846.62
L 1455.12 846.62
" clip-path="url(#pb285bc5636)" style="fill: none; stroke-dasharray: 3.7,1.6; stroke-dashoffset: 0; stroke: #008000"/>
   </g>
   <g id="patch_33">
    <path d="M 820.87 862.48
L 820.87 608.68
" style="fill: none; stroke: #000000; stroke-width: 0.8; stroke-linejoin: miter; stroke-linecap: square"/>
   </g>
   <g id="patch_34">
    <path d="M 1455.12 862.48
L 1455.12 608.68
" style="fill: none; stroke: #000000; stroke-width: 0.8; stroke-linejoin: miter; stroke-linecap: square"/>
   </g>
   <g id="patch_35">
    <path d="M 820.87 862.48
L 1455.12 862.48
" style="fill: none; stroke: #000000; stroke-width: 0.8; stroke-linejoin: miter; stroke-linecap: square"/>
   </g>
   <g id="patch_36">
    <path d="M 820.87 608.68
L 1455.12 608.68
" style="fill: none; stroke: #000000; stroke-width: 0.8; stroke-linejoin: miter; stroke-linecap: square"/>
   </g>
   <g id="text_88">
    <text style="font-size: 24px; font-family: 'DejaVu Sans', 'Bitstream Vera Sans', 'Computer Modern Sans Serif', 'Lucida Grande', 'Verdana', 'Geneva', 'Lucid', 'Arial', 'Helvetica', 'Avant Garde', sans-serif; text-anchor: start" x="1391.69" y="832.19" transform="rotate(-0 1391.69 832.19)">Si II</text>
   </g>
  </g>
  <g id="axes_8">
   <g id="patch_37">
    <path d="M 820.87 1162.87
L 1455.12 1162.87
L 1455.12 909.07
L 820.87 909.07
z
" style="fill: #ffffff"/>
   </g>
   <g id="matplotlib.axis_15">
    <g id="xtick_54">
     <g id="line2d_124">
      <g>
       <use xlink:href="#m7c25c535dc" x="820.87" y="1162.87" style="stroke: #000000; stroke-width: 0.8"/>
      </g>
     </g>
     <g id="text_89">
      <text style="font-size: 24px; font-family: 'DejaVu Sans', 'Bitstream Vera Sans', 'Computer Modern Sans Serif', 'Lucida Grande', 'Verdana', 'Geneva', 'Lucid', 'Arial', 'Helvetica', 'Avant Garde', sans-serif; text-anchor: middle" x="820.87" y="1188.10" transform="rotate(-0 820.87 1188.10)">−700</text>
     </g>
    </g>
    <g id="xtick_55">
     <g id="line2d_125">
      <g>
       <use xlink:href="#m7c25c535dc" x="900.15" y="1162.87" style="stroke: #000000; stroke-width: 0.8"/>
      </g>
     </g>
     <g id="text_90">
      <text style="font-size: 24px; font-family: 'DejaVu Sans', 'Bitstream Vera Sans', 'Computer Modern Sans Serif', 'Lucida Grande', 'Verdana', 'Geneva', 'Lucid', 'Arial', 'Helvetica', 'Avant Garde', sans-serif; text-anchor: middle" x="900.15" y="1188.10" transform="rotate(-0 900.15 1188.10)">−600</text>
     </g>
    </g>
    <g id="xtick_56">
     <g id="line2d_126">
      <g>
       <use xlink:href="#m7c25c535dc" x="979.43" y="1162.87" style="stroke: #000000; stroke-width: 0.8"/>
      </g>
     </g>
     <g id="text_91">
      <text style="font-size: 24px; font-family: 'DejaVu Sans', 'Bitstream Vera Sans', 'Computer Modern Sans Serif', 'Lucida Grande', 'Verdana', 'Geneva', 'Lucid', 'Arial', 'Helvetica', 'Avant Garde', sans-serif; text-anchor: middle" x="979.43" y="1188.10" transform="rotate(-0 979.43 1188.10)">−500</text>
     </g>
    </g>
    <g id="xtick_57">
     <g id="line2d_127">
      <g>
       <use xlink:href="#m7c25c535dc" x="1058.71" y="1162.87" style="stroke: #000000; stroke-width: 0.8"/>
      </g>
     </g>
     <g id="text_92">
      <text style="font-size: 24px; font-family: 'DejaVu Sans', 'Bitstream Vera Sans', 'Computer Modern Sans Serif', 'Lucida Grande', 'Verdana', 'Geneva', 'Lucid', 'Arial', 'Helvetica', 'Avant Garde', sans-serif; text-anchor: middle" x="1058.71" y="1188.10" transform="rotate(-0 1058.71 1188.10)">−400</text>
     </g>
    </g>
    <g id="xtick_58">
     <g id="line2d_128">
      <g>
       <use xlink:href="#m7c25c535dc" x="1137.99" y="1162.87" style="stroke: #000000; stroke-width: 0.8"/>
      </g>
     </g>
     <g id="text_93">
      <text style="font-size: 24px; font-family: 'DejaVu Sans', 'Bitstream Vera Sans', 'Computer Modern Sans Serif', 'Lucida Grande', 'Verdana', 'Geneva', 'Lucid', 'Arial', 'Helvetica', 'Avant Garde', sans-serif; text-anchor: middle" x="1137.99" y="1188.10" transform="rotate(-0 1137.99 1188.10)">−300</text>
     </g>
    </g>
    <g id="xtick_59">
     <g id="line2d_129">
      <g>
       <use xlink:href="#m7c25c535dc" x="1217.27" y="1162.87" style="stroke: #000000; stroke-width: 0.8"/>
      </g>
     </g>
     <g id="text_94">
      <text style="font-size: 24px; font-family: 'DejaVu Sans', 'Bitstream Vera Sans', 'Computer Modern Sans Serif', 'Lucida Grande', 'Verdana', 'Geneva', 'Lucid', 'Arial', 'Helvetica', 'Avant Garde', sans-serif; text-anchor: middle" x="1217.27" y="1188.10" transform="rotate(-0 1217.27 1188.10)">−200</text>
     </g>
    </g>
    <g id="xtick_60">
     <g id="line2d_130">
      <g>
       <use xlink:href="#m7c25c535dc" x="1296.55" y="1162.87" style="stroke: #000000; stroke-width: 0.8"/>
      </g>
     </g>
     <g id="text_95">
      <text style="font-size: 24px; font-family: 'DejaVu Sans', 'Bitstream Vera Sans', 'Computer Modern Sans Serif', 'Lucida Grande', 'Verdana', 'Geneva', 'Lucid', 'Arial', 'Helvetica', 'Avant Garde', sans-serif; text-anchor: middle" x="1296.55" y="1188.10" transform="rotate(-0 1296.55 1188.10)">−100</text>
     </g>
    </g>
    <g id="xtick_61">
     <g id="line2d_131">
      <g>
       <use xlink:href="#m7c25c535dc" x="1375.83" y="1162.87" style="stroke: #000000; stroke-width: 0.8"/>
      </g>
     </g>
     <g id="text_96">
      <text style="font-size: 24px; font-family: 'DejaVu Sans', 'Bitstream Vera Sans', 'Computer Modern Sans Serif', 'Lucida Grande', 'Verdana', 'Geneva', 'Lucid', 'Arial', 'Helvetica', 'Avant Garde', sans-serif; text-anchor: middle" x="1375.83" y="1188.10" transform="rotate(-0 1375.83 1188.10)">0</text>
     </g>
    </g>
    <g id="xtick_62">
     <g id="line2d_132">
      <g>
       <use xlink:href="#m7c25c535dc" x="1455.12" y="1162.87" style="stroke: #000000; stroke-width: 0.8"/>
      </g>
     </g>
     <g id="text_97">
      <text style="font-size: 24px; font-family: 'DejaVu Sans', 'Bitstream Vera Sans', 'Computer Modern Sans Serif', 'Lucida Grande', 'Verdana', 'Geneva', 'Lucid', 'Arial', 'Helvetica', 'Avant Garde', sans-serif; text-anchor: middle" x="1455.12" y="1188.10" transform="rotate(-0 1455.12 1188.10)">100</text>
     </g>
    </g>
    <g id="text_98">
    
     <g transform="translate(1026.71 1218.91)">
      <text>
       <tspan x="0" y="-0.77" style="font-size: 26px; font-family: 'DejaVu Sans'">V</tspan>
       <tspan x="17.78" y="-0.77" style="font-size: 26px; font-family: 'DejaVu Sans'">e</tspan>
       <tspan x="33.78" y="-0.77" style="font-size: 26px; font-family: 'DejaVu Sans'">l</tspan>
       <tspan x="41.00" y="-0.77" style="font-size: 26px; font-family: 'DejaVu Sans'">o</tspan>
       <tspan x="56.91" y="-0.77" style="font-size: 26px; font-family: 'DejaVu Sans'">c</tspan>
       <tspan x="71.20" y="-0.77" style="font-size: 26px; font-family: 'DejaVu Sans'">i</tspan>
       <tspan x="78.43" y="-0.77" style="font-size: 26px; font-family: 'DejaVu Sans'">t</tspan>
       <tspan x="88.62" y="-0.77" style="font-size: 26px; font-family: 'DejaVu Sans'">y</tspan>
       <tspan x="104.01" y="-0.77" style="font-size: 26px; font-family: 'DejaVu Sans'"> </tspan>
       <tspan x="112.27" y="-0.77" style="font-size: 26px; font-family: 'DejaVu Sans'">[</tspan>
       <tspan x="122.42" y="-0.77" style="font-size: 26px; font-family: 'DejaVu Sans'">k</tspan>
       <tspan x="137.47" y="-0.77" style="font-size: 26px; font-family: 'DejaVu Sans'">m</tspan>
       <tspan x="162.80" y="-0.77" style="font-size: 26px; font-family: 'DejaVu Sans'"> </tspan>
       <tspan x="171.06" y="-0.77" style="font-size: 26px; font-family: 'DejaVu Sans'">s</tspan>
       <tspan x="212.40" y="-0.77" style="font-size: 26px; font-family: 'DejaVu Sans'">]</tspan>
       <tspan x="184.86" y="-10.73" style="font-size: 18.2px; font-family: 'DejaVu Sans'">−</tspan>
       <tspan x="200.11" y="-10.73" style="font-size: 18.2px; font-family: 'DejaVu Sans'">1</tspan>
      </text>
     </g>
    </g>
   </g>
   <g id="matplotlib.axis_16">
    <g id="ytick_27">
     <g id="line2d_133">
      <g>
       <use xlink:href="#mb258c49b38" x="820.87" y="1147.00" style="stroke: #000000; stroke-width: 0.8"/>
      </g>
     </g>
     <g id="text_99">
      <text style="font-size: 24px; font-family: 'DejaVu Sans', 'Bitstream Vera Sans', 'Computer Modern Sans Serif', 'Lucida Grande', 'Verdana', 'Geneva', 'Lucid', 'Arial', 'Helvetica', 'Avant Garde', sans-serif; text-anchor: end" x="815.47" y="1156.12" transform="rotate(-0 815.47 1156.12)">0.0</text>
     </g>
    </g>
    <g id="ytick_28">
     <g id="line2d_134">
      <g>
       <use xlink:href="#mb258c49b38" x="820.87" y="1067.69" style="stroke: #000000; stroke-width: 0.8"/>
      </g>
     </g>
     <g id="text_100">
      <text style="font-size: 24px; font-family: 'DejaVu Sans', 'Bitstream Vera Sans', 'Computer Modern Sans Serif', 'Lucida Grande', 'Verdana', 'Geneva', 'Lucid', 'Arial', 'Helvetica', 'Avant Garde', sans-serif; text-anchor: end" x="815.47" y="1076.81" transform="rotate(-0 815.47 1076.81)">0.5</text>
     </g>
    </g>
    <g id="ytick_29">
     <g id="line2d_135">
      <g>
       <use xlink:href="#mb258c49b38" x="820.87" y="988.38" style="stroke: #000000; stroke-width: 0.8"/>
      </g>
     </g>
     <g id="text_101">
      <text style="font-size: 24px; font-family: 'DejaVu Sans', 'Bitstream Vera Sans', 'Computer Modern Sans Serif', 'Lucida Grande', 'Verdana', 'Geneva', 'Lucid', 'Arial', 'Helvetica', 'Avant Garde', sans-serif; text-anchor: end" x="815.47" y="997.50" transform="rotate(-0 815.47 997.50)">1.0</text>
     </g>
    </g>
    <g id="ytick_30">
     <g id="line2d_136">
      <g>
       <use xlink:href="#mb258c49b38" x="820.87" y="909.07" style="stroke: #000000; stroke-width: 0.8"/>
      </g>
     </g>
     <g id="text_102">
      <text style="font-size: 24px; font-family: 'DejaVu Sans', 'Bitstream Vera Sans', 'Computer Modern Sans Serif', 'Lucida Grande', 'Verdana', 'Geneva', 'Lucid', 'Arial', 'Helvetica', 'Avant Garde', sans-serif; text-anchor: end" x="815.47" y="918.19" transform="rotate(-0 815.47 918.19)">1.5</text>
     </g>
    </g>
    <g id="text_103">
     <text style="font-size: 26px; font-family: 'DejaVu Sans', 'Bitstream Vera Sans', 'Computer Modern Sans Serif', 'Lucida Grande', 'Verdana', 'Geneva', 'Lucid', 'Arial', 'Helvetica', 'Avant Garde', sans-serif; text-anchor: middle" x="769.55" y="1035.97" transform="rotate(-90 769.55 1035.97)">Normalized Flux</text>
    </g>
   </g>
   <g id="line2d_137">
    <path d="M 999.54 1132.11
L 999.54 1126.14
L 1005.15 1126.14
L 1005.15 1111.57
L 1010.28 1111.57
L 1010.28 1128.17
L 1015.90 1128.17
L 1015.90 1126.73
L 1021.39 1126.73
L 1021.39 1114.56
L 1026.64 1114.56
L 1026.64 1103.10
L 1032.37 1103.10
L 1032.37 1113.60
L 1037.99 1113.60
L 1037.99 1103.46
L 1043.12 1103.46
L 1043.12 1086.98
L 1048.49 1086.98
L 1048.49 1092.95
L 1054.11 1092.95
L 1054.11 1105.84
L 1059.48 1105.84
L 1059.48 1058.93
L 1064.97 1058.93
L 1064.97 1090.32
L 1070.58 1090.32
L 1070.58 1083.16
L 1075.96 1083.16
L 1075.96 1104.41
L 1081.33 1104.41
L 1081.33 1116.59
L 1086.94 1116.59
L 1086.94 1086.15
L 1092.43 1086.15
L 1092.43 1021.09
L 1097.81 1021.09
L 1097.81 1062.27
L 1103.18 1062.27
L 1103.18 1052.48
L 1108.79 1052.48
L 1108.79 1025.86
L 1114.17 1025.86
L 1114.17 1039.59
L 1119.54 1039.59
L 1119.54 1056.66
L 1125.15 1056.66
L 1125.15 1049.14
L 1130.64 1049.14
L 1130.64 1063.47
L 1136.02 1063.47
L 1136.02 1008.46
L 1141.39 1008.46
L 1141.39 1022.28
L 1146.76 1022.28
L 1146.76 1015.12
L 1152.37 1015.12
L 1152.37 1007.96
L 1157.75 1007.96
L 1157.75 1066.81
L 1163.12 1066.81
L 1163.12 1049.74
L 1168.73 1049.74
L 1168.73 1074.57
L 1174.11 1074.57
L 1174.11 1058.45
L 1179.48 1058.45
L 1179.48 970.60
L 1185.21 970.60
L 1185.21 1021.68
L 1190.58 1021.68
L 1190.58 970.46
L 1196.20 970.46
L 1196.20 1008.55
L 1201.33 1008.55
L 1201.33 1047.11
L 1206.70 1047.11
L 1206.70 1081.01
L 1212.32 1081.01
L 1212.32 1031.83
L 1217.45 1031.83
L 1217.45 1012.37
L 1223.06 1012.37
L 1223.06 1105.25
L 1228.55 1105.25
L 1228.55 1080.77
L 1233.93 1080.77
L 1233.93 1114.56
L 1241.21 1114.56
L 1241.21 1059.78
L 1246.68 1059.78
L 1246.68 1063.81
L 1252.01 1063.81
L 1252.01 1097.49
L 1257.48 1097.49
L 1257.48 1117.35
L 1264.96 1117.35
L 1264.96 1122.39
L 1270.00 1122.39
L 1270.00 1089.28
L 1275.76 1089.28
L 1275.76 1073.16
L 1281.23 1073.16
L 1281.23 1093.31
L 1286.85 1093.31
L 1286.85 1099.36
L 1292.32 1099.36
L 1292.32 1095.76
L 1297.36 1095.76
L 1297.36 1097.92
L 1303.12 1097.92
L 1303.12 1095.33
L 1308.45 1095.33
L 1308.45 1111.88
L 1313.92 1111.88
L 1313.92 1140.67
L 1319.24 1140.67
L 1319.24 1131.75
L 1324.71 1131.75
L 1324.71 1105.84
L 1330.19 1105.84
L 1330.19 1139.66
L 1335.51 1139.66
L 1335.51 1119.94
L 1340.98 1119.94
L 1340.98 1138.94
L 1350.20 1138.94
L 1350.20 1132.90
L 1355.67 1132.90
L 1355.67 1116.92
L 1362.87 1116.92
L 1362.87 1127.43
L 1368.20 1127.43
L 1368.20 1111.59
L 1373.67 1111.59
L 1373.67 1115.19
L 1379.43 1115.19
L 1379.43 1114.47
L 1384.75 1114.47
L 1384.75 1050.42
L 1390.22 1050.42
L 1390.22 1098.35
L 1395.55 1098.35
L 1395.55 1047.25
L 1401.02 1047.25
L 1401.02 1011.84
L 1406.49 1011.84
L 1406.49 1066.97
L 1411.82 1066.97
L 1411.82 1049.70
L 1417.29 1049.70
L 1417.29 990.25
L 1422.62 990.25
L 1422.62 973.70
L 1427.95 973.70
L 1427.95 1007.96
L 1433.42 1007.96
L 1433.42 997.88
L 1439.18 997.88
L 1439.18 962.90
L 1444.50 962.90
L 1444.50 937.71
L 1449.98 937.71
L 1449.98 1014.86
L 1477 1014.86
L 1477 1014.86
" clip-path="url(#p7459f85846)" style="fill: none; stroke: #000000; stroke-width: 1.5; stroke-linecap: square"/>
   </g>
   <g id="line2d_138">
    <path d="M 820.87 988.38
L 1455.12 988.38
" clip-path="url(#p7459f85846)" style="fill: none; stroke-dasharray: 3.7,1.6; stroke-dashoffset: 0; stroke: #008000"/>
   </g>
   <g id="line2d_139">
    <path d="M 820.87 1147.00
L 1455.12 1147.00
" clip-path="url(#p7459f85846)" style="fill: none; stroke-dasharray: 3.7,1.6; stroke-dashoffset: 0; stroke: #008000"/>
   </g>
   <g id="patch_38">
    <path d="M 820.87 1162.87
L 820.87 909.07
" style="fill: none; stroke: #000000; stroke-width: 0.8; stroke-linejoin: miter; stroke-linecap: square"/>
   </g>
   <g id="patch_39">
    <path d="M 1455.12 1162.87
L 1455.12 909.07
" style="fill: none; stroke: #000000; stroke-width: 0.8; stroke-linejoin: miter; stroke-linecap: square"/>
   </g>
   <g id="patch_40">
    <path d="M 820.87 1162.87
L 1455.12 1162.87
" style="fill: none; stroke: #000000; stroke-width: 0.8; stroke-linejoin: miter; stroke-linecap: square"/>
   </g>
   <g id="patch_41">
    <path d="M 820.87 909.07
L 1455.12 909.07
" style="fill: none; stroke: #000000; stroke-width: 0.8; stroke-linejoin: miter; stroke-linecap: square"/>
   </g>
   <g id="text_104">
    <text style="font-size: 24px; font-family: 'DejaVu Sans', 'Bitstream Vera Sans', 'Computer Modern Sans Serif', 'Lucida Grande', 'Verdana', 'Geneva', 'Lucid', 'Arial', 'Helvetica', 'Avant Garde', sans-serif; text-anchor: start" x="1391.69" y="1132.57" transform="rotate(-0 1391.69 1132.57)">C IV</text>
   </g>
   <g id="legend_1">
    <g id="patch_42">
     <path d="M 837.25 1030.83
L 998.82 1030.83
Q 1003.50 1030.83 1003.50 1026.15
L 1003.50 925.45
Q 1003.50 920.77 998.82 920.77
L 837.25 920.77
Q 832.57 920.77 832.57 925.45
L 832.57 1026.15
Q 832.57 1030.83 837.25 1030.83
z
" style="fill: #ffffff; opacity: 0.8; stroke: #cccccc; stroke-linejoin: miter"/>
    </g>
    <g id="line2d_140">
     <path d="M 841.93 939.72
L 865.33 939.72
L 888.73 939.72
" style="fill: none; stroke: #000000; stroke-width: 1.5; stroke-linecap: square"/>
    </g>
    <g id="text_105">
     <text style="font-size: 23.4px; font-family: 'DejaVu Sans', 'Bitstream Vera Sans', 'Computer Modern Sans Serif', 'Lucida Grande', 'Verdana', 'Geneva', 'Lucid', 'Arial', 'Helvetica', 'Avant Garde', sans-serif; text-anchor: start" x="907.45" y="947.91" transform="rotate(-0 907.45 947.91)">Data</text>
    </g>
    <g id="line2d_141">
     <path d="M 841.93 974.06
L 865.33 974.06
L 888.73 974.06
" style="fill: none; stroke: #ff0000; stroke-width: 1.5; stroke-linecap: square"/>
    </g>
    <g id="text_106">
     <text style="font-size: 23.4px; font-family: 'DejaVu Sans', 'Bitstream Vera Sans', 'Computer Modern Sans Serif', 'Lucida Grande', 'Verdana', 'Geneva', 'Lucid', 'Arial', 'Helvetica', 'Avant Garde', sans-serif; text-anchor: start" x="907.45" y="982.25" transform="rotate(-0 907.45 982.25)">Best Fit</text>
    </g>
    <g id="line2d_142">
     <path d="M 841.93 1008.41
L 865.33 1008.41
L 888.73 1008.41
" style="fill: none; stroke-dasharray: 3.7,1.6; stroke-dashoffset: 0; stroke: #0000ff"/>
    </g>
    <g id="text_107">
     <text style="font-size: 23.4px; font-family: 'DejaVu Sans', 'Bitstream Vera Sans', 'Computer Modern Sans Serif', 'Lucida Grande', 'Verdana', 'Geneva', 'Lucid', 'Arial', 'Helvetica', 'Avant Garde', sans-serif; text-anchor: start" x="907.45" y="1016.60" transform="rotate(-0 907.45 1016.60)">Comp.</text>
    </g>
   </g>
  </g>
 </g>
 <defs>
  <clipPath id="pc1ba8b8812">
   <rect x="54.72" y="35.28" width="610.56" height="222.19"/>
  </clipPath>
  <clipPath id="p6748fe3856">
   <rect x="54.72" y="331.2" width="610.56" height="222.19"/>
  </clipPath>
  <clipPath id="p2519408e48">
   <rect x="54.72" y="627.55" width="610.56" height="222.19"/>
  </clipPath>
  <clipPath id="p0da49f7c9d">
   <rect x="54.72" y="923.61" width="610.56" height="222.19"/>
  </clipPath>
  <clipPath id="pd357760e2f">
   <rect x="820.87" y="7.92" width="634.24" height="253.8"/>
  </clipPath>
  <clipPath id="pa43e6b7ffd">
   <rect x="820.87" y="308.30" width="634.24" height="253.8"/>
  </clipPath>
  <clipPath id="pb285bc5636">
   <rect x="820.87" y="608.68" width="634.24" height="253.8"/>
  </clipPath>
  <clipPath id="p7459f85846">
   <rect x="820.87" y="909.07" width="634.24" height="253.8"/>
  </clipPath>
 </defs>
</svg>

</body></html>
